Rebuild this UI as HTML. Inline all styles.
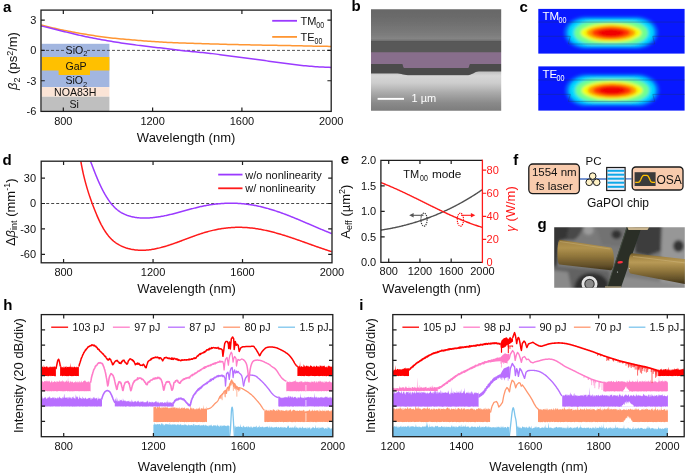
<!DOCTYPE html>
<html><head><meta charset="utf-8"><title>Figure</title>
<style>html,body{margin:0;padding:0;background:#fff;overflow:hidden}svg{display:block}</style>
</head><body>
<svg width="685" height="473" viewBox="0 0 685 473" font-family="'Liberation Sans', Arial, sans-serif">
<rect width="685" height="473" fill="#fff"/>
<text x="3" y="11.8" font-size="15" text-anchor="start" fill="#000" font-weight="bold" >a</text>
<text x="351.5" y="10.8" font-size="15" text-anchor="start" fill="#000" font-weight="bold" >b</text>
<text x="519.5" y="11.9" font-size="15" text-anchor="start" fill="#000" font-weight="bold" >c</text>
<text x="2.5" y="164.6" font-size="15" text-anchor="start" fill="#000" font-weight="bold" >d</text>
<text x="340.8" y="163.7" font-size="15" text-anchor="start" fill="#000" font-weight="bold" >e</text>
<text x="513.2" y="164.7" font-size="15" text-anchor="start" fill="#000" font-weight="bold" >f</text>
<text x="537.4" y="228.9" font-size="15" text-anchor="start" fill="#000" font-weight="bold" >g</text>
<text x="3.3" y="310.3" font-size="15" text-anchor="start" fill="#000" font-weight="bold" >h</text>
<text x="359.3" y="310" font-size="15" text-anchor="start" fill="#000" font-weight="bold" >i</text>
<rect x="41.6" y="43.8" width="67.80000000000001" height="43.3" fill="#a2b6e0"/>
<path d="M41.6,57.1 H109.4 V70.6 H90 V74.9 H58.6 V70.6 H41.6 Z" fill="#ffc000"/>
<rect x="41.6" y="87.1" width="67.80000000000001" height="9.600000000000009" fill="#fbe4d6"/>
<rect x="41.6" y="96.7" width="67.80000000000001" height="14.700000000000003" fill="#bfbfbf"/>
<path d="M41.0,50.4 H64.5 M87,50.4 H331.2" stroke="#444" stroke-width="0.9" stroke-dasharray="3,2" fill="none"/>
<text x="65.6" y="53.8" font-size="10.6" fill="#111">SiO<tspan font-size="7.5" dy="2.6">2</tspan></text>
<text x="76" y="69.6" font-size="10.6" text-anchor="middle" fill="#111" font-weight="normal" >GaP</text>
<text x="65.4" y="84" font-size="10.6" fill="#111">SiO<tspan font-size="7.5" dy="2.6">2</tspan></text>
<text x="75.2" y="95.7" font-size="10.6" text-anchor="middle" fill="#111" font-weight="normal" >NOA83H</text>
<text x="74.2" y="107.7" font-size="10.6" text-anchor="middle" fill="#111" font-weight="normal" >Si</text>
<path d="M41.2,25.1 L43.14,25.57 L45.09,26.04 L47.03,26.51 L48.98,26.97 L50.92,27.43 L52.87,27.89 L54.81,28.33 L56.76,28.78 L58.7,29.21 L60.65,29.63 L62.59,30.05 L64.54,30.45 L66.48,30.84 L68.43,31.23 L70.37,31.6 L72.32,31.97 L74.26,32.33 L76.21,32.68 L78.15,33.03 L80.1,33.37 L82.04,33.7 L83.99,34.03 L85.93,34.36 L87.88,34.68 L89.82,35 L91.77,35.31 L93.71,35.61 L95.66,35.91 L97.6,36.2 L99.55,36.48 L101.49,36.75 L103.44,37.01 L105.38,37.26 L107.33,37.5 L109.27,37.72 L111.22,37.94 L113.16,38.15 L115.11,38.35 L117.05,38.54 L119,38.73 L120.94,38.91 L122.89,39.08 L124.83,39.26 L126.78,39.43 L128.72,39.6 L130.67,39.77 L132.61,39.94 L134.56,40.1 L136.5,40.27 L138.45,40.43 L140.39,40.59 L142.34,40.75 L144.28,40.9 L146.23,41.05 L148.17,41.2 L150.12,41.35 L152.06,41.48 L154.01,41.62 L155.95,41.75 L157.9,41.87 L159.84,41.99 L161.79,42.11 L163.73,42.22 L165.68,42.32 L167.62,42.42 L169.57,42.52 L171.51,42.6 L173.46,42.69 L175.4,42.76 L177.35,42.84 L179.29,42.91 L181.24,42.97 L183.18,43.04 L185.13,43.1 L187.07,43.17 L189.02,43.23 L190.96,43.3 L192.91,43.36 L194.85,43.42 L196.8,43.49 L198.74,43.55 L200.69,43.61 L202.63,43.67 L204.58,43.73 L206.52,43.79 L208.47,43.85 L210.41,43.9 L212.36,43.96 L214.3,44.01 L216.25,44.07 L218.19,44.12 L220.14,44.18 L222.08,44.23 L224.03,44.28 L225.97,44.33 L227.92,44.38 L229.86,44.43 L231.81,44.47 L233.75,44.52 L235.7,44.57 L237.64,44.61 L239.59,44.66 L241.53,44.7 L243.48,44.75 L245.42,44.79 L247.37,44.83 L249.31,44.87 L251.26,44.91 L253.2,44.95 L255.15,44.99 L257.09,45.03 L259.04,45.06 L260.98,45.1 L262.93,45.13 L264.87,45.17 L266.82,45.2 L268.76,45.23 L270.71,45.27 L272.65,45.3 L274.6,45.33 L276.54,45.37 L278.49,45.4 L280.43,45.43 L282.38,45.46 L284.32,45.5 L286.27,45.53 L288.21,45.57 L290.16,45.61 L292.1,45.65 L294.05,45.69 L295.99,45.73 L297.94,45.78 L299.88,45.83 L301.83,45.87 L303.77,45.92 L305.72,45.97 L307.66,46.01 L309.61,46.06 L311.55,46.1 L313.5,46.14 L315.44,46.18 L317.39,46.22 L319.33,46.25 L321.28,46.28 L323.22,46.31 L325.17,46.33 L327.11,46.35 L329.06,46.38 L331,46.4" stroke="#ff9633" stroke-width="1.5" fill="none"/>
<path d="M41.2,25.9 L43.14,26.38 L45.09,26.86 L47.03,27.34 L48.98,27.81 L50.92,28.29 L52.87,28.77 L54.81,29.25 L56.76,29.73 L58.7,30.21 L60.65,30.69 L62.59,31.17 L64.54,31.65 L66.48,32.13 L68.43,32.61 L70.37,33.08 L72.32,33.56 L74.26,34.02 L76.21,34.48 L78.15,34.93 L80.1,35.38 L82.04,35.82 L83.99,36.24 L85.93,36.66 L87.88,37.06 L89.82,37.46 L91.77,37.84 L93.71,38.22 L95.66,38.59 L97.6,38.95 L99.55,39.31 L101.49,39.66 L103.44,40 L105.38,40.35 L107.33,40.68 L109.27,41.01 L111.22,41.34 L113.16,41.66 L115.11,41.98 L117.05,42.3 L119,42.6 L120.94,42.91 L122.89,43.2 L124.83,43.5 L126.78,43.78 L128.72,44.06 L130.67,44.33 L132.61,44.6 L134.56,44.86 L136.5,45.12 L138.45,45.37 L140.39,45.61 L142.34,45.85 L144.28,46.09 L146.23,46.32 L148.17,46.55 L150.12,46.77 L152.06,46.99 L154.01,47.21 L155.95,47.42 L157.9,47.64 L159.84,47.85 L161.79,48.07 L163.73,48.29 L165.68,48.51 L167.62,48.74 L169.57,48.97 L171.51,49.21 L173.46,49.46 L175.4,49.71 L177.35,49.96 L179.29,50.21 L181.24,50.46 L183.18,50.69 L185.13,50.91 L187.07,51.12 L189.02,51.32 L190.96,51.51 L192.91,51.69 L194.85,51.87 L196.8,52.04 L198.74,52.21 L200.69,52.39 L202.63,52.57 L204.58,52.76 L206.52,52.96 L208.47,53.17 L210.41,53.4 L212.36,53.63 L214.3,53.87 L216.25,54.12 L218.19,54.38 L220.14,54.64 L222.08,54.9 L224.03,55.16 L225.97,55.42 L227.92,55.68 L229.86,55.94 L231.81,56.19 L233.75,56.44 L235.7,56.69 L237.64,56.93 L239.59,57.17 L241.53,57.42 L243.48,57.66 L245.42,57.91 L247.37,58.16 L249.31,58.42 L251.26,58.67 L253.2,58.94 L255.15,59.21 L257.09,59.48 L259.04,59.75 L260.98,60.03 L262.93,60.31 L264.87,60.59 L266.82,60.87 L268.76,61.15 L270.71,61.43 L272.65,61.71 L274.6,61.98 L276.54,62.26 L278.49,62.53 L280.43,62.79 L282.38,63.06 L284.32,63.31 L286.27,63.57 L288.21,63.82 L290.16,64.07 L292.1,64.31 L294.05,64.55 L295.99,64.78 L297.94,65 L299.88,65.22 L301.83,65.43 L303.77,65.63 L305.72,65.82 L307.66,66.01 L309.61,66.18 L311.55,66.35 L313.5,66.5 L315.44,66.64 L317.39,66.76 L319.33,66.88 L321.28,66.98 L323.22,67.07 L325.17,67.16 L327.11,67.24 L329.06,67.32 L331,67.4" stroke="#9b3aff" stroke-width="1.5" fill="none"/>
<rect x="41" y="10.1" width="290.2" height="101.3" fill="none" stroke="#1e1e1e" stroke-width="1.3"/>
<path d="M63.32,111.4 v-3.8 M63.32,10.1 v3.8 M152.62,111.4 v-3.8 M152.62,10.1 v3.8 M241.91,111.4 v-3.8 M241.91,10.1 v3.8 M41,20.04 h3.8 M331.2,20.04 h-3.8 M41,50.4 h3.8 M331.2,50.4 h-3.8 M41,80.76 h3.8 M331.2,80.76 h-3.8" stroke="#1e1e1e" stroke-width="1.2" fill="none"/>
<text x="36.3" y="23.84" font-size="11" text-anchor="end" fill="#111" font-weight="normal" >3</text>
<text x="36.3" y="54.2" font-size="11" text-anchor="end" fill="#111" font-weight="normal" >0</text>
<text x="36.3" y="84.56" font-size="11" text-anchor="end" fill="#111" font-weight="normal" >-3</text>
<text x="36.3" y="114.92" font-size="11" text-anchor="end" fill="#111" font-weight="normal" >-6</text>
<text x="63.32" y="124.9" font-size="11" text-anchor="middle" fill="#111" font-weight="normal" >800</text>
<text x="152.62" y="124.9" font-size="11" text-anchor="middle" fill="#111" font-weight="normal" >1200</text>
<text x="241.91" y="124.9" font-size="11" text-anchor="middle" fill="#111" font-weight="normal" >1600</text>
<text x="331.2" y="124.9" font-size="11" text-anchor="middle" fill="#111" font-weight="normal" >2000</text>
<text x="186.1" y="142" font-size="13" text-anchor="middle" fill="#111" font-weight="normal" >Wavelength (nm)</text>
<text transform="translate(17.4,61) rotate(-90)" text-anchor="middle" font-size="13" fill="#111"><tspan font-style="italic">β</tspan><tspan font-size="9" dy="2.5">2</tspan><tspan dy="-2.5"> (ps</tspan><tspan font-size="9" dy="-4.5">2</tspan><tspan dy="4.5">/m)</tspan></text>
<path d="M272.2,20.8 H297" stroke="#9b3aff" stroke-width="1.8"/>
<path d="M272.2,36.9 H297" stroke="#ff9633" stroke-width="1.8"/>
<text x="300.6" y="24.8" font-size="11" text-anchor="start" fill="#111" font-weight="normal" >TM</text>
<text x="316.3" y="27.7" font-size="8.4" fill="#111" textLength="7.8" lengthAdjust="spacingAndGlyphs">00</text>
<text x="300.6" y="40.7" font-size="11" text-anchor="start" fill="#111" font-weight="normal" >TE</text>
<text x="314.6" y="43.6" font-size="8.4" fill="#111" textLength="7.8" lengthAdjust="spacingAndGlyphs">00</text>
<defs>
<clipPath id="semclip"><rect x="371" y="9.2" width="130.2" height="101.6"/></clipPath>
<filter id="semblur" x="-5%" y="-5%" width="110%" height="110%"><feGaussianBlur stdDeviation="0.6"/></filter>
<linearGradient id="semtop" x1="0" y1="0" x2="0" y2="1"><stop offset="0" stop-color="#666"/><stop offset="0.4" stop-color="#6e6e6e"/><stop offset="0.78" stop-color="#7c7c7c"/><stop offset="0.92" stop-color="#868686"/><stop offset="1" stop-color="#767676"/></linearGradient>
<linearGradient id="sembot" gradientUnits="userSpaceOnUse" x1="0" y1="71" x2="0" y2="111"><stop offset="0" stop-color="#bdbdbd"/><stop offset="0.12" stop-color="#d6d6d6"/><stop offset="0.3" stop-color="#cdcdcd"/><stop offset="0.55" stop-color="#a9a9a9"/><stop offset="0.8" stop-color="#8a8a8a"/><stop offset="1" stop-color="#7c7c7c"/></linearGradient>
</defs>
<g clip-path="url(#semclip)">
<g filter="url(#semblur)">
<rect x="369" y="8" width="134" height="34" fill="url(#semtop)"/>
<rect x="369" y="39.2" width="134" height="1.6" fill="#7a7a7a"/>
<rect x="369" y="40.8" width="134" height="35" fill="#555"/>
<rect x="369" y="41.5" width="134" height="11" fill="#585858"/>
<path d="M369,52.3 H503 V63.9 H470 L468.6,68.1 H403.6 L402.2,63.9 H369 Z" fill="#886e8c"/>
<path d="M369,63.9 H402.2 L403.6,68.1 H468.6 L470,63.9 H503 V71.5 H479 C474,71.5 473,75.3 466,75.3 H410 C404,75.3 402,73.5 395,73.5 H369 Z" fill="#4c4c4c"/>
<path d="M369,73.5 H395 C402,73.5 404,75.3 410,75.3 H466 C473,75.3 474,71.5 479,71.5 H503 V112 H369 Z" fill="url(#sembot)"/>
</g>
<rect x="377.6" y="97.9" width="26.4" height="1.9" fill="#fff"/>
</g>
<text x="411.6" y="102.3" font-size="11" text-anchor="start" fill="#fff" font-weight="normal" >1 µm</text>
<defs><filter id="modeblur" x="-20%" y="-40%" width="140%" height="180%"><feGaussianBlur stdDeviation="1.5"/></filter><clipPath id="cclip1"><rect x="538.3" y="8.9" width="146.3" height="44.7"/></clipPath><clipPath id="cclip2"><rect x="538.3" y="66.4" width="146.3" height="44.2"/></clipPath></defs>
<rect x="538.3" y="8.9" width="146.30000000000007" height="44.7" fill="#0818ff"/>
<g clip-path="url(#cclip1)"><g filter="url(#modeblur)">
<rect x="564" y="16.5" width="94" height="32.5" rx="22" ry="16" fill="#0068ff"/>
<rect x="568" y="19" width="86" height="27.5" rx="20" ry="13" fill="#00d8ff"/>
<rect x="574" y="21.5" width="74" height="22.7" rx="20" ry="11" fill="#70ff90"/>
<ellipse cx="611" cy="32.8" rx="30.5" ry="9.3" fill="#f4ff10"/>
<ellipse cx="611" cy="32.8" rx="24.5" ry="7.2" fill="#ff9400"/>
<ellipse cx="611" cy="32.8" rx="19" ry="5.6" fill="#ff3000"/>
<ellipse cx="611" cy="32.8" rx="13" ry="4" fill="#f00000"/>
</g></g>
<path d="M538.3,22.1 H684.6 M538.3,36.3 H570.3 L568.3,44.0 H654.8 L652.8,36.3 H684.6" stroke="#203060" stroke-opacity="0.5" stroke-width="0.7" fill="none"/>
<text x="542.4" y="20.3" font-size="11.5" text-anchor="start" fill="#fff" font-weight="normal" >TM</text>
<text x="558.6" y="23.1" font-size="8.6" fill="#fff" textLength="8" lengthAdjust="spacingAndGlyphs">00</text>
<rect x="538.3" y="66.4" width="146.30000000000007" height="44.2" fill="#0818ff"/>
<g clip-path="url(#cclip2)"><g filter="url(#modeblur)">
<rect x="565.2" y="74.1" width="94" height="32.5" rx="22" ry="16" fill="#0068ff"/>
<rect x="569.2" y="76.6" width="86" height="27.5" rx="20" ry="13" fill="#00d8ff"/>
<rect x="575.2" y="79.1" width="74" height="22.7" rx="20" ry="11" fill="#70ff90"/>
<ellipse cx="612.2" cy="90.4" rx="30.5" ry="9.3" fill="#f4ff10"/>
<ellipse cx="612.2" cy="90.4" rx="24.5" ry="7.2" fill="#ff9400"/>
<ellipse cx="612.2" cy="90.4" rx="19" ry="5.6" fill="#ff3000"/>
<ellipse cx="612.2" cy="90.4" rx="13" ry="4" fill="#f00000"/>
</g></g>
<path d="M538.3,80.0 H684.6 M538.3,94.4 H570.3 L568.3,101.4 H654.8 L652.8,94.4 H684.6" stroke="#203060" stroke-opacity="0.5" stroke-width="0.7" fill="none"/>
<text x="542.4" y="77.8" font-size="11.5" text-anchor="start" fill="#fff" font-weight="normal" >TE</text>
<text x="556.4" y="80.6" font-size="8.6" fill="#fff" textLength="8" lengthAdjust="spacingAndGlyphs">00</text>
<path d="M41.2,203.5 H332.0" stroke="#333" stroke-width="0.9" stroke-dasharray="3,2" fill="none"/>
<clipPath id="dclip"><rect x="41.2" y="161.2" width="290.8" height="101.6"/></clipPath>
<g clip-path="url(#dclip)">
<path d="M90.53,161.31 L90.84,162.1 L91.15,162.9 L91.46,163.71 L91.77,164.52 L92.09,165.34 L92.4,166.17 L92.72,167 L93.04,167.83 L93.36,168.68 L93.69,169.52 L94.01,170.37 L94.35,171.22 L94.68,172.08 L95.02,172.94 L95.36,173.81 L95.71,174.67 L96.05,175.54 L96.41,176.41 L96.77,177.29 L97.13,178.16 L97.5,179.04 L97.87,179.91 L98.25,180.79 L98.63,181.67 L99.02,182.54 L99.41,183.42 L99.81,184.29 L100.22,185.17 L100.63,186.04 L101.05,186.91 L101.47,187.78 L101.91,188.65 L102.35,189.52 L102.79,190.38 L103.25,191.24 L103.71,192.09 L104.18,192.95 L104.66,193.79 L105.14,194.64 L105.64,195.48 L106.14,196.31 L106.65,197.14 L107.17,197.96 L107.7,198.77 L108.24,199.58 L108.79,200.37 L109.35,201.16 L109.91,201.93 L110.49,202.69 L111.08,203.44 L111.68,204.18 L112.29,204.9 L112.91,205.6 L113.54,206.29 L114.18,206.96 L114.83,207.62 L115.5,208.25 L116.18,208.86 L116.86,209.46 L117.57,210.03 L118.28,210.58 L119,211.1 L119.74,211.61 L120.49,212.09 L121.25,212.55 L122.02,212.99 L122.8,213.4 L123.59,213.8 L124.39,214.18 L125.2,214.54 L126.02,214.87 L126.84,215.19 L127.68,215.49 L128.53,215.77 L129.38,216.04 L130.24,216.28 L131.1,216.51 L131.98,216.72 L132.86,216.91 L133.75,217.09 L134.64,217.25 L135.54,217.39 L136.44,217.52 L137.35,217.64 L138.27,217.73 L139.18,217.82 L140.11,217.89 L141.03,217.95 L141.96,217.99 L142.89,218.02 L143.83,218.03 L144.77,218.04 L145.71,218.03 L146.65,218.01 L147.59,217.98 L148.54,217.94 L149.48,217.88 L150.43,217.82 L151.37,217.74 L152.32,217.66 L153.27,217.56 L154.21,217.46 L155.16,217.35 L156.1,217.23 L157.04,217.1 L157.98,216.96 L158.92,216.82 L159.85,216.67 L160.78,216.51 L161.71,216.34 L162.64,216.17 L163.57,216 L164.49,215.81 L165.41,215.62 L166.33,215.43 L167.25,215.23 L168.16,215.02 L169.08,214.81 L169.99,214.6 L170.9,214.38 L171.81,214.16 L172.72,213.94 L173.63,213.71 L174.53,213.47 L175.44,213.24 L176.34,213 L177.25,212.76 L178.15,212.52 L179.05,212.28 L179.95,212.04 L180.85,211.79 L181.75,211.54 L182.65,211.3 L183.55,211.05 L184.45,210.8 L185.35,210.55 L186.25,210.3 L187.15,210.06 L188.05,209.81 L188.95,209.57 L189.84,209.32 L190.74,209.08 L191.65,208.84 L192.55,208.6 L193.45,208.37 L194.35,208.13 L195.25,207.9 L196.16,207.68 L197.06,207.45 L197.97,207.23 L198.87,207.02 L199.78,206.81 L200.69,206.6 L201.6,206.4 L202.52,206.2 L203.43,206.01 L204.35,205.82 L205.26,205.64 L206.18,205.47 L207.1,205.3 L208.02,205.14 L208.95,204.98 L209.88,204.83 L210.8,204.69 L211.73,204.55 L212.66,204.42 L213.6,204.3 L214.53,204.19 L215.47,204.08 L216.4,203.97 L217.34,203.88 L218.28,203.79 L219.22,203.7 L220.16,203.63 L221.1,203.56 L222.04,203.49 L222.98,203.43 L223.92,203.38 L224.87,203.34 L225.81,203.3 L226.76,203.27 L227.7,203.25 L228.64,203.23 L229.59,203.22 L230.53,203.21 L231.48,203.22 L232.42,203.23 L233.36,203.24 L234.31,203.26 L235.25,203.29 L236.19,203.33 L237.13,203.37 L238.07,203.42 L239.01,203.47 L239.95,203.53 L240.89,203.6 L241.83,203.68 L242.76,203.76 L243.7,203.85 L244.63,203.94 L245.56,204.05 L246.49,204.16 L247.42,204.27 L248.35,204.39 L249.28,204.52 L250.2,204.66 L251.12,204.8 L252.04,204.95 L252.96,205.1 L253.88,205.26 L254.79,205.43 L255.71,205.61 L256.62,205.79 L257.53,205.98 L258.44,206.17 L259.34,206.37 L260.25,206.57 L261.15,206.78 L262.05,207 L262.95,207.22 L263.85,207.44 L264.75,207.68 L265.64,207.91 L266.54,208.16 L267.43,208.4 L268.32,208.65 L269.21,208.91 L270.1,209.17 L270.99,209.44 L271.87,209.71 L272.76,209.99 L273.64,210.26 L274.52,210.55 L275.41,210.84 L276.29,211.13 L277.17,211.42 L278.04,211.72 L278.92,212.02 L279.8,212.33 L280.67,212.64 L281.55,212.95 L282.42,213.27 L283.29,213.59 L284.16,213.91 L285.03,214.24 L285.9,214.57 L286.77,214.9 L287.64,215.24 L288.51,215.57 L289.38,215.91 L290.24,216.25 L291.11,216.6 L291.97,216.94 L292.84,217.29 L293.7,217.64 L294.57,218 L295.43,218.35 L296.29,218.71 L297.15,219.06 L298.01,219.42 L298.88,219.78 L299.74,220.14 L300.6,220.51 L301.46,220.87 L302.32,221.24 L303.18,221.6 L304.04,221.97 L304.9,222.34 L305.76,222.71 L306.62,223.07 L307.48,223.44 L308.33,223.81 L309.19,224.18 L310.05,224.55 L310.91,224.92 L311.77,225.29 L312.63,225.66 L313.49,226.03 L314.35,226.4 L315.21,226.77 L316.07,227.13 L316.93,227.5 L317.79,227.87 L318.65,228.23 L319.51,228.6 L320.37,228.96 L321.23,229.32 L322.1,229.68 L322.96,230.04 L323.82,230.4 L324.69,230.76 L325.55,231.11 L326.41,231.46 L327.28,231.81 L328.15,232.16 L329.01,232.51 L329.88,232.85 L330.75,233.2 L331.62,233.54" stroke="#9b3aff" stroke-width="1.5" fill="none"/>
<path d="M80.82,161.15 L81,162.2 L81.18,163.25 L81.37,164.3 L81.56,165.34 L81.76,166.38 L81.96,167.42 L82.17,168.45 L82.38,169.48 L82.59,170.51 L82.81,171.53 L83.03,172.56 L83.26,173.58 L83.49,174.59 L83.73,175.61 L83.97,176.62 L84.22,177.64 L84.46,178.64 L84.72,179.65 L84.98,180.66 L85.24,181.66 L85.51,182.67 L85.78,183.67 L86.06,184.67 L86.34,185.67 L86.63,186.66 L86.92,187.66 L87.21,188.66 L87.51,189.65 L87.82,190.65 L88.13,191.64 L88.44,192.63 L88.76,193.63 L89.09,194.62 L89.41,195.61 L89.75,196.6 L90.09,197.6 L90.43,198.59 L90.78,199.58 L91.13,200.58 L91.49,201.57 L91.85,202.56 L92.22,203.56 L92.59,204.55 L92.97,205.55 L93.35,206.55 L93.74,207.55 L94.13,208.55 L94.52,209.55 L94.93,210.55 L95.33,211.56 L95.75,212.56 L96.16,213.57 L96.58,214.58 L97.01,215.59 L97.45,216.6 L97.89,217.61 L98.34,218.61 L98.79,219.61 L99.26,220.61 L99.73,221.6 L100.21,222.59 L100.7,223.57 L101.19,224.55 L101.7,225.51 L102.22,226.47 L102.75,227.42 L103.29,228.36 L103.84,229.28 L104.41,230.2 L104.98,231.1 L105.57,231.99 L106.17,232.86 L106.79,233.72 L107.41,234.56 L108.06,235.39 L108.71,236.19 L109.39,236.98 L110.07,237.75 L110.78,238.5 L111.5,239.23 L112.23,239.93 L112.99,240.62 L113.76,241.28 L114.55,241.91 L115.35,242.52 L116.18,243.11 L117.02,243.67 L117.88,244.2 L118.75,244.71 L119.64,245.2 L120.54,245.66 L121.46,246.1 L122.39,246.52 L123.33,246.91 L124.28,247.28 L125.24,247.62 L126.21,247.95 L127.19,248.25 L128.18,248.53 L129.18,248.78 L130.18,249.02 L131.18,249.24 L132.2,249.43 L133.21,249.6 L134.23,249.75 L135.25,249.89 L136.28,250 L137.3,250.09 L138.33,250.16 L139.35,250.22 L140.38,250.25 L141.4,250.27 L142.42,250.27 L143.44,250.25 L144.46,250.21 L145.49,250.16 L146.51,250.09 L147.53,250 L148.54,249.9 L149.56,249.78 L150.58,249.65 L151.6,249.5 L152.62,249.34 L153.63,249.17 L154.65,248.99 L155.67,248.79 L156.68,248.58 L157.7,248.35 L158.71,248.12 L159.73,247.87 L160.74,247.62 L161.76,247.35 L162.77,247.07 L163.78,246.79 L164.8,246.5 L165.81,246.19 L166.83,245.88 L167.84,245.56 L168.85,245.24 L169.87,244.91 L170.88,244.57 L171.89,244.22 L172.91,243.88 L173.92,243.52 L174.94,243.16 L175.95,242.8 L176.96,242.43 L177.98,242.06 L178.99,241.68 L180.01,241.31 L181.02,240.93 L182.04,240.55 L183.05,240.16 L184.07,239.78 L185.09,239.4 L186.1,239.01 L187.12,238.63 L188.14,238.25 L189.15,237.87 L190.17,237.49 L191.19,237.11 L192.21,236.73 L193.23,236.36 L194.25,235.99 L195.27,235.63 L196.29,235.27 L197.32,234.91 L198.34,234.56 L199.36,234.21 L200.39,233.87 L201.41,233.53 L202.44,233.21 L203.46,232.88 L204.49,232.57 L205.52,232.27 L206.55,231.97 L207.58,231.68 L208.61,231.4 L209.64,231.13 L210.67,230.87 L211.71,230.61 L212.74,230.37 L213.77,230.14 L214.81,229.91 L215.84,229.69 L216.88,229.49 L217.92,229.29 L218.95,229.1 L219.99,228.92 L221.03,228.75 L222.07,228.59 L223.11,228.44 L224.15,228.3 L225.18,228.16 L226.22,228.04 L227.26,227.93 L228.3,227.82 L229.34,227.73 L230.38,227.64 L231.42,227.57 L232.46,227.5 L233.5,227.45 L234.54,227.4 L235.58,227.36 L236.61,227.33 L237.65,227.32 L238.69,227.31 L239.73,227.31 L240.77,227.32 L241.8,227.35 L242.84,227.38 L243.87,227.42 L244.91,227.47 L245.94,227.53 L246.98,227.6 L248.01,227.69 L249.04,227.78 L250.07,227.88 L251.11,227.98 L252.14,228.1 L253.17,228.23 L254.2,228.36 L255.23,228.5 L256.25,228.66 L257.28,228.82 L258.31,228.98 L259.34,229.16 L260.36,229.34 L261.39,229.53 L262.41,229.73 L263.44,229.93 L264.46,230.14 L265.48,230.36 L266.5,230.59 L267.53,230.82 L268.55,231.05 L269.57,231.3 L270.59,231.55 L271.61,231.8 L272.63,232.06 L273.64,232.33 L274.66,232.6 L275.68,232.88 L276.69,233.16 L277.71,233.45 L278.72,233.74 L279.74,234.04 L280.75,234.34 L281.77,234.64 L282.78,234.95 L283.79,235.26 L284.8,235.58 L285.81,235.9 L286.82,236.22 L287.83,236.55 L288.84,236.88 L289.85,237.21 L290.86,237.54 L291.86,237.88 L292.87,238.22 L293.88,238.56 L294.88,238.91 L295.88,239.26 L296.89,239.6 L297.89,239.95 L298.89,240.3 L299.9,240.66 L300.9,241.01 L301.9,241.36 L302.9,241.72 L303.9,242.08 L304.9,242.43 L305.89,242.79 L306.89,243.15 L307.89,243.5 L308.88,243.86 L309.88,244.22 L310.88,244.57 L311.87,244.93 L312.86,245.28 L313.86,245.63 L314.85,245.99 L315.84,246.34 L316.83,246.69 L317.82,247.04 L318.81,247.38 L319.8,247.73 L320.79,248.07 L321.78,248.41 L322.76,248.74 L323.75,249.08 L324.74,249.41 L325.72,249.74 L326.71,250.07 L327.69,250.39 L328.67,250.71 L329.66,251.02 L330.64,251.34 L331.62,251.64" stroke="#ff1a1a" stroke-width="1.5" fill="none"/>
</g>
<rect x="41.2" y="161.2" width="290.8" height="101.6" fill="none" stroke="#1e1e1e" stroke-width="1.3"/>
<path d="M63.57,262.8 v-3.8 M63.57,161.2 v3.8 M153.05,262.8 v-3.8 M153.05,161.2 v3.8 M242.52,262.8 v-3.8 M242.52,161.2 v3.8 M41.2,178.1 h3.8 M332,178.1 h-3.8 M41.2,203.5 h3.8 M332,203.5 h-3.8 M41.2,228.9 h3.8 M332,228.9 h-3.8 M41.2,254.3 h3.8 M332,254.3 h-3.8" stroke="#1e1e1e" stroke-width="1.2" fill="none"/>
<text x="36.1" y="181.9" font-size="11" text-anchor="end" fill="#111" font-weight="normal" >30</text>
<text x="36.1" y="207.3" font-size="11" text-anchor="end" fill="#111" font-weight="normal" >0</text>
<text x="36.1" y="232.7" font-size="11" text-anchor="end" fill="#111" font-weight="normal" >-30</text>
<text x="36.1" y="258.1" font-size="11" text-anchor="end" fill="#111" font-weight="normal" >-60</text>
<text x="63.57" y="275.8" font-size="11" text-anchor="middle" fill="#111" font-weight="normal" >800</text>
<text x="153.05" y="275.8" font-size="11" text-anchor="middle" fill="#111" font-weight="normal" >1200</text>
<text x="242.52" y="275.8" font-size="11" text-anchor="middle" fill="#111" font-weight="normal" >1600</text>
<text x="332" y="275.8" font-size="11" text-anchor="middle" fill="#111" font-weight="normal" >2000</text>
<text x="186.6" y="292.6" font-size="13" text-anchor="middle" fill="#111" font-weight="normal" >Wavelength (nm)</text>
<text transform="translate(14.6,212.3) rotate(-90)" text-anchor="middle" font-size="13" fill="#111">Δ<tspan font-style="italic">β</tspan><tspan font-size="9" dy="2.5">int</tspan><tspan dy="-2.5"> (mm</tspan><tspan font-size="9" dy="-4.5">-1</tspan><tspan dy="4.5">)</tspan></text>
<path d="M218.2,174.6 H242.5" stroke="#9b3aff" stroke-width="1.8"/>
<path d="M218.2,188.3 H242.5" stroke="#ff1a1a" stroke-width="1.8"/>
<text x="245.3" y="178.6" font-size="11" text-anchor="start" fill="#111" font-weight="normal" >w/o nonlinearity</text>
<text x="245.3" y="192.3" font-size="11" text-anchor="start" fill="#111" font-weight="normal" >w/ nonlinearity</text>
<path d="M380.93,230.1 L381.67,229.98 L382.4,229.87 L383.14,229.76 L383.87,229.64 L384.6,229.52 L385.34,229.4 L386.07,229.27 L386.8,229.15 L387.53,229.02 L388.26,228.88 L388.99,228.75 L389.72,228.62 L390.45,228.48 L391.18,228.34 L391.9,228.19 L392.63,228.05 L393.35,227.9 L394.08,227.75 L394.8,227.6 L395.53,227.45 L396.25,227.29 L396.97,227.13 L397.69,226.97 L398.41,226.81 L399.13,226.64 L399.85,226.48 L400.57,226.31 L401.29,226.14 L402.01,225.96 L402.72,225.79 L403.44,225.61 L404.15,225.43 L404.87,225.25 L405.58,225.06 L406.29,224.87 L407.01,224.68 L407.72,224.49 L408.43,224.3 L409.14,224.1 L409.85,223.9 L410.55,223.7 L411.26,223.5 L411.97,223.3 L412.67,223.09 L413.38,222.88 L414.08,222.67 L414.79,222.46 L415.49,222.24 L416.19,222.02 L416.9,221.8 L417.6,221.58 L418.3,221.36 L419,221.13 L419.69,220.9 L420.39,220.67 L421.09,220.44 L421.79,220.2 L422.48,219.97 L423.18,219.73 L423.87,219.49 L424.56,219.24 L425.25,219 L425.95,218.75 L426.64,218.5 L427.33,218.25 L428.01,217.99 L428.7,217.74 L429.39,217.48 L430.08,217.22 L430.76,216.96 L431.45,216.69 L432.13,216.42 L432.82,216.16 L433.5,215.88 L434.18,215.61 L434.86,215.34 L435.54,215.06 L436.22,214.78 L436.9,214.5 L437.57,214.21 L438.25,213.93 L438.93,213.64 L439.6,213.35 L440.28,213.06 L440.95,212.76 L441.62,212.47 L442.29,212.17 L442.96,211.87 L443.63,211.57 L444.3,211.26 L444.97,210.96 L445.64,210.65 L446.3,210.34 L446.97,210.03 L447.63,209.71 L448.3,209.4 L448.96,209.08 L449.62,208.76 L450.28,208.43 L450.94,208.11 L451.6,207.78 L452.26,207.45 L452.92,207.12 L453.58,206.79 L454.23,206.45 L454.89,206.12 L455.54,205.78 L456.19,205.44 L456.84,205.09 L457.5,204.75 L458.15,204.4 L458.79,204.05 L459.44,203.7 L460.09,203.35 L460.74,202.99 L461.38,202.64 L462.03,202.28 L462.67,201.92 L463.31,201.56 L463.96,201.19 L464.6,200.82 L465.24,200.45 L465.88,200.08 L466.51,199.71 L467.15,199.34 L467.79,198.96 L468.42,198.58 L469.06,198.2 L469.69,197.82 L470.32,197.43 L470.95,197.05 L471.58,196.66 L472.21,196.27 L472.84,195.88 L473.47,195.48 L474.09,195.08 L474.72,194.69 L475.34,194.29 L475.97,193.88 L476.59,193.48 L477.21,193.07 L477.83,192.67 L478.45,192.26 L479.07,191.85 L479.69,191.43 L480.3,191.02 L480.92,190.6 L481.53,190.18 L482.15,189.76" stroke="#505050" stroke-width="1.4" fill="none"/>
<path d="M380.99,182.62 L381.69,182.89 L382.38,183.16 L383.07,183.43 L383.76,183.71 L384.45,183.98 L385.14,184.26 L385.83,184.54 L386.51,184.82 L387.2,185.1 L387.88,185.39 L388.57,185.67 L389.25,185.96 L389.94,186.25 L390.62,186.54 L391.3,186.84 L391.98,187.13 L392.66,187.43 L393.34,187.73 L394.02,188.02 L394.7,188.32 L395.38,188.63 L396.06,188.93 L396.74,189.23 L397.42,189.54 L398.09,189.85 L398.77,190.15 L399.44,190.46 L400.12,190.77 L400.79,191.09 L401.47,191.4 L402.14,191.71 L402.81,192.03 L403.49,192.34 L404.16,192.66 L404.83,192.98 L405.5,193.3 L406.17,193.62 L406.84,193.94 L407.51,194.26 L408.18,194.58 L408.85,194.9 L409.52,195.22 L410.19,195.55 L410.86,195.87 L411.53,196.2 L412.2,196.52 L412.87,196.85 L413.54,197.18 L414.2,197.51 L414.87,197.83 L415.54,198.16 L416.21,198.49 L416.87,198.82 L417.54,199.15 L418.21,199.48 L418.87,199.81 L419.54,200.14 L420.21,200.47 L420.87,200.8 L421.54,201.13 L422.21,201.46 L422.87,201.79 L423.54,202.12 L424.21,202.45 L424.87,202.79 L425.54,203.12 L426.21,203.45 L426.87,203.78 L427.54,204.11 L428.2,204.44 L428.87,204.77 L429.54,205.1 L430.2,205.43 L430.87,205.76 L431.54,206.09 L432.21,206.42 L432.87,206.75 L433.54,207.07 L434.21,207.4 L434.88,207.73 L435.54,208.06 L436.21,208.38 L436.88,208.71 L437.55,209.03 L438.22,209.36 L438.89,209.68 L439.56,210 L440.23,210.32 L440.9,210.65 L441.57,210.97 L442.24,211.29 L442.91,211.6 L443.58,211.92 L444.25,212.24 L444.93,212.56 L445.6,212.87 L446.27,213.19 L446.94,213.5 L447.62,213.81 L448.29,214.12 L448.97,214.43 L449.64,214.74 L450.32,215.05 L451,215.35 L451.67,215.66 L452.35,215.96 L453.03,216.26 L453.71,216.56 L454.39,216.86 L455.06,217.16 L455.74,217.46 L456.43,217.75 L457.11,218.05 L457.79,218.34 L458.47,218.63 L459.16,218.92 L459.84,219.2 L460.52,219.49 L461.21,219.77 L461.9,220.05 L462.58,220.33 L463.27,220.61 L463.96,220.89 L464.65,221.16 L465.34,221.44 L466.03,221.71 L466.72,221.98 L467.41,222.24 L468.11,222.51 L468.8,222.77 L469.49,223.03 L470.19,223.29 L470.89,223.55 L471.58,223.8 L472.28,224.05 L472.98,224.3 L473.68,224.55 L474.38,224.79 L475.09,225.04 L475.79,225.28 L476.49,225.52 L477.2,225.75 L477.9,225.98 L478.61,226.22 L479.32,226.44 L480.03,226.67 L480.74,226.89 L481.45,227.11 L482.16,227.33" stroke="#ff1a1a" stroke-width="1.4" fill="none"/>
<ellipse cx="424" cy="219.6" rx="3.1" ry="6.6" fill="none" stroke="#333" stroke-width="1.1" stroke-dasharray="1.3,0.9"/>
<ellipse cx="460.4" cy="219.6" rx="3.1" ry="6.6" fill="none" stroke="#ff0000" stroke-width="1.1" stroke-dasharray="1.3,0.9"/>
<path d="M423.5,215.3 H412" stroke="#555" stroke-width="1.1"/><path d="M409.2,215.3 L413.6,213.1 L413.6,217.5 Z" fill="#555"/>
<path d="M461,215.3 H472.5" stroke="#ff1a1a" stroke-width="1.1"/><path d="M475.3,215.3 L470.9,213.1 L470.9,217.5 Z" fill="#ff1a1a"/>
<path d="M482.4,160.3 H380.9 V262.4 H482.4" stroke="#1e1e1e" stroke-width="1.3" fill="none"/>
<path d="M482.4,159.65 V263.04999999999995" stroke="#ff1a1a" stroke-width="1.3" fill="none"/>
<path d="M388.71,262.4 v-3.8 M388.71,160.3 v3.8 M419.94,262.4 v-3.8 M419.94,160.3 v3.8 M451.17,262.4 v-3.8 M451.17,160.3 v3.8 M380.9,236.88 h3.8 M380.9,211.35 h3.8 M380.9,185.82 h3.8" stroke="#1e1e1e" stroke-width="1.2" fill="none"/>
<path d="M482.4,239.35 h3.8 M482.4,216.3 h3.8 M482.4,193.25 h3.8 M482.4,170.2 h3.8" stroke="#ff1a1a" stroke-width="1.2" fill="none"/>
<text x="376.2" y="266.2" font-size="11" text-anchor="end" fill="#111" font-weight="normal" >0.0</text>
<text x="376.2" y="240.68" font-size="11" text-anchor="end" fill="#111" font-weight="normal" >0.5</text>
<text x="376.2" y="215.15" font-size="11" text-anchor="end" fill="#111" font-weight="normal" >1.0</text>
<text x="376.2" y="189.62" font-size="11" text-anchor="end" fill="#111" font-weight="normal" >1.5</text>
<text x="376.2" y="164.1" font-size="11" text-anchor="end" fill="#111" font-weight="normal" >2.0</text>
<text x="486.6" y="266.2" font-size="11" text-anchor="start" fill="#ff1a1a" font-weight="normal" >0</text>
<text x="486.6" y="243.15" font-size="11" text-anchor="start" fill="#ff1a1a" font-weight="normal" >20</text>
<text x="486.6" y="220.1" font-size="11" text-anchor="start" fill="#ff1a1a" font-weight="normal" >40</text>
<text x="486.6" y="197.05" font-size="11" text-anchor="start" fill="#ff1a1a" font-weight="normal" >60</text>
<text x="486.6" y="174" font-size="11" text-anchor="start" fill="#ff1a1a" font-weight="normal" >80</text>
<text x="388.71" y="275.4" font-size="11" text-anchor="middle" fill="#111" font-weight="normal" >800</text>
<text x="419.94" y="275.4" font-size="11" text-anchor="middle" fill="#111" font-weight="normal" >1200</text>
<text x="451.17" y="275.4" font-size="11" text-anchor="middle" fill="#111" font-weight="normal" >1600</text>
<text x="482.4" y="275.4" font-size="11" text-anchor="middle" fill="#111" font-weight="normal" >2000</text>
<text x="431.6" y="293.4" font-size="13" text-anchor="middle" fill="#111" font-weight="normal" >Wavelength (nm)</text>
<text transform="translate(349.9,211.6) rotate(-90)" text-anchor="middle" font-size="13" fill="#111">A<tspan font-size="9" dy="2.5">eff</tspan><tspan dy="-2.5"> (µm</tspan><tspan font-size="9" dy="-4.5">2</tspan><tspan dy="4.5">)</tspan></text>
<text transform="translate(515.2,209) rotate(-90)" text-anchor="middle" font-size="13" fill="#ff1a1a"><tspan font-style="italic">γ</tspan> (W/m)</text>
<text x="403.3" y="178.2" font-size="11" text-anchor="start" fill="#111" font-weight="normal" >TM</text>
<text x="420" y="181.4" font-size="8.4" fill="#111" textLength="7.8" lengthAdjust="spacingAndGlyphs">00</text>
<text x="431.9" y="178.3" font-size="11.8" text-anchor="start" fill="#111" font-weight="normal" >mode</text>
<path d="M579.9,179 H606.2 M625.6,178.9 H631.6" stroke="#4a72c4" stroke-width="1.4" fill="none"/>
<rect x="528.8" y="164" width="50.6" height="29.6" rx="4" ry="4" fill="#f8cbad" stroke="#1a1a1a" stroke-width="1.3"/>
<text x="554.3" y="175.9" font-size="11.5" text-anchor="middle" fill="#111" font-weight="normal" >1554 nm</text>
<text x="554.2" y="189.8" font-size="11.5" text-anchor="middle" fill="#111" font-weight="normal" >fs laser</text>
<text x="593.6" y="164.9" font-size="11.5" text-anchor="middle" fill="#111" font-weight="normal" >PC</text>
<circle cx="592.7" cy="176.1" r="3.3" fill="#fff2c6" stroke="#1a1a1a" stroke-width="1"/>
<circle cx="589.2" cy="182.3" r="3.3" fill="#fff2c6" stroke="#1a1a1a" stroke-width="1"/>
<circle cx="596.7" cy="182.3" r="3.3" fill="#fff2c6" stroke="#1a1a1a" stroke-width="1"/>
<rect x="606.7" y="167.5" width="18.4" height="23" fill="#eeeef8" stroke="#1a1a1a" stroke-width="1.2"/>
<rect x="607.4" y="169.8" width="17" height="2" fill="#10a8e8"/>
<rect x="607.4" y="173.7" width="17" height="2" fill="#10a8e8"/>
<rect x="607.4" y="177.7" width="17" height="2" fill="#10a8e8"/>
<rect x="607.4" y="181.7" width="17" height="2" fill="#10a8e8"/>
<rect x="607.4" y="185.8" width="17" height="2" fill="#10a8e8"/>
<text x="618" y="207.3" font-size="12" text-anchor="middle" fill="#111" font-weight="normal" >GaPOI chip</text>
<rect x="632.2" y="167" width="50.8" height="23" rx="3.6" ry="3.6" fill="#f8cbad" stroke="#1a1a1a" stroke-width="1.3"/>
<rect x="634.6" y="172.2" width="21" height="13.8" fill="#3b3b3b"/>
<path d="M635.2,182.3 L635.54,182.3 L635.87,182.3 L636.21,182.3 L636.54,182.3 L636.88,182.3 L637.21,182.3 L637.55,182.3 L637.88,182.29 L638.22,182.27 L638.56,182.23 L638.89,182.14 L639.23,181.96 L639.56,181.68 L639.9,181.25 L640.23,180.69 L640.57,180.01 L640.91,179.26 L641.24,178.48 L641.58,177.74 L641.91,177.08 L642.25,176.53 L642.58,176.1 L642.92,175.79 L643.25,175.57 L643.59,175.43 L643.93,175.36 L644.26,175.32 L644.6,175.3 L644.93,175.3 L645.27,175.3 L645.6,175.3 L645.94,175.3 L646.27,175.31 L646.61,175.35 L646.95,175.41 L647.28,175.54 L647.62,175.74 L647.95,176.03 L648.29,176.44 L648.62,176.97 L648.96,177.61 L649.29,178.34 L649.63,179.11 L649.97,179.87 L650.3,180.57 L650.64,181.16 L650.97,181.61 L651.31,181.92 L651.64,182.11 L651.98,182.22 L652.32,182.27 L652.65,182.29 L652.99,182.3 L653.32,182.3 L653.66,182.3 L653.99,182.3 L654.33,182.3 L654.66,182.3 L655,182.3" stroke="#ffc000" stroke-width="1.3" fill="none"/>
<text x="669.1" y="183.6" font-size="12" text-anchor="middle" fill="#111" font-weight="normal" >OSA</text>
<defs>
<clipPath id="gclip"><rect x="554.2" y="227.2" width="130.6" height="60.5"/></clipPath>
<filter id="gblur" x="-5%" y="-5%" width="110%" height="110%"><feGaussianBlur stdDeviation="1.4"/></filter>
<filter id="gblur2" x="-10%" y="-10%" width="120%" height="120%"><feGaussianBlur stdDeviation="0.45"/></filter>
<linearGradient id="brass1" gradientUnits="userSpaceOnUse" x1="0" y1="239" x2="0" y2="271"><stop offset="0" stop-color="#6a5526"/><stop offset="0.1" stop-color="#a48646"/><stop offset="0.28" stop-color="#b0924e"/><stop offset="0.55" stop-color="#8e743a"/><stop offset="0.82" stop-color="#64512a"/><stop offset="1" stop-color="#3a2e16"/></linearGradient>
<linearGradient id="brass2" gradientUnits="userSpaceOnUse" x1="0" y1="253" x2="0" y2="284"><stop offset="0" stop-color="#6a5526"/><stop offset="0.14" stop-color="#a48646"/><stop offset="0.3" stop-color="#b89a56"/><stop offset="0.55" stop-color="#94793e"/><stop offset="0.82" stop-color="#66532a"/><stop offset="1" stop-color="#3e3216"/></linearGradient>
</defs>
<g clip-path="url(#gclip)"><g filter="url(#gblur)">
<rect x="550" y="222" width="140" height="70" fill="#7a7a7a"/>
<path d="M550,222 H580 C580,230 577,236 570,239 L560,240.5 L557,266 L550,268 Z" fill="#363636"/>
<path d="M570,222 H584 C583,230 580,236 574,240 L566,240 Z" fill="#4a4a4a"/>
<ellipse cx="588.5" cy="230" rx="5" ry="5" fill="#9c9c9c"/>
<path d="M594,222 H630 L627,247 L602,245 Z" fill="#727272"/>
<ellipse cx="616.5" cy="234.5" rx="5" ry="4.5" fill="#303030"/>
<path d="M633,222 H662 L661,251 L648,256 L635,253 Z" fill="#3c3c3c"/>
<path d="M662,222 H690 V292 H660 Z" fill="#979797"/>
<ellipse cx="678.5" cy="246" rx="5.5" ry="6" fill="#353535"/>
<path d="M550,266 L609,271 L612,292 H550 Z" fill="#626262"/>
<path d="M550,270 L568,272 L572,292 H550 Z" fill="#8a8a8a"/>
<path d="M574,292 C574,279 581,273 591,273 C600,273 606,277 608,283 L608,292 Z" fill="#2e2e2e"/>
<path d="M620,276 L690,286 V292 H618 Z" fill="#8c8c8c"/>
</g>
<g filter="url(#gblur2)">
<circle cx="589.5" cy="284" r="6.6" fill="none" stroke="#e4e4e4" stroke-width="2.8"/>
<circle cx="589.5" cy="284" r="4.2" fill="#8a8a8a"/>
<path d="M560,239.8 L610.5,247.6 C614.8,248.3 615.2,269.8 610.6,270.3 L559.5,264.6 C556.5,264 556.8,240 560,239.8 Z" fill="url(#brass1)"/>
<path d="M560,241.5 L610,249" stroke="#c0a870" stroke-width="1" opacity="0.6"/>
<path d="M627,226 H642 L620.5,289 H606.6 Z" fill="#292f27"/>
<path d="M627.3,226.5 L606.9,288" stroke="#475044" stroke-width="0.9"/>
<path d="M626,224 H651 L647.5,230 H628.5 Z" fill="#c8b48e"/>
<path d="M605,286.3 H621 V290 H605 Z" fill="#a89a7c"/>
<path d="M632,253.2 L686,259.3 V284.3 L630.5,273.4 C627.5,272.6 627.8,253.6 632,253.2 Z" fill="url(#brass2)"/>
<path d="M633,256.5 L686,263" stroke="#d0b880" stroke-width="0.9" opacity="0.55"/>
<ellipse cx="620.2" cy="262.3" rx="2.8" ry="1.2" fill="#ff3040" transform="rotate(-8 620.2 262.3)"/>
<circle cx="617.5" cy="272" r="0.6" fill="#ddd"/><circle cx="629.3" cy="268.5" r="0.5" fill="#ddd"/>
</g></g>
<clipPath id="hclip"><rect x="41.3" y="314.6" width="291.5" height="122.1"/></clipPath>
<g clip-path="url(#hclip)">
<path d="M153.40,436.70 L153.40,424.41 L153.73,424.70 L154.06,424.41 L154.39,422.11 L154.72,424.77 L155.05,424.51 L155.38,423.92 L155.71,424.60 L156.04,424.48 L156.37,424.45 L156.70,424.30 L157.03,424.61 L157.36,423.85 L157.69,424.20 L158.02,424.02 L158.35,424.57 L158.68,424.35 L159.01,424.16 L159.34,423.87 L159.67,424.19 L160.00,424.11 L160.33,424.20 L160.66,425.15 L160.99,424.98 L161.32,422.76 L161.65,423.26 L161.98,424.30 L162.31,422.92 L162.64,424.55 L162.97,424.56 L163.30,425.70 L163.63,423.77 L163.96,424.22 L164.29,425.68 L164.62,424.85 L164.95,424.87 L165.28,424.17 L165.61,423.50 L165.94,424.60 L166.27,424.57 L166.60,423.78 L166.93,424.11 L167.26,424.48 L167.59,423.97 L167.92,424.48 L168.25,424.61 L168.58,424.58 L168.91,424.26 L169.24,422.16 L169.57,425.12 L169.90,424.78 L170.23,424.11 L170.56,425.04 L170.89,424.31 L171.22,425.15 L171.55,423.82 L171.88,425.19 L172.21,424.63 L172.54,423.90 L172.87,424.47 L173.20,424.70 L173.53,424.84 L173.86,424.09 L174.19,424.03 L174.52,424.82 L174.85,424.43 L175.18,424.86 L175.51,425.18 L175.84,423.74 L176.17,424.89 L176.50,425.48 L176.83,424.58 L177.16,424.28 L177.49,424.04 L177.82,424.93 L178.15,425.32 L178.48,424.59 L178.81,423.91 L179.14,424.74 L179.47,424.55 L179.80,425.29 L180.13,424.95 L180.46,423.86 L180.79,423.95 L181.12,425.39 L181.45,425.27 L181.78,424.49 L182.11,424.67 L182.44,425.15 L182.77,424.87 L183.10,425.43 L183.43,424.90 L183.76,424.86 L184.09,424.77 L184.42,425.57 L184.75,423.59 L185.08,424.87 L185.41,424.98 L185.74,424.11 L186.07,425.17 L186.40,424.59 L186.73,425.51 L187.06,424.92 L187.39,425.41 L187.72,425.74 L188.05,425.25 L188.38,424.50 L188.71,424.13 L189.04,426.10 L189.37,424.98 L189.70,424.65 L190.03,425.15 L190.36,424.96 L190.69,425.59 L191.02,425.11 L191.35,425.11 L191.68,424.68 L192.01,425.39 L192.34,424.50 L192.67,425.53 L193.00,426.05 L193.33,424.23 L193.66,423.67 L193.99,424.24 L194.32,426.70 L194.65,424.22 L194.98,424.43 L195.31,425.54 L195.64,424.69 L195.97,424.90 L196.30,425.01 L196.63,425.54 L196.96,424.99 L197.29,425.40 L197.62,425.14 L197.95,424.75 L198.28,425.07 L198.61,424.70 L198.94,425.28 L199.27,424.61 L199.60,424.64 L199.93,426.17 L200.26,425.28 L200.59,425.28 L200.92,425.63 L201.25,425.08 L201.58,425.20 L201.91,425.60 L202.24,425.52 L202.57,424.67 L202.90,425.87 L203.23,425.02 L203.56,424.75 L203.89,424.85 L204.22,425.17 L204.55,426.39 L204.88,424.71 L205.21,425.52 L205.54,424.15 L205.87,425.44 L206.20,425.99 L206.53,425.31 L206.86,425.09 L207.19,425.61 L207.52,425.90 L207.85,425.89 L208.18,426.68 L208.51,425.63 L208.84,425.16 L209.17,425.44 L209.50,425.48 L209.83,425.60 L210.16,425.52 L210.49,425.65 L210.82,424.56 L211.15,426.06 L211.48,425.23 L211.81,424.34 L212.14,425.97 L212.47,426.39 L212.80,425.90 L213.13,425.71 L213.46,425.06 L213.79,425.23 L214.12,426.16 L214.45,424.96 L214.78,425.18 L215.11,425.71 L215.44,424.73 L215.77,425.78 L216.10,425.41 L216.43,426.43 L216.76,426.28 L217.09,424.08 L217.42,425.74 L217.75,424.75 L218.08,426.40 L218.41,425.84 L218.74,426.07 L219.07,425.11 L219.40,426.86 L219.73,426.98 L220.06,425.14 L220.39,426.01 L220.72,425.39 L221.05,425.79 L221.38,425.05 L221.71,426.94 L222.04,425.24 L222.37,425.65 L222.70,426.14 L223.03,425.46 L223.36,425.71 L223.69,425.52 L224.02,425.79 L224.35,425.18 L224.68,425.62 L225.01,425.77 L225.34,425.70 L225.67,425.94 L226.00,425.74 L226.33,426.38 L226.66,425.69 L226.99,425.86 L227.32,425.55 L227.65,425.64 L227.98,425.21 L228.31,426.28 L228.64,425.29 L228.97,425.54 L229.30,426.21 L229.50,426.24 L229.50,436.70 L229.50,436.64 L229.30,436.71 L228.97,436.66 L228.64,436.59 L228.31,436.73 L227.98,436.90 L227.65,436.68 L227.32,436.97 L226.99,436.64 L226.66,436.50 L226.33,436.85 L226.00,436.63 L225.67,436.72 L225.34,436.88 L225.01,436.49 L224.68,436.70 L224.35,436.49 L224.02,436.82 L223.69,436.68 L223.36,436.52 L223.03,436.65 L222.70,436.97 L222.37,436.49 L222.04,436.83 L221.71,436.69 L221.38,436.46 L221.05,436.68 L220.72,436.43 L220.39,436.87 L220.06,436.82 L219.73,436.57 L219.40,436.79 L219.07,436.53 L218.74,436.54 L218.41,436.81 L218.08,436.38 L217.75,436.71 L217.42,436.73 L217.09,437.02 L216.76,436.62 L216.43,436.65 L216.10,436.61 L215.77,436.75 L215.44,437.03 L215.11,436.58 L214.78,436.83 L214.45,436.89 L214.12,436.96 L213.79,436.67 L213.46,436.68 L213.13,436.73 L212.80,436.67 L212.47,436.50 L212.14,436.91 L211.81,436.76 L211.48,436.58 L211.15,436.74 L210.82,436.70 L210.49,436.73 L210.16,436.55 L209.83,436.55 L209.50,436.51 L209.17,436.90 L208.84,436.93 L208.51,436.70 L208.18,436.92 L207.85,436.60 L207.52,436.78 L207.19,436.81 L206.86,436.79 L206.53,436.64 L206.20,436.69 L205.87,437.26 L205.54,436.64 L205.21,436.93 L204.88,436.89 L204.55,436.71 L204.22,436.74 L203.89,436.64 L203.56,436.89 L203.23,436.83 L202.90,436.80 L202.57,436.63 L202.24,436.37 L201.91,436.70 L201.58,436.47 L201.25,436.87 L200.92,436.90 L200.59,436.79 L200.26,436.81 L199.93,436.68 L199.60,436.89 L199.27,436.51 L198.94,436.71 L198.61,436.66 L198.28,436.56 L197.95,436.74 L197.62,436.46 L197.29,436.78 L196.96,436.89 L196.63,436.76 L196.30,436.51 L195.97,436.72 L195.64,436.71 L195.31,436.73 L194.98,436.82 L194.65,436.65 L194.32,436.66 L193.99,436.85 L193.66,436.64 L193.33,436.60 L193.00,436.79 L192.67,436.68 L192.34,436.67 L192.01,436.60 L191.68,436.69 L191.35,436.56 L191.02,436.67 L190.69,436.69 L190.36,436.75 L190.03,436.63 L189.70,436.69 L189.37,436.51 L189.04,436.96 L188.71,436.78 L188.38,436.54 L188.05,436.71 L187.72,436.75 L187.39,436.83 L187.06,436.43 L186.73,436.31 L186.40,436.68 L186.07,436.60 L185.74,436.68 L185.41,436.89 L185.08,436.43 L184.75,436.52 L184.42,436.60 L184.09,436.97 L183.76,436.91 L183.43,436.71 L183.10,436.66 L182.77,436.52 L182.44,436.94 L182.11,436.69 L181.78,436.85 L181.45,436.47 L181.12,436.56 L180.79,436.60 L180.46,436.81 L180.13,436.65 L179.80,436.92 L179.47,436.66 L179.14,436.38 L178.81,436.66 L178.48,436.37 L178.15,436.64 L177.82,436.43 L177.49,436.69 L177.16,436.48 L176.83,436.59 L176.50,436.84 L176.17,436.84 L175.84,436.43 L175.51,436.55 L175.18,436.95 L174.85,436.73 L174.52,436.81 L174.19,436.57 L173.86,436.57 L173.53,436.72 L173.20,436.63 L172.87,436.62 L172.54,436.73 L172.21,436.72 L171.88,436.48 L171.55,436.73 L171.22,436.64 L170.89,436.61 L170.56,436.75 L170.23,436.88 L169.90,436.77 L169.57,436.52 L169.24,436.64 L168.91,436.51 L168.58,436.72 L168.25,436.88 L167.92,436.78 L167.59,436.84 L167.26,436.54 L166.93,436.62 L166.60,436.61 L166.27,436.67 L165.94,436.44 L165.61,436.79 L165.28,436.53 L164.95,436.74 L164.62,436.77 L164.29,436.53 L163.96,436.61 L163.63,436.74 L163.30,436.70 L162.97,436.89 L162.64,436.84 L162.31,436.85 L161.98,436.55 L161.65,436.61 L161.32,436.57 L160.99,436.58 L160.66,436.86 L160.33,436.64 L160.00,436.96 L159.67,436.84 L159.34,436.78 L159.01,436.70 L158.68,436.74 L158.35,436.53 L158.02,436.72 L157.69,436.61 L157.36,436.74 L157.03,436.93 L156.70,436.95 L156.37,436.53 L156.04,437.00 L155.71,436.35 L155.38,436.57 L155.05,436.61 L154.72,436.74 L154.39,436.62 L154.06,436.40 L153.73,436.17 L153.40,436.61Z" fill="#7cc4ec"/>
<path d="M234.40,436.70 L234.40,426.71 L234.73,426.29 L235.06,426.36 L235.39,425.15 L235.72,427.70 L236.05,427.32 L236.38,426.44 L236.71,427.10 L237.04,426.81 L237.37,426.32 L237.70,427.24 L238.03,426.48 L238.36,426.47 L238.69,426.20 L239.02,426.95 L239.35,426.63 L239.68,427.02 L240.01,426.33 L240.34,423.73 L240.67,426.17 L241.00,427.22 L241.33,426.83 L241.66,426.92 L241.99,426.98 L242.32,426.13 L242.65,427.21 L242.98,427.98 L243.31,425.77 L243.64,425.72 L243.97,425.86 L244.30,427.28 L244.63,426.85 L244.96,427.43 L245.29,427.22 L245.62,426.92 L245.95,426.97 L246.28,426.16 L246.61,427.33 L246.94,426.14 L247.27,426.57 L247.60,426.97 L247.93,427.91 L248.26,426.38 L248.59,426.20 L248.92,426.51 L249.25,427.44 L249.58,426.72 L249.91,427.66 L250.24,425.75 L250.57,427.56 L250.90,427.51 L251.23,426.04 L251.56,426.99 L251.89,427.63 L252.22,426.96 L252.55,427.51 L252.88,428.34 L253.21,427.09 L253.54,426.76 L253.87,426.47 L254.20,427.33 L254.53,426.83 L254.86,426.85 L255.19,426.90 L255.52,427.35 L255.85,426.33 L256.18,426.06 L256.51,425.52 L256.84,427.71 L257.17,427.04 L257.50,427.91 L257.83,427.00 L258.16,426.57 L258.49,427.30 L258.82,426.98 L259.15,426.28 L259.48,425.01 L259.81,428.10 L260.14,426.67 L260.47,427.30 L260.80,426.89 L261.13,426.65 L261.46,427.60 L261.79,427.01 L262.12,426.62 L262.45,427.00 L262.78,426.55 L263.11,427.21 L263.44,427.78 L263.77,426.61 L264.10,427.97 L264.43,426.72 L264.76,427.22 L265.09,426.63 L265.42,427.00 L265.75,427.17 L266.08,426.89 L266.41,426.73 L266.74,426.75 L267.07,426.67 L267.40,426.23 L267.73,427.02 L268.06,426.43 L268.39,427.73 L268.72,427.58 L269.05,427.53 L269.38,425.56 L269.71,426.94 L270.04,428.34 L270.37,426.59 L270.70,427.81 L271.03,426.66 L271.36,427.45 L271.69,426.06 L272.02,427.79 L272.35,427.16 L272.68,426.68 L273.01,428.27 L273.34,427.73 L273.67,427.31 L274.00,426.84 L274.33,427.26 L274.66,427.20 L274.99,427.74 L275.32,427.17 L275.65,426.91 L275.98,426.99 L276.31,427.00 L276.64,426.52 L276.97,426.98 L277.30,427.29 L277.63,427.76 L277.96,428.14 L278.29,426.87 L278.62,426.91 L278.95,427.10 L279.28,428.30 L279.61,427.35 L279.94,427.69 L280.27,426.83 L280.60,426.91 L280.93,427.52 L281.26,427.18 L281.59,427.63 L281.92,426.48 L282.25,427.32 L282.58,426.89 L282.91,428.47 L283.24,427.27 L283.57,428.11 L283.90,426.62 L284.23,427.72 L284.56,426.93 L284.89,427.18 L285.22,427.49 L285.55,427.29 L285.88,427.65 L286.21,427.94 L286.54,427.89 L286.87,427.45 L287.20,426.69 L287.53,425.13 L287.86,427.41 L288.19,426.26 L288.52,425.29 L288.85,426.20 L289.18,427.40 L289.51,428.12 L289.84,427.96 L290.17,427.70 L290.50,426.97 L290.83,427.76 L291.16,427.79 L291.49,427.06 L291.82,428.22 L292.15,427.90 L292.48,426.42 L292.81,427.68 L293.14,426.86 L293.47,428.30 L293.80,428.11 L294.13,426.97 L294.46,425.41 L294.79,427.70 L295.12,427.51 L295.45,428.57 L295.78,424.67 L296.11,427.50 L296.44,428.02 L296.77,426.46 L297.10,427.87 L297.43,428.21 L297.76,427.59 L298.09,427.27 L298.42,428.05 L298.75,428.89 L299.08,427.84 L299.41,427.05 L299.74,428.60 L300.07,426.61 L300.40,428.04 L300.73,427.40 L301.06,428.31 L301.39,427.25 L301.72,428.56 L302.05,427.95 L302.38,426.74 L302.71,426.60 L303.04,427.60 L303.37,428.57 L303.70,427.87 L304.03,427.84 L304.36,427.67 L304.69,428.26 L305.02,428.05 L305.35,427.99 L305.68,427.24 L306.01,427.91 L306.34,428.66 L306.67,427.07 L307.00,429.24 L307.33,428.29 L307.66,427.57 L307.99,426.73 L308.32,428.27 L308.65,428.22 L308.98,427.53 L309.31,426.82 L309.64,428.57 L309.97,427.55 L310.30,427.63 L310.63,429.62 L310.96,429.20 L311.29,428.50 L311.62,427.66 L311.95,428.33 L312.28,426.58 L312.61,428.02 L312.94,427.50 L313.27,427.19 L313.60,427.02 L313.93,428.29 L314.26,428.03 L314.59,428.08 L314.92,428.50 L315.25,427.49 L315.58,424.83 L315.91,426.94 L316.24,427.81 L316.57,428.48 L316.90,427.94 L317.23,428.20 L317.56,427.33 L317.89,427.76 L318.22,427.59 L318.55,427.30 L318.88,429.18 L319.21,428.58 L319.54,427.61 L319.87,427.62 L320.20,428.05 L320.53,427.22 L320.86,428.36 L321.19,427.32 L321.52,427.88 L321.85,427.50 L322.18,427.83 L322.51,427.32 L322.84,427.18 L323.17,427.55 L323.50,427.73 L323.83,427.97 L324.16,428.19 L324.49,429.07 L324.82,428.65 L325.15,428.02 L325.48,428.61 L325.81,427.77 L326.14,429.05 L326.47,428.52 L326.80,427.38 L327.13,428.66 L327.46,428.70 L327.79,426.60 L328.12,427.77 L328.45,427.94 L328.78,427.07 L329.11,427.60 L329.44,427.67 L329.77,428.55 L330.10,428.43 L330.43,429.83 L330.76,428.03 L331.09,428.96 L331.42,428.32 L331.75,428.44 L332.08,427.59 L332.41,427.15 L332.74,427.84 L332.80,428.76 L332.80,436.70 L332.80,436.65 L332.74,436.77 L332.41,436.53 L332.08,436.51 L331.75,436.83 L331.42,436.48 L331.09,436.46 L330.76,436.86 L330.43,436.72 L330.10,436.58 L329.77,436.79 L329.44,436.40 L329.11,436.79 L328.78,436.67 L328.45,436.70 L328.12,436.36 L327.79,436.68 L327.46,436.70 L327.13,436.64 L326.80,436.78 L326.47,436.75 L326.14,436.58 L325.81,436.60 L325.48,436.46 L325.15,436.65 L324.82,436.70 L324.49,436.45 L324.16,436.36 L323.83,436.55 L323.50,436.59 L323.17,436.92 L322.84,436.94 L322.51,436.36 L322.18,436.69 L321.85,436.53 L321.52,436.82 L321.19,436.68 L320.86,436.80 L320.53,436.78 L320.20,436.82 L319.87,436.63 L319.54,436.62 L319.21,436.37 L318.88,436.80 L318.55,436.62 L318.22,436.71 L317.89,436.72 L317.56,436.72 L317.23,436.64 L316.90,436.48 L316.57,436.62 L316.24,436.59 L315.91,436.60 L315.58,436.80 L315.25,436.75 L314.92,436.72 L314.59,436.80 L314.26,436.62 L313.93,436.86 L313.60,437.01 L313.27,436.68 L312.94,437.00 L312.61,436.46 L312.28,436.80 L311.95,436.61 L311.62,436.59 L311.29,436.69 L310.96,436.71 L310.63,436.81 L310.30,436.65 L309.97,436.45 L309.64,436.59 L309.31,436.59 L308.98,436.72 L308.65,436.61 L308.32,436.76 L307.99,436.82 L307.66,436.61 L307.33,436.74 L307.00,436.46 L306.67,436.69 L306.34,436.73 L306.01,436.66 L305.68,436.41 L305.35,436.82 L305.02,436.73 L304.69,436.52 L304.36,436.81 L304.03,436.58 L303.70,436.27 L303.37,436.78 L303.04,436.76 L302.71,436.73 L302.38,436.64 L302.05,436.89 L301.72,436.80 L301.39,436.73 L301.06,436.61 L300.73,436.46 L300.40,436.63 L300.07,436.48 L299.74,436.63 L299.41,436.78 L299.08,436.63 L298.75,436.91 L298.42,436.84 L298.09,436.48 L297.76,436.65 L297.43,436.51 L297.10,436.78 L296.77,436.91 L296.44,436.76 L296.11,436.85 L295.78,436.67 L295.45,436.43 L295.12,437.00 L294.79,436.63 L294.46,436.64 L294.13,436.71 L293.80,436.73 L293.47,436.74 L293.14,436.79 L292.81,436.70 L292.48,436.78 L292.15,436.59 L291.82,436.67 L291.49,436.47 L291.16,436.50 L290.83,436.75 L290.50,436.66 L290.17,436.79 L289.84,436.77 L289.51,436.54 L289.18,436.90 L288.85,436.60 L288.52,436.81 L288.19,436.69 L287.86,436.72 L287.53,436.74 L287.20,436.50 L286.87,436.62 L286.54,436.65 L286.21,436.47 L285.88,436.54 L285.55,436.70 L285.22,436.73 L284.89,436.41 L284.56,436.51 L284.23,436.54 L283.90,436.66 L283.57,436.71 L283.24,437.04 L282.91,436.72 L282.58,436.67 L282.25,436.67 L281.92,436.76 L281.59,436.88 L281.26,436.63 L280.93,436.73 L280.60,436.82 L280.27,436.78 L279.94,436.65 L279.61,436.93 L279.28,436.71 L278.95,436.81 L278.62,436.80 L278.29,436.45 L277.96,436.81 L277.63,436.40 L277.30,436.66 L276.97,436.69 L276.64,436.88 L276.31,436.91 L275.98,436.54 L275.65,436.74 L275.32,436.83 L274.99,436.82 L274.66,436.37 L274.33,436.45 L274.00,436.69 L273.67,436.82 L273.34,436.74 L273.01,436.54 L272.68,436.83 L272.35,436.78 L272.02,436.62 L271.69,436.54 L271.36,436.49 L271.03,436.62 L270.70,436.46 L270.37,436.60 L270.04,436.68 L269.71,436.71 L269.38,436.68 L269.05,436.71 L268.72,436.64 L268.39,436.59 L268.06,437.00 L267.73,436.78 L267.40,436.80 L267.07,436.56 L266.74,436.73 L266.41,436.85 L266.08,436.63 L265.75,436.33 L265.42,436.64 L265.09,436.63 L264.76,436.45 L264.43,436.88 L264.10,436.56 L263.77,436.56 L263.44,436.70 L263.11,436.98 L262.78,436.70 L262.45,436.69 L262.12,436.60 L261.79,436.82 L261.46,436.59 L261.13,436.84 L260.80,436.81 L260.47,436.53 L260.14,436.67 L259.81,436.50 L259.48,436.51 L259.15,436.87 L258.82,436.62 L258.49,436.74 L258.16,436.68 L257.83,436.89 L257.50,436.58 L257.17,437.17 L256.84,436.80 L256.51,436.81 L256.18,436.75 L255.85,436.94 L255.52,436.73 L255.19,436.66 L254.86,436.47 L254.53,436.55 L254.20,436.82 L253.87,436.61 L253.54,436.95 L253.21,436.49 L252.88,436.85 L252.55,436.71 L252.22,436.89 L251.89,436.57 L251.56,436.59 L251.23,436.93 L250.90,436.60 L250.57,436.80 L250.24,436.45 L249.91,436.59 L249.58,437.04 L249.25,436.76 L248.92,436.71 L248.59,436.45 L248.26,436.87 L247.93,436.54 L247.60,436.90 L247.27,436.76 L246.94,436.72 L246.61,436.75 L246.28,436.35 L245.95,436.81 L245.62,436.94 L245.29,436.75 L244.96,436.64 L244.63,436.62 L244.30,436.25 L243.97,436.83 L243.64,437.05 L243.31,436.77 L242.98,436.69 L242.65,436.56 L242.32,436.74 L241.99,436.63 L241.66,436.60 L241.33,436.59 L241.00,436.64 L240.67,436.79 L240.34,436.64 L240.01,436.71 L239.68,436.61 L239.35,436.79 L239.02,436.90 L238.69,436.56 L238.36,436.66 L238.03,436.69 L237.70,436.58 L237.37,436.91 L237.04,436.51 L236.71,436.74 L236.38,437.10 L236.05,436.84 L235.72,436.79 L235.39,436.67 L235.06,436.87 L234.73,436.76 L234.40,436.92Z" fill="#7cc4ec"/>
<path d="M229.5,436.7 L229.71,435.92 L229.93,434.48 L230.14,432.6 L230.35,430.42 L230.57,427.15 L230.78,423.11 L230.99,419.15 L231.2,415.08 L231.42,411.08 L231.63,408.82 L231.84,407.76 L232.06,407.22 L232.27,407.47 L232.48,408.37 L232.7,409.73 L232.91,412.48 L233.12,416.05 L233.33,419.54 L233.55,423.06 L233.76,426.71 L233.97,430.18 L234.19,433.49 L234.4,436.7" stroke="#7cc4ec" stroke-width="1.3" fill="none" stroke-linejoin="round"/>
<path d="M153.40,422.00 L153.40,408.42 L153.73,405.68 L154.06,407.47 L154.39,406.89 L154.72,406.97 L155.05,407.13 L155.38,406.05 L155.71,407.14 L156.04,406.77 L156.37,409.29 L156.70,407.45 L157.03,407.11 L157.36,407.16 L157.69,406.94 L158.02,406.72 L158.35,407.13 L158.68,407.67 L159.01,407.25 L159.34,402.22 L159.67,407.29 L160.00,407.44 L160.33,408.36 L160.66,407.77 L160.99,407.15 L161.32,407.36 L161.65,407.80 L161.98,408.65 L162.31,407.34 L162.64,407.36 L162.97,408.12 L163.30,407.00 L163.63,407.37 L163.96,408.08 L164.29,407.91 L164.62,406.10 L164.95,407.99 L165.28,405.90 L165.61,408.22 L165.94,407.05 L166.27,406.63 L166.60,407.81 L166.93,408.07 L167.26,407.40 L167.59,407.03 L167.92,407.70 L168.25,407.67 L168.58,408.55 L168.91,408.17 L169.24,407.85 L169.57,408.41 L169.90,407.63 L170.23,407.21 L170.56,408.13 L170.89,408.14 L171.22,407.67 L171.55,407.34 L171.88,407.96 L172.21,401.88 L172.54,408.26 L172.87,408.15 L173.20,406.88 L173.53,407.91 L173.86,407.31 L174.19,408.35 L174.52,406.69 L174.85,407.37 L175.18,408.36 L175.51,408.64 L175.84,406.66 L176.17,407.67 L176.50,408.17 L176.83,407.62 L177.16,408.95 L177.49,407.29 L177.82,408.23 L178.15,407.40 L178.48,408.89 L178.81,408.04 L179.14,407.84 L179.47,407.04 L179.80,409.10 L180.13,408.55 L180.46,408.56 L180.79,408.80 L181.12,408.34 L181.45,407.76 L181.78,407.67 L182.11,407.68 L182.44,409.00 L182.77,407.31 L183.10,407.77 L183.43,408.02 L183.76,408.35 L184.09,408.58 L184.42,407.49 L184.75,407.21 L185.08,408.26 L185.41,409.00 L185.74,408.74 L186.07,408.43 L186.40,408.12 L186.73,408.50 L187.06,408.18 L187.39,408.83 L187.72,407.88 L188.05,408.44 L188.38,408.31 L188.71,408.71 L189.04,408.53 L189.37,409.94 L189.70,409.32 L190.03,409.33 L190.36,399.71 L190.69,408.25 L191.02,408.10 L191.35,408.79 L191.68,407.12 L192.01,409.20 L192.34,409.15 L192.67,407.74 L193.00,407.94 L193.33,408.06 L193.66,408.58 L193.99,408.95 L194.32,409.80 L194.65,408.47 L194.98,409.06 L195.31,408.70 L195.64,409.67 L195.97,409.07 L196.30,409.46 L196.63,408.01 L196.96,408.55 L197.29,408.19 L197.62,409.59 L197.95,409.09 L198.28,407.94 L198.61,408.45 L198.94,409.02 L199.27,408.32 L199.60,406.43 L199.93,409.05 L200.26,410.25 L200.59,408.64 L200.92,408.46 L201.25,408.10 L201.58,408.02 L201.91,409.14 L202.24,407.70 L202.57,408.86 L202.90,409.06 L203.23,408.94 L203.56,404.84 L203.89,407.98 L204.22,408.63 L204.55,408.98 L204.88,408.46 L205.21,408.65 L205.54,408.46 L205.87,408.76 L206.20,406.18 L206.53,408.74 L206.86,408.90 L207.00,409.49 L207.00,422.00 L207.00,421.93 L206.86,422.01 L206.53,422.03 L206.20,422.16 L205.87,421.87 L205.54,421.81 L205.21,422.07 L204.88,421.93 L204.55,422.15 L204.22,421.88 L203.89,422.23 L203.56,421.92 L203.23,422.04 L202.90,422.21 L202.57,421.95 L202.24,422.21 L201.91,422.08 L201.58,421.88 L201.25,421.96 L200.92,422.13 L200.59,421.98 L200.26,422.02 L199.93,421.90 L199.60,422.11 L199.27,421.65 L198.94,421.98 L198.61,421.98 L198.28,422.00 L197.95,421.87 L197.62,422.18 L197.29,422.36 L196.96,422.07 L196.63,422.05 L196.30,422.25 L195.97,422.18 L195.64,421.74 L195.31,422.10 L194.98,422.04 L194.65,421.80 L194.32,421.97 L193.99,422.04 L193.66,422.17 L193.33,421.88 L193.00,422.11 L192.67,421.95 L192.34,421.89 L192.01,421.89 L191.68,421.96 L191.35,422.18 L191.02,422.05 L190.69,422.00 L190.36,422.04 L190.03,421.85 L189.70,422.12 L189.37,422.12 L189.04,422.11 L188.71,422.11 L188.38,421.97 L188.05,422.16 L187.72,421.84 L187.39,422.19 L187.06,421.88 L186.73,421.88 L186.40,422.16 L186.07,422.16 L185.74,422.06 L185.41,421.94 L185.08,421.67 L184.75,421.89 L184.42,422.39 L184.09,422.20 L183.76,421.94 L183.43,422.08 L183.10,421.91 L182.77,422.06 L182.44,422.07 L182.11,422.12 L181.78,422.03 L181.45,421.87 L181.12,422.09 L180.79,421.97 L180.46,421.93 L180.13,422.16 L179.80,421.84 L179.47,421.50 L179.14,421.67 L178.81,422.15 L178.48,422.26 L178.15,421.99 L177.82,421.86 L177.49,422.17 L177.16,422.00 L176.83,422.09 L176.50,422.20 L176.17,421.74 L175.84,421.93 L175.51,421.94 L175.18,421.87 L174.85,422.13 L174.52,421.98 L174.19,421.94 L173.86,422.01 L173.53,422.19 L173.20,421.93 L172.87,422.24 L172.54,421.78 L172.21,422.12 L171.88,422.04 L171.55,422.06 L171.22,421.96 L170.89,422.25 L170.56,422.17 L170.23,421.82 L169.90,422.00 L169.57,422.04 L169.24,421.96 L168.91,421.95 L168.58,421.86 L168.25,422.07 L167.92,422.03 L167.59,422.05 L167.26,422.22 L166.93,422.08 L166.60,421.87 L166.27,421.92 L165.94,421.99 L165.61,422.08 L165.28,421.99 L164.95,421.90 L164.62,421.82 L164.29,422.10 L163.96,421.97 L163.63,422.01 L163.30,421.94 L162.97,422.29 L162.64,422.04 L162.31,422.00 L161.98,422.02 L161.65,421.93 L161.32,422.05 L160.99,421.96 L160.66,422.03 L160.33,422.25 L160.00,422.05 L159.67,422.08 L159.34,422.01 L159.01,422.24 L158.68,422.01 L158.35,422.13 L158.02,421.82 L157.69,422.11 L157.36,422.20 L157.03,422.16 L156.70,422.10 L156.37,422.21 L156.04,422.27 L155.71,422.06 L155.38,422.12 L155.05,421.98 L154.72,421.98 L154.39,421.96 L154.06,421.82 L153.73,422.00 L153.40,422.09Z" fill="#ff976e"/>
<path d="M264.30,422.00 L264.30,409.91 L264.63,410.20 L264.96,411.30 L265.29,410.70 L265.62,409.32 L265.95,410.31 L266.28,409.94 L266.61,410.41 L266.94,409.35 L267.27,410.47 L267.60,410.47 L267.93,411.27 L268.26,410.52 L268.59,410.64 L268.92,409.44 L269.25,411.69 L269.58,409.19 L269.91,411.00 L270.24,410.15 L270.57,409.82 L270.90,409.95 L271.23,409.95 L271.56,410.58 L271.89,410.29 L272.22,411.25 L272.55,409.26 L272.88,410.36 L273.21,409.83 L273.54,409.17 L273.87,409.10 L274.20,410.17 L274.53,410.50 L274.86,409.49 L275.19,410.97 L275.52,410.49 L275.85,410.99 L276.18,410.96 L276.51,409.80 L276.84,409.91 L277.17,408.99 L277.50,410.85 L277.83,410.91 L278.16,409.98 L278.49,410.04 L278.82,408.77 L279.15,410.06 L279.48,410.27 L279.81,410.33 L280.14,411.65 L280.47,410.11 L280.80,410.25 L281.13,410.70 L281.46,409.85 L281.79,410.21 L282.12,410.44 L282.45,410.90 L282.78,409.65 L283.11,411.26 L283.44,410.23 L283.77,410.54 L284.10,410.95 L284.43,410.84 L284.76,411.08 L285.09,410.56 L285.42,410.44 L285.75,410.65 L286.08,409.86 L286.41,411.19 L286.74,409.65 L287.07,409.71 L287.40,411.70 L287.73,410.39 L288.06,409.77 L288.39,411.59 L288.72,410.28 L289.05,411.12 L289.38,409.99 L289.71,410.34 L290.04,409.47 L290.37,409.34 L290.70,409.91 L291.03,410.45 L291.36,410.98 L291.69,411.96 L292.02,409.88 L292.35,411.11 L292.68,410.14 L293.01,410.42 L293.34,409.62 L293.67,409.63 L294.00,410.05 L294.33,409.80 L294.66,410.52 L294.99,410.10 L295.32,411.28 L295.65,410.62 L295.98,410.63 L296.31,411.22 L296.64,410.48 L296.97,410.52 L297.30,410.49 L297.63,410.47 L297.96,411.19 L298.29,411.02 L298.62,410.77 L298.95,411.03 L299.28,410.23 L299.61,410.86 L299.94,409.71 L300.27,411.37 L300.60,410.62 L300.93,410.68 L301.26,410.93 L301.59,410.57 L301.92,410.42 L302.25,411.29 L302.58,410.65 L302.91,410.03 L303.24,410.85 L303.57,409.56 L303.90,410.00 L304.23,410.49 L304.56,410.62 L304.89,411.95 L305.22,411.89 L305.55,410.67 L305.88,410.98 L306.21,411.26 L306.54,411.62 L306.87,410.53 L307.20,410.69 L307.53,411.35 L307.86,410.78 L308.19,411.07 L308.52,410.99 L308.85,409.94 L309.18,410.11 L309.51,409.05 L309.84,410.48 L310.17,411.44 L310.50,409.97 L310.83,411.38 L311.16,411.24 L311.49,410.61 L311.82,410.64 L312.15,410.70 L312.48,410.14 L312.81,409.31 L313.14,410.63 L313.47,411.03 L313.80,411.14 L314.13,409.20 L314.46,411.16 L314.79,410.20 L315.12,410.57 L315.45,410.90 L315.78,410.66 L316.11,410.60 L316.44,410.84 L316.77,410.35 L317.10,410.29 L317.43,410.57 L317.76,410.22 L318.09,410.63 L318.42,411.84 L318.75,410.83 L319.08,408.92 L319.41,410.44 L319.74,411.70 L320.07,410.71 L320.40,410.45 L320.73,410.19 L321.06,411.51 L321.39,410.53 L321.72,411.12 L322.05,410.98 L322.38,411.59 L322.71,409.48 L323.04,409.99 L323.37,411.19 L323.70,410.84 L324.03,410.67 L324.36,411.20 L324.69,410.76 L325.02,408.98 L325.35,411.68 L325.68,411.37 L326.01,410.68 L326.34,410.53 L326.67,410.89 L327.00,409.96 L327.33,410.94 L327.66,410.62 L327.99,410.55 L328.32,410.21 L328.65,410.36 L328.98,410.93 L329.31,411.58 L329.64,411.08 L329.97,410.75 L330.30,410.26 L330.63,411.21 L330.96,411.75 L331.29,409.82 L331.62,411.50 L331.95,409.49 L332.28,408.61 L332.61,411.03 L332.80,409.98 L332.80,422.00 L332.80,422.05 L332.61,421.94 L332.28,421.98 L331.95,421.98 L331.62,422.23 L331.29,421.94 L330.96,421.93 L330.63,422.12 L330.30,421.98 L329.97,422.28 L329.64,422.10 L329.31,422.11 L328.98,421.93 L328.65,421.99 L328.32,421.70 L327.99,421.90 L327.66,422.13 L327.33,422.29 L327.00,421.86 L326.67,422.12 L326.34,421.98 L326.01,421.99 L325.68,421.98 L325.35,421.88 L325.02,421.97 L324.69,422.09 L324.36,421.71 L324.03,422.16 L323.70,422.01 L323.37,421.85 L323.04,421.87 L322.71,421.97 L322.38,422.15 L322.05,421.85 L321.72,422.12 L321.39,422.07 L321.06,421.81 L320.73,422.20 L320.40,421.80 L320.07,421.94 L319.74,421.75 L319.41,421.89 L319.08,422.08 L318.75,422.04 L318.42,421.91 L318.09,421.86 L317.76,421.77 L317.43,421.94 L317.10,422.13 L316.77,422.24 L316.44,422.21 L316.11,421.81 L315.78,422.17 L315.45,422.21 L315.12,422.08 L314.79,421.81 L314.46,422.05 L314.13,422.07 L313.80,422.22 L313.47,421.93 L313.14,422.06 L312.81,422.19 L312.48,421.78 L312.15,422.09 L311.82,421.85 L311.49,421.98 L311.16,422.02 L310.83,421.59 L310.50,422.12 L310.17,422.13 L309.84,422.16 L309.51,421.85 L309.18,422.06 L308.85,422.04 L308.52,421.93 L308.19,422.00 L307.86,422.03 L307.53,421.94 L307.20,422.04 L306.87,422.12 L306.54,422.04 L306.21,422.02 L305.88,421.51 L305.55,421.90 L305.22,422.10 L304.89,421.89 L304.56,421.73 L304.23,422.25 L303.90,422.14 L303.57,422.05 L303.24,421.96 L302.91,422.20 L302.58,421.82 L302.25,421.90 L301.92,422.09 L301.59,421.76 L301.26,422.03 L300.93,422.07 L300.60,422.04 L300.27,422.20 L299.94,421.82 L299.61,422.03 L299.28,422.12 L298.95,422.09 L298.62,421.98 L298.29,422.05 L297.96,422.00 L297.63,422.00 L297.30,421.85 L296.97,421.96 L296.64,421.81 L296.31,421.73 L295.98,422.16 L295.65,422.09 L295.32,422.14 L294.99,421.91 L294.66,421.79 L294.33,422.12 L294.00,422.22 L293.67,421.99 L293.34,421.85 L293.01,422.16 L292.68,421.99 L292.35,422.16 L292.02,422.22 L291.69,422.23 L291.36,422.10 L291.03,422.08 L290.70,421.96 L290.37,421.85 L290.04,421.92 L289.71,421.55 L289.38,422.00 L289.05,421.93 L288.72,421.87 L288.39,422.14 L288.06,421.94 L287.73,421.85 L287.40,422.38 L287.07,421.86 L286.74,422.13 L286.41,421.99 L286.08,422.00 L285.75,421.93 L285.42,421.97 L285.09,422.09 L284.76,421.92 L284.43,422.02 L284.10,422.10 L283.77,422.16 L283.44,422.15 L283.11,422.27 L282.78,421.88 L282.45,421.82 L282.12,422.06 L281.79,422.02 L281.46,421.70 L281.13,421.90 L280.80,422.04 L280.47,421.97 L280.14,421.94 L279.81,421.92 L279.48,421.84 L279.15,421.69 L278.82,421.94 L278.49,421.87 L278.16,422.26 L277.83,422.02 L277.50,422.06 L277.17,422.09 L276.84,421.85 L276.51,422.24 L276.18,421.94 L275.85,421.93 L275.52,422.24 L275.19,422.06 L274.86,422.21 L274.53,422.12 L274.20,421.76 L273.87,421.85 L273.54,421.98 L273.21,422.14 L272.88,422.12 L272.55,422.02 L272.22,421.92 L271.89,421.82 L271.56,422.03 L271.23,421.98 L270.90,421.78 L270.57,421.97 L270.24,421.80 L269.91,422.09 L269.58,421.92 L269.25,421.87 L268.92,421.89 L268.59,421.94 L268.26,421.96 L267.93,422.24 L267.60,421.93 L267.27,421.97 L266.94,421.63 L266.61,422.05 L266.28,421.79 L265.95,422.00 L265.62,422.20 L265.29,422.05 L264.96,422.07 L264.63,421.84 L264.30,422.35Z" fill="#ff976e"/>
<rect x="305.6" y="413" width="0.7" height="8.5" fill="#fff"/>
<path d="M207,409 L207.29,408.99 L207.57,408.96 L207.86,408.91 L208.15,408.85 L208.43,408.77 L208.72,408.68 L209.01,408.58 L209.3,408.48 L209.58,408.37 L209.87,408.25 L210.16,408.13 L210.44,407.98 L210.73,407.8 L211.02,407.59 L211.3,407.37 L211.59,407.12 L211.88,406.87 L212.16,406.62 L212.45,406.36 L212.74,406.08 L213.02,405.77 L213.31,405.44 L213.6,405.1 L213.89,404.76 L214.17,404.42 L214.46,404.08 L214.75,403.77 L215.03,403.47 L215.32,403.2 L215.61,402.95 L215.89,402.71 L216.18,402.47 L216.47,402.23 L216.75,401.98 L217.04,401.71 L217.33,401.4 L217.61,401.05 L217.9,400.62 L218.19,400.12 L218.48,399.56 L218.76,398.98 L219.05,398.39 L219.34,397.81 L219.62,397.27 L219.91,396.78 L220.2,396.37 L220.48,396.01 L220.77,395.67 L221.06,395.37 L221.34,395.07 L221.63,394.79 L221.92,394.5 L222.2,394.19 L222.49,393.87 L222.78,393.53 L223.07,393.15 L223.35,392.75 L223.64,392.34 L223.93,391.9 L224.21,391.46 L224.5,391" stroke="#ff976e" stroke-width="1.3" fill="none" stroke-linejoin="round"/>
<path d="M224.5,391 L225.5,390.5 L226.3,393.5 L227.2,388 L228.4,387 L229,390.5 L229.6,385.5 L230.3,384.1 L231,381.5 L231.7,379.9 L232.4,382.5 L233.1,383.2 L233.6,386.5 L234.2,383.6 L235,384.1 L235.7,388 L236.5,387 L237.5,386.8 L238.3,389.5 L239,387.5 L240.8,388 L242.1,388.5" stroke="#ff976e" stroke-width="1.2" fill="none" stroke-linejoin="round" stroke-linecap="round"/>
<path d="M242.1,388.5 L242.39,388.67 L242.69,388.85 L242.98,389.02 L243.28,389.19 L243.57,389.37 L243.87,389.54 L244.16,389.72 L244.46,389.89 L244.75,390.07 L245.05,390.24 L245.34,390.41 L245.64,390.58 L245.93,390.75 L246.23,390.93 L246.52,391.1 L246.82,391.29 L247.11,391.48 L247.41,391.67 L247.7,391.87 L247.99,392.08 L248.29,392.29 L248.58,392.51 L248.88,392.73 L249.17,392.95 L249.47,393.18 L249.76,393.41 L250.06,393.65 L250.35,393.88 L250.65,394.12 L250.94,394.37 L251.24,394.61 L251.53,394.86 L251.83,395.12 L252.12,395.38 L252.42,395.65 L252.71,395.92 L253.01,396.21 L253.3,396.49 L253.59,396.79 L253.89,397.1 L254.18,397.42 L254.48,397.74 L254.77,398.07 L255.07,398.4 L255.36,398.73 L255.66,399.07 L255.95,399.4 L256.25,399.74 L256.54,400.08 L256.84,400.41 L257.13,400.75 L257.43,401.08 L257.72,401.42 L258.02,401.76 L258.31,402.11 L258.61,402.46 L258.9,402.81 L259.19,403.18 L259.49,403.54 L259.78,403.92 L260.08,404.3 L260.37,404.71 L260.67,405.14 L260.96,405.59 L261.26,406.05 L261.55,406.51 L261.85,406.97 L262.14,407.43 L262.44,407.88 L262.73,408.31 L263.03,408.71 L263.32,409.09 L263.62,409.43 L263.91,409.74 L264.21,410.03 L264.5,410.3" stroke="#ff976e" stroke-width="1.3" fill="none" stroke-linejoin="round"/>
<path d="M219.70,396.64 v1.89 M220.05,396.22 v1.60 M220.40,395.80 v0.65 M220.75,395.39 v3.30 M221.10,394.99 v3.80 M222.15,393.84 v6.34 M222.50,393.48 v0.55 M222.85,393.14 v2.01 M223.55,392.48 v0.69 M224.25,391.80 v2.39 M224.95,391.06 v5.62 M225.30,390.65 v6.74 M225.65,390.23 v1.22 M226.00,389.79 v4.22 M226.35,389.34 v1.59 M226.70,388.87 v4.72 M227.40,387.89 v1.22 M228.10,386.84 v4.52 M228.45,386.21 v0.34 M229.15,384.68 v4.04 M229.50,383.86 v2.64 M229.85,383.05 v4.55 M230.20,382.29 v1.51 M230.55,381.62 v4.13 M230.90,381.08 v0.68 M231.25,380.69 v1.47 M231.60,380.51 v4.78 M231.95,380.54 v3.05 M232.65,380.99 v2.96 M233.35,381.79 v9.04 M233.70,382.27 v2.86 M234.40,383.25 v5.13 M234.75,383.71 v5.27 M235.45,384.54 v2.99 M235.80,385.01 v5.29 M236.15,385.49 v3.15 M236.50,385.97 v3.16 M236.85,386.43 v10.20 M237.55,387.18 v2.83 M238.25,387.63 v2.18 M238.60,387.80 v3.75 M239.30,388.12 v2.69 M239.65,388.25 v1.03 M240.00,388.36 v1.87" stroke="#ff976e" stroke-width="0.7"/>
<path d="M41.30,406.50 L41.30,398.44 L41.63,399.03 L41.96,395.57 L42.29,397.05 L42.62,398.43 L42.95,398.70 L43.28,398.15 L43.61,398.83 L43.94,397.87 L44.27,398.08 L44.60,397.79 L44.93,396.79 L45.26,396.97 L45.59,397.96 L45.92,397.20 L46.25,398.68 L46.58,398.70 L46.91,399.11 L47.24,397.66 L47.57,398.79 L47.90,396.96 L48.23,397.04 L48.56,397.76 L48.89,397.93 L49.22,396.43 L49.55,396.32 L49.88,398.00 L50.21,397.03 L50.54,398.69 L50.87,398.04 L51.20,397.98 L51.53,397.90 L51.86,398.46 L52.19,396.70 L52.52,398.62 L52.85,397.33 L53.18,397.58 L53.51,397.22 L53.84,398.24 L54.17,397.80 L54.50,397.08 L54.83,399.38 L55.16,397.49 L55.49,397.69 L55.82,398.11 L56.15,399.19 L56.48,397.68 L56.81,398.37 L57.14,397.89 L57.47,396.64 L57.80,398.45 L58.13,398.64 L58.46,397.63 L58.79,397.82 L59.12,396.63 L59.45,396.62 L59.78,397.53 L60.11,398.35 L60.44,397.48 L60.77,398.09 L61.10,398.64 L61.43,397.94 L61.76,398.33 L62.09,399.03 L62.42,396.88 L62.75,397.70 L63.08,396.38 L63.41,398.24 L63.74,398.06 L64.07,394.07 L64.40,394.41 L64.73,397.86 L65.06,397.58 L65.39,398.00 L65.72,397.20 L66.05,398.36 L66.38,397.10 L66.71,397.69 L67.04,397.63 L67.37,398.96 L67.70,396.75 L68.03,397.62 L68.36,398.90 L68.69,397.12 L69.02,396.97 L69.35,398.20 L69.68,396.25 L70.01,398.65 L70.34,397.25 L70.67,397.16 L71.00,398.52 L71.33,398.82 L71.66,397.12 L71.99,399.14 L72.32,397.29 L72.65,396.80 L72.98,397.25 L73.31,398.15 L73.64,395.81 L73.97,398.38 L74.30,398.43 L74.63,398.29 L74.96,397.84 L75.29,399.50 L75.62,396.28 L75.95,394.14 L76.28,397.66 L76.61,397.06 L76.94,396.02 L77.27,397.44 L77.60,397.48 L77.93,396.12 L78.26,398.77 L78.59,399.13 L78.92,399.08 L79.25,394.71 L79.58,398.22 L79.91,397.21 L80.24,398.28 L80.57,397.58 L80.90,398.45 L81.23,397.85 L81.56,398.96 L81.89,398.80 L82.22,399.13 L82.55,396.86 L82.88,396.69 L83.21,398.48 L83.54,397.69 L83.87,398.48 L84.20,398.40 L84.53,398.31 L84.86,398.91 L85.19,397.09 L85.52,398.56 L85.85,397.47 L86.18,399.57 L86.51,398.30 L86.84,399.09 L87.17,398.47 L87.50,399.22 L87.83,398.34 L88.16,398.39 L88.49,398.33 L88.82,397.66 L89.15,397.77 L89.48,398.12 L89.81,398.15 L90.14,397.46 L90.47,400.13 L90.80,397.47 L91.13,398.01 L91.46,400.22 L91.79,397.74 L92.12,398.88 L92.45,398.80 L92.78,398.11 L93.11,397.14 L93.44,397.04 L93.77,398.29 L94.10,398.63 L94.43,396.58 L94.76,398.43 L95.09,397.79 L95.42,399.03 L95.75,398.46 L96.08,397.68 L96.41,397.99 L96.74,398.37 L97.07,398.80 L97.40,400.78 L97.73,398.64 L98.06,396.61 L98.39,398.92 L98.72,398.39 L99.05,398.93 L99.38,398.74 L99.71,398.44 L100.04,397.81 L100.37,398.58 L100.70,399.18 L101.03,398.52 L101.36,399.68 L101.69,399.23 L102.00,398.37 L102.00,406.50 L102.00,406.39 L101.69,406.25 L101.36,406.61 L101.03,406.44 L100.70,406.66 L100.37,406.36 L100.04,406.67 L99.71,406.40 L99.38,406.45 L99.05,406.32 L98.72,406.50 L98.39,406.59 L98.06,406.31 L97.73,406.72 L97.40,406.54 L97.07,406.52 L96.74,406.42 L96.41,406.69 L96.08,406.62 L95.75,406.47 L95.42,406.57 L95.09,406.33 L94.76,406.57 L94.43,406.42 L94.10,406.66 L93.77,406.28 L93.44,406.56 L93.11,406.40 L92.78,406.43 L92.45,406.52 L92.12,406.55 L91.79,406.62 L91.46,406.44 L91.13,406.57 L90.80,406.13 L90.47,406.85 L90.14,406.57 L89.81,406.55 L89.48,406.56 L89.15,406.25 L88.82,406.59 L88.49,406.20 L88.16,406.58 L87.83,406.46 L87.50,406.67 L87.17,406.57 L86.84,406.46 L86.51,406.69 L86.18,406.41 L85.85,406.54 L85.52,406.60 L85.19,406.73 L84.86,406.38 L84.53,406.40 L84.20,406.26 L83.87,406.60 L83.54,406.35 L83.21,406.63 L82.88,406.67 L82.55,406.56 L82.22,406.47 L81.89,406.32 L81.56,406.50 L81.23,406.57 L80.90,406.48 L80.57,406.42 L80.24,406.55 L79.91,406.56 L79.58,406.64 L79.25,406.45 L78.92,406.60 L78.59,406.48 L78.26,406.23 L77.93,406.44 L77.60,406.53 L77.27,406.34 L76.94,406.63 L76.61,406.45 L76.28,406.45 L75.95,406.24 L75.62,406.58 L75.29,406.63 L74.96,406.55 L74.63,406.66 L74.30,406.54 L73.97,406.57 L73.64,406.40 L73.31,406.46 L72.98,406.63 L72.65,406.43 L72.32,406.76 L71.99,406.57 L71.66,406.47 L71.33,406.58 L71.00,406.30 L70.67,406.28 L70.34,406.71 L70.01,406.62 L69.68,406.45 L69.35,406.65 L69.02,406.38 L68.69,406.54 L68.36,406.47 L68.03,406.32 L67.70,406.54 L67.37,406.57 L67.04,406.43 L66.71,406.59 L66.38,406.54 L66.05,406.51 L65.72,406.51 L65.39,406.57 L65.06,406.16 L64.73,406.30 L64.40,406.63 L64.07,406.49 L63.74,406.50 L63.41,406.61 L63.08,406.51 L62.75,406.66 L62.42,406.53 L62.09,406.13 L61.76,406.68 L61.43,406.49 L61.10,406.53 L60.77,406.32 L60.44,406.29 L60.11,406.52 L59.78,406.51 L59.45,406.46 L59.12,406.58 L58.79,406.43 L58.46,406.52 L58.13,406.54 L57.80,406.60 L57.47,406.57 L57.14,406.44 L56.81,406.50 L56.48,406.34 L56.15,406.65 L55.82,406.48 L55.49,406.43 L55.16,406.62 L54.83,406.31 L54.50,406.58 L54.17,406.24 L53.84,406.57 L53.51,406.35 L53.18,406.41 L52.85,406.56 L52.52,406.60 L52.19,406.44 L51.86,406.69 L51.53,406.44 L51.20,406.28 L50.87,406.40 L50.54,406.49 L50.21,406.66 L49.88,406.40 L49.55,406.44 L49.22,406.41 L48.89,406.31 L48.56,406.49 L48.23,406.52 L47.90,406.42 L47.57,406.60 L47.24,406.45 L46.91,406.36 L46.58,406.63 L46.25,406.39 L45.92,406.48 L45.59,406.61 L45.26,406.42 L44.93,406.00 L44.60,406.53 L44.27,406.58 L43.94,406.68 L43.61,406.56 L43.28,406.58 L42.95,406.50 L42.62,406.68 L42.29,406.50 L41.96,406.28 L41.63,406.55 L41.30,406.40Z" fill="#b86eff"/>
<path d="M114.80,406.50 L114.80,400.80 L115.13,401.02 L115.46,398.29 L115.79,399.39 L116.12,396.64 L116.45,400.17 L116.78,400.92 L117.11,401.82 L117.44,400.55 L117.77,397.86 L118.10,401.27 L118.43,401.19 L118.76,401.02 L119.09,398.98 L119.42,400.95 L119.75,401.47 L120.08,400.06 L120.41,400.69 L120.74,399.69 L121.07,400.13 L121.40,399.76 L121.73,400.89 L122.06,398.22 L122.39,401.27 L122.72,401.21 L123.05,400.98 L123.38,398.44 L123.71,400.76 L124.04,401.11 L124.37,401.24 L124.70,400.10 L125.03,400.85 L125.36,400.51 L125.69,400.64 L126.02,401.96 L126.35,400.67 L126.68,401.22 L127.01,401.87 L127.34,400.86 L127.67,401.20 L128.00,401.37 L128.33,401.35 L128.66,400.46 L128.99,401.38 L129.32,402.29 L129.65,400.27 L129.98,401.97 L130.31,401.46 L130.64,400.94 L130.97,402.80 L131.30,401.95 L131.63,400.59 L131.96,399.29 L132.29,401.86 L132.62,401.33 L132.95,401.95 L133.28,401.44 L133.61,401.97 L133.94,402.52 L134.27,401.05 L134.60,401.68 L134.93,401.23 L135.26,401.65 L135.59,400.74 L135.92,401.18 L136.25,401.46 L136.58,402.24 L136.91,402.43 L137.24,400.71 L137.57,401.09 L137.90,402.11 L138.23,400.28 L138.56,401.36 L138.89,401.63 L139.22,402.59 L139.55,402.21 L139.88,401.51 L140.21,401.49 L140.54,401.58 L140.87,402.84 L141.20,401.48 L141.53,401.58 L141.86,402.06 L142.19,401.74 L142.52,401.70 L142.85,401.07 L143.18,401.85 L143.51,401.56 L143.84,402.70 L144.17,402.35 L144.50,401.89 L144.83,402.39 L145.16,401.69 L145.49,402.68 L145.82,401.95 L146.15,402.38 L146.48,401.08 L146.81,402.24 L147.14,400.82 L147.47,400.59 L147.80,401.82 L148.13,401.41 L148.46,402.17 L148.79,403.64 L149.12,401.50 L149.45,401.66 L149.78,402.25 L150.11,402.46 L150.44,402.01 L150.77,402.00 L151.10,402.65 L151.43,402.53 L151.76,401.45 L152.09,402.14 L152.42,402.23 L152.75,401.48 L153.08,402.41 L153.41,401.64 L153.74,402.93 L154.07,402.40 L154.40,402.34 L154.73,401.88 L155.06,402.22 L155.39,400.92 L155.72,401.53 L156.05,401.83 L156.38,400.86 L156.71,402.96 L157.04,401.15 L157.37,402.92 L157.70,401.81 L158.03,402.96 L158.36,402.52 L158.69,401.36 L159.02,403.32 L159.35,403.47 L159.68,402.43 L160.01,402.29 L160.34,402.39 L160.67,401.83 L161.00,403.29 L161.33,402.15 L161.66,402.51 L161.99,402.00 L162.32,402.13 L162.65,401.69 L162.98,403.48 L163.31,402.50 L163.64,403.30 L163.97,402.64 L164.30,402.16 L164.63,402.43 L164.96,402.28 L165.29,402.69 L165.62,402.43 L165.95,402.50 L166.28,401.15 L166.61,402.17 L166.94,403.90 L167.27,402.29 L167.60,402.03 L167.93,399.84 L168.26,403.78 L168.59,401.79 L168.92,402.67 L169.25,402.39 L169.58,401.61 L169.91,403.37 L170.24,402.85 L170.57,402.04 L170.90,402.37 L171.23,403.22 L171.56,402.54 L171.89,402.83 L172.22,402.17 L172.55,402.10 L172.88,403.90 L173.21,402.62 L173.54,403.19 L173.80,402.98 L173.80,406.50 L173.80,406.60 L173.54,406.57 L173.21,406.47 L172.88,406.60 L172.55,406.20 L172.22,406.60 L171.89,406.58 L171.56,406.76 L171.23,406.79 L170.90,406.42 L170.57,406.60 L170.24,406.57 L169.91,406.68 L169.58,406.45 L169.25,406.46 L168.92,406.81 L168.59,406.61 L168.26,406.48 L167.93,406.64 L167.60,406.88 L167.27,406.44 L166.94,406.34 L166.61,406.26 L166.28,406.61 L165.95,406.47 L165.62,406.45 L165.29,406.39 L164.96,406.50 L164.63,406.67 L164.30,406.35 L163.97,406.45 L163.64,406.37 L163.31,406.57 L162.98,406.45 L162.65,406.59 L162.32,406.53 L161.99,406.48 L161.66,406.39 L161.33,406.60 L161.00,406.28 L160.67,406.25 L160.34,406.38 L160.01,406.57 L159.68,406.52 L159.35,406.35 L159.02,406.48 L158.69,406.73 L158.36,406.53 L158.03,406.51 L157.70,406.80 L157.37,406.84 L157.04,406.68 L156.71,406.43 L156.38,406.41 L156.05,406.64 L155.72,406.45 L155.39,406.51 L155.06,406.36 L154.73,406.54 L154.40,406.60 L154.07,406.39 L153.74,406.53 L153.41,406.37 L153.08,406.36 L152.75,406.66 L152.42,406.46 L152.09,406.65 L151.76,406.43 L151.43,406.57 L151.10,406.57 L150.77,406.66 L150.44,406.27 L150.11,406.40 L149.78,406.55 L149.45,406.36 L149.12,406.27 L148.79,406.66 L148.46,406.62 L148.13,406.47 L147.80,406.47 L147.47,406.36 L147.14,406.72 L146.81,406.50 L146.48,406.70 L146.15,406.53 L145.82,406.49 L145.49,406.48 L145.16,406.79 L144.83,406.64 L144.50,406.49 L144.17,406.42 L143.84,406.62 L143.51,406.55 L143.18,406.55 L142.85,406.67 L142.52,406.76 L142.19,406.60 L141.86,406.58 L141.53,406.48 L141.20,406.09 L140.87,406.61 L140.54,406.50 L140.21,406.41 L139.88,406.56 L139.55,406.63 L139.22,406.45 L138.89,406.16 L138.56,406.37 L138.23,406.41 L137.90,406.45 L137.57,406.25 L137.24,406.55 L136.91,406.49 L136.58,406.59 L136.25,406.25 L135.92,406.35 L135.59,406.55 L135.26,406.45 L134.93,406.56 L134.60,406.66 L134.27,406.59 L133.94,406.61 L133.61,406.49 L133.28,406.38 L132.95,406.65 L132.62,406.52 L132.29,406.56 L131.96,406.56 L131.63,406.40 L131.30,406.31 L130.97,406.46 L130.64,406.48 L130.31,406.74 L129.98,406.76 L129.65,406.54 L129.32,406.44 L128.99,406.69 L128.66,406.40 L128.33,406.31 L128.00,406.28 L127.67,406.56 L127.34,406.12 L127.01,406.48 L126.68,406.64 L126.35,406.27 L126.02,406.54 L125.69,406.65 L125.36,406.68 L125.03,406.58 L124.70,406.27 L124.37,406.53 L124.04,406.56 L123.71,406.60 L123.38,406.46 L123.05,406.40 L122.72,406.56 L122.39,406.54 L122.06,406.54 L121.73,406.57 L121.40,406.25 L121.07,406.58 L120.74,406.43 L120.41,406.48 L120.08,406.52 L119.75,406.54 L119.42,406.32 L119.09,406.51 L118.76,406.42 L118.43,406.46 L118.10,406.35 L117.77,406.44 L117.44,406.44 L117.11,406.48 L116.78,406.52 L116.45,406.51 L116.12,406.19 L115.79,406.46 L115.46,406.41 L115.13,406.30 L114.80,406.51Z" fill="#b86eff"/>
<path d="M278.30,406.50 L278.30,396.36 L278.63,396.60 L278.96,396.58 L279.29,397.19 L279.62,396.01 L279.95,397.29 L280.28,396.83 L280.61,397.94 L280.94,397.97 L281.27,398.24 L281.60,397.86 L281.93,397.37 L282.26,397.92 L282.59,398.30 L282.92,397.01 L283.25,397.77 L283.58,397.37 L283.91,398.26 L284.24,396.90 L284.57,397.22 L284.90,397.62 L285.23,397.55 L285.56,396.42 L285.89,397.62 L286.22,397.33 L286.55,397.26 L286.88,397.31 L287.21,397.53 L287.54,396.31 L287.87,398.33 L288.20,395.71 L288.53,395.81 L288.86,397.28 L289.19,398.27 L289.52,397.09 L289.85,395.78 L290.18,396.41 L290.51,396.88 L290.84,395.92 L291.17,396.66 L291.50,398.11 L291.83,396.91 L292.16,396.49 L292.49,396.60 L292.82,397.40 L293.15,397.38 L293.48,397.92 L293.81,397.49 L294.14,396.84 L294.47,397.31 L294.80,396.72 L295.13,397.44 L295.46,396.71 L295.79,396.68 L296.12,398.67 L296.45,397.42 L296.78,397.79 L297.11,398.92 L297.44,397.87 L297.77,397.33 L298.10,397.43 L298.43,396.95 L298.76,398.06 L299.09,397.20 L299.42,398.46 L299.75,397.19 L300.08,397.19 L300.41,397.15 L300.74,393.05 L301.07,397.51 L301.40,398.22 L301.73,397.07 L302.06,397.57 L302.39,398.56 L302.72,397.26 L303.05,397.72 L303.38,398.34 L303.71,397.73 L304.04,397.02 L304.37,396.16 L304.70,398.84 L305.03,397.66 L305.36,398.16 L305.69,397.11 L306.02,397.03 L306.35,397.71 L306.68,397.43 L307.01,396.86 L307.34,397.62 L307.67,397.11 L308.00,397.27 L308.33,396.43 L308.66,397.11 L308.99,397.50 L309.32,396.65 L309.65,397.44 L309.98,397.80 L310.31,396.63 L310.64,397.03 L310.97,397.03 L311.30,397.96 L311.63,396.48 L311.96,397.22 L312.29,397.15 L312.62,397.49 L312.95,397.36 L313.28,396.74 L313.61,398.62 L313.94,397.51 L314.27,392.84 L314.60,396.87 L314.93,397.46 L315.26,397.77 L315.59,396.59 L315.92,397.83 L316.25,396.58 L316.58,396.92 L316.91,397.91 L317.24,398.42 L317.57,397.35 L317.90,397.21 L318.23,398.16 L318.56,396.76 L318.89,397.57 L319.22,397.54 L319.55,398.01 L319.88,397.58 L320.21,397.24 L320.54,397.77 L320.87,396.72 L321.20,397.89 L321.53,397.00 L321.86,396.85 L322.19,397.18 L322.52,397.43 L322.85,397.83 L323.18,397.27 L323.51,397.84 L323.84,397.99 L324.17,397.34 L324.50,396.81 L324.83,397.95 L325.16,397.57 L325.49,396.13 L325.82,396.81 L326.15,397.49 L326.48,396.58 L326.81,396.99 L327.14,396.37 L327.47,397.64 L327.80,397.54 L328.13,397.51 L328.46,398.27 L328.79,397.19 L329.12,397.23 L329.45,398.61 L329.78,396.62 L330.11,397.84 L330.44,396.61 L330.77,397.54 L331.10,398.67 L331.43,397.56 L331.76,396.94 L332.09,398.83 L332.42,397.07 L332.75,397.28 L332.80,397.58 L332.80,406.50 L332.80,406.49 L332.75,406.29 L332.42,406.58 L332.09,406.29 L331.76,406.67 L331.43,406.49 L331.10,406.36 L330.77,406.39 L330.44,406.47 L330.11,406.35 L329.78,406.57 L329.45,406.76 L329.12,406.33 L328.79,406.44 L328.46,406.68 L328.13,406.37 L327.80,406.78 L327.47,406.42 L327.14,406.43 L326.81,406.71 L326.48,406.76 L326.15,406.48 L325.82,406.62 L325.49,406.43 L325.16,406.63 L324.83,406.55 L324.50,406.43 L324.17,406.69 L323.84,406.52 L323.51,406.34 L323.18,406.36 L322.85,406.28 L322.52,406.66 L322.19,406.57 L321.86,406.59 L321.53,406.54 L321.20,406.28 L320.87,406.54 L320.54,406.62 L320.21,406.34 L319.88,406.31 L319.55,406.43 L319.22,406.62 L318.89,406.49 L318.56,406.79 L318.23,406.58 L317.90,406.49 L317.57,406.57 L317.24,406.52 L316.91,406.19 L316.58,406.82 L316.25,406.42 L315.92,406.70 L315.59,406.35 L315.26,406.44 L314.93,406.44 L314.60,406.68 L314.27,406.68 L313.94,406.62 L313.61,406.33 L313.28,406.46 L312.95,406.39 L312.62,406.32 L312.29,406.42 L311.96,406.49 L311.63,406.41 L311.30,406.32 L310.97,406.32 L310.64,406.48 L310.31,406.21 L309.98,406.21 L309.65,406.34 L309.32,406.45 L308.99,406.62 L308.66,406.24 L308.33,406.62 L308.00,406.53 L307.67,406.47 L307.34,406.48 L307.01,406.47 L306.68,406.50 L306.35,406.21 L306.02,406.73 L305.69,406.41 L305.36,406.43 L305.03,406.21 L304.70,406.39 L304.37,406.44 L304.04,406.44 L303.71,406.62 L303.38,406.53 L303.05,406.66 L302.72,406.27 L302.39,406.45 L302.06,406.59 L301.73,406.47 L301.40,406.49 L301.07,406.56 L300.74,406.43 L300.41,406.24 L300.08,406.47 L299.75,406.30 L299.42,406.58 L299.09,406.48 L298.76,406.44 L298.43,406.60 L298.10,406.30 L297.77,406.53 L297.44,406.58 L297.11,406.53 L296.78,406.47 L296.45,406.59 L296.12,406.37 L295.79,406.44 L295.46,406.62 L295.13,406.54 L294.80,406.62 L294.47,406.09 L294.14,406.55 L293.81,406.81 L293.48,406.78 L293.15,406.58 L292.82,406.56 L292.49,406.70 L292.16,406.65 L291.83,406.28 L291.50,406.45 L291.17,406.52 L290.84,406.58 L290.51,406.36 L290.18,406.62 L289.85,406.74 L289.52,406.71 L289.19,406.48 L288.86,406.53 L288.53,406.54 L288.20,406.50 L287.87,406.79 L287.54,406.55 L287.21,406.61 L286.88,406.36 L286.55,406.44 L286.22,406.59 L285.89,406.36 L285.56,406.63 L285.23,406.35 L284.90,406.47 L284.57,406.53 L284.24,406.48 L283.91,406.69 L283.58,406.66 L283.25,406.36 L282.92,406.56 L282.59,406.63 L282.26,406.40 L281.93,406.65 L281.60,406.47 L281.27,406.51 L280.94,406.65 L280.61,406.46 L280.28,406.27 L279.95,406.39 L279.62,406.64 L279.29,406.40 L278.96,406.75 L278.63,406.34 L278.30,406.26Z" fill="#b86eff"/>
<rect x="305.6" y="400" width="0.7" height="6" fill="#fff"/>
<path d="M101.6,399.5 L101.87,398.53 L102.15,397.61 L102.42,396.75 L102.69,395.96 L102.97,395.24 L103.24,394.62 L103.51,394.08 L103.79,393.56 L104.06,393.07 L104.33,392.62 L104.61,392.22 L104.88,391.88 L105.16,391.61 L105.43,391.41 L105.7,391.23 L105.98,391.06 L106.25,390.9 L106.52,390.77 L106.8,390.68 L107.07,390.62 L107.34,390.6 L107.62,390.63 L107.89,390.69 L108.16,390.79 L108.44,390.91 L108.71,391.06 L108.98,391.22 L109.26,391.4 L109.53,391.6 L109.8,391.9 L110.08,392.28 L110.35,392.74 L110.62,393.25 L110.9,393.79 L111.17,394.34 L111.44,394.89 L111.72,395.49 L111.99,396.16 L112.27,396.86 L112.54,397.59 L112.81,398.31 L113.09,399 L113.36,399.63 L113.63,400.23 L113.91,400.82 L114.18,401.39 L114.45,401.95 L114.73,402.48 L115,403" stroke="#b86eff" stroke-width="1.6" fill="none" stroke-linejoin="round"/>
<path d="M173.2,403.17 L173.51,403.24 L173.83,402.41 L174.14,402.14 L174.46,401.71 L174.77,400.61 L175.09,400.96 L175.4,400.18 L175.72,399.81 L176.03,400.28 L176.35,399.29 L176.66,399.16 L176.98,399.24 L177.29,399.78 L177.61,399.52 L177.92,399.07 L178.24,399.56 L178.55,398.69 L178.87,398.29 L179.18,398.96 L179.5,398.76 L179.81,398.75 L180.13,398.29 L180.44,398.77 L180.76,398.7 L181.07,398.26 L181.39,398.85 L181.7,398.85 L182.02,399.29 L182.33,398.86 L182.65,399.19 L182.96,399.53 L183.28,399.03 L183.59,399.39 L183.91,399.42 L184.22,399.76 L184.54,400.59 L184.85,400.7 L185.17,400.94 L185.48,401.27 L185.8,401.7 L186.11,402.33 L186.43,402.46 L186.74,403.07 L187.06,403.06 L187.37,403.41 L187.69,403.97 L188,404.27 L188.32,404.97 L188.63,404.46 L188.95,405.42 L189.26,405.58 L189.58,405.5 L189.89,405.69 L190.2,405.17 L190.52,404.32 L190.83,402.69 L191.15,401.96 L191.46,400.19 L191.78,399.5 L192.09,398.69 L192.41,398 L192.72,397.3 L193.04,396.98 L193.35,395.55 L193.67,395.54 L193.98,394.71 L194.3,394.3 L194.61,394.27 L194.93,393.73 L195.24,392.96 L195.56,393.21 L195.87,392.13 L196.19,391.86 L196.5,391.71 L196.82,390.91 L197.13,390.63 L197.45,390.69 L197.76,389.68 L198.08,389.67 L198.39,388.98 L198.71,389.95 L199.02,388.87 L199.34,388.91 L199.65,388.05 L199.97,388.78 L200.28,387.51 L200.6,387.52 L200.91,388.09 L201.23,387.34 L201.54,386.76 L201.86,387.01 L202.17,386.42 L202.49,386.14 L202.8,385.71 L203.12,385.36 L203.43,385.14 L203.75,384.93 L204.06,384.73 L204.38,384.75 L204.69,384.49 L205.01,384.18 L205.32,384 L205.64,383.67 L205.95,383.75 L206.27,383.41 L206.58,383.53 L206.9,382.75 L207.21,383.29 L207.52,382.47 L207.84,382.24 L208.15,382.21 L208.47,381.56 L208.78,381.63 L209.1,381.48 L209.41,381.16 L209.73,380.97 L210.04,380.24 L210.36,380.97 L210.67,380.18 L210.99,379.26 L211.3,380.33 L211.62,379.77 L211.93,379.49 L212.25,379.12 L212.56,378.85 L212.88,378.94 L213.19,379.28 L213.51,378.57 L213.82,378.48 L214.14,378.05 L214.45,377.47 L214.77,377.63 L215.08,377.49 L215.4,377.58 L215.71,377.41 L216.03,377.14 L216.34,376.57 L216.66,376.44 L216.97,376.46 L217.29,375.97 L217.6,376.12 L217.92,376.69 L218.23,376.15 L218.55,375.75 L218.86,375.61 L219.18,376.04 L219.49,375.98 L219.81,375.9 L220.12,375.94 L220.44,375.74 L220.75,375.81 L221.07,375.44 L221.38,375.67 L221.7,375.79 L222.01,375.31 L222.33,375.61 L222.64,375.73 L222.96,376.46 L223.27,376.03 L223.59,376.07 L223.9,376.32" stroke="#b86eff" stroke-width="1.7" fill="none" stroke-linejoin="round"/>
<path d="M223.9,376 L225,378.4 L225.5,386 L226.5,373.7 L227.9,372.2 L228.6,375 L229.3,379.4 L230.2,371 L231.2,368 L232.2,367.5 L232.7,372 L233.1,377.5 L233.8,372 L234.6,369.9 L235.3,373 L236,372.7 L236.7,371 L237.4,372.7 L238.3,371.5 L239.3,373.2 L240.5,374 L241.7,375.6 L242.5,379 L243.2,384 L243.6,386" stroke="#b86eff" stroke-width="1.3" fill="none" stroke-linejoin="round" stroke-linecap="round"/>
<path d="M243.6,386 L243.91,384.26 L244.22,382.7 L244.53,381.4 L244.84,380.24 L245.14,379.23 L245.45,378.48 L245.76,377.97 L246.07,377.49 L246.38,377.03 L246.69,376.61 L247,376.22 L247.31,375.88 L247.62,375.59 L247.92,375.35 L248.23,375.17 L248.54,375.05 L248.85,375 L249.16,375 L249.47,375.01 L249.78,375.02 L250.09,375.04 L250.39,375.06 L250.7,375.08 L251.01,375.11 L251.32,375.13 L251.63,375.16 L251.94,375.19 L252.25,375.23 L252.56,375.26 L252.87,375.31 L253.17,375.36 L253.48,375.42 L253.79,375.48 L254.1,375.55 L254.41,375.63 L254.72,375.72 L255.03,375.81 L255.34,375.92 L255.65,376.07 L255.95,376.24 L256.26,376.44 L256.57,376.66 L256.88,376.89 L257.19,377.15 L257.5,377.41 L257.81,377.68 L258.12,377.96 L258.42,378.25 L258.73,378.53 L259.04,378.8 L259.35,379.07 L259.66,379.34 L259.97,379.6 L260.28,379.88 L260.59,380.16 L260.9,380.44 L261.2,380.73 L261.51,381.02 L261.82,381.32 L262.13,381.63 L262.44,381.93 L262.75,382.24 L263.06,382.56 L263.37,382.88 L263.68,383.2 L263.98,383.54 L264.29,383.87 L264.6,384.22 L264.91,384.56 L265.22,384.92 L265.53,385.27 L265.84,385.63 L266.15,385.99 L266.45,386.35 L266.76,386.72 L267.07,387.1 L267.38,387.47 L267.69,387.86 L268,388.24 L268.31,388.63 L268.62,389.02 L268.93,389.41 L269.23,389.8 L269.54,390.22 L269.85,390.65 L270.16,391.09 L270.47,391.53 L270.78,391.96 L271.09,392.38 L271.4,392.79 L271.71,393.16 L272.01,393.51 L272.32,393.82 L272.63,394.12 L272.94,394.41 L273.25,394.7 L273.56,394.97 L273.87,395.24 L274.18,395.49 L274.48,395.73 L274.79,395.96 L275.1,396.17 L275.41,396.37 L275.72,396.55 L276.03,396.72 L276.34,396.86 L276.65,397 L276.96,397.13 L277.26,397.25 L277.57,397.36 L277.88,397.45 L278.19,397.53 L278.5,397.6" stroke="#b86eff" stroke-width="1.4" fill="none" stroke-linejoin="round"/>
<path d="M41.30,391.20 L41.30,380.72 L41.63,381.02 L41.96,380.98 L42.29,381.82 L42.62,381.41 L42.95,380.49 L43.28,382.29 L43.61,382.31 L43.94,382.00 L44.27,381.26 L44.60,381.02 L44.93,380.98 L45.26,381.36 L45.59,381.59 L45.92,380.86 L46.25,380.73 L46.58,381.89 L46.91,380.16 L47.24,380.84 L47.57,381.99 L47.90,380.87 L48.23,380.77 L48.56,381.05 L48.89,382.18 L49.22,381.56 L49.55,380.17 L49.88,381.33 L50.21,382.48 L50.54,382.46 L50.87,382.18 L51.20,381.49 L51.53,380.21 L51.86,381.82 L52.19,381.55 L52.52,381.75 L52.85,382.93 L53.18,381.84 L53.51,381.92 L53.84,382.19 L54.17,381.50 L54.50,381.18 L54.83,381.12 L55.16,382.33 L55.49,382.12 L55.82,381.33 L56.15,382.64 L56.48,381.87 L56.81,380.65 L57.14,382.21 L57.47,381.62 L57.80,380.67 L58.13,382.15 L58.46,381.46 L58.79,381.43 L59.12,382.22 L59.45,379.99 L59.78,380.73 L60.11,381.41 L60.44,381.95 L60.77,381.23 L61.10,380.96 L61.43,380.92 L61.76,381.67 L62.09,382.31 L62.42,380.61 L62.75,380.11 L63.08,381.54 L63.41,381.47 L63.74,381.05 L64.07,382.27 L64.40,382.43 L64.73,381.34 L65.06,381.52 L65.39,382.25 L65.72,381.45 L66.05,380.68 L66.38,380.20 L66.71,381.08 L67.04,382.07 L67.37,381.41 L67.70,381.66 L68.03,377.08 L68.36,381.72 L68.69,381.32 L69.02,381.02 L69.35,383.20 L69.68,382.72 L70.01,380.63 L70.34,380.99 L70.67,382.31 L71.00,381.37 L71.33,381.86 L71.66,382.50 L71.99,381.95 L72.32,381.75 L72.65,381.48 L72.98,381.79 L73.31,382.17 L73.64,383.25 L73.97,382.72 L74.30,381.71 L74.63,382.60 L74.96,381.97 L75.29,380.69 L75.62,381.79 L75.95,382.68 L76.28,381.41 L76.61,382.64 L76.94,381.64 L77.27,381.91 L77.60,380.94 L77.93,383.55 L78.26,382.26 L78.59,381.90 L78.92,381.54 L79.25,380.74 L79.58,382.88 L79.91,381.34 L80.24,381.97 L80.57,381.78 L80.90,383.22 L81.23,381.34 L81.56,380.52 L81.89,382.49 L82.22,381.88 L82.55,381.93 L82.88,382.78 L83.21,381.23 L83.54,380.91 L83.87,381.01 L84.20,380.60 L84.53,380.31 L84.86,380.93 L85.19,381.18 L85.52,381.59 L85.85,380.03 L86.18,381.84 L86.51,382.55 L86.84,381.77 L87.17,382.28 L87.50,381.21 L87.83,382.17 L88.16,382.30 L88.49,381.41 L88.82,380.69 L89.15,381.76 L89.48,381.90 L89.81,383.04 L90.14,381.56 L90.47,383.19 L90.60,379.97 L90.60,391.20 L90.60,391.05 L90.47,391.25 L90.14,391.42 L89.81,391.03 L89.48,390.99 L89.15,391.33 L88.82,391.15 L88.49,391.36 L88.16,391.09 L87.83,391.41 L87.50,391.08 L87.17,390.98 L86.84,391.31 L86.51,391.00 L86.18,391.60 L85.85,391.10 L85.52,391.19 L85.19,391.22 L84.86,391.34 L84.53,391.28 L84.20,391.17 L83.87,391.32 L83.54,391.07 L83.21,391.24 L82.88,391.20 L82.55,391.29 L82.22,390.89 L81.89,391.04 L81.56,391.36 L81.23,391.34 L80.90,391.22 L80.57,391.30 L80.24,391.10 L79.91,391.12 L79.58,391.39 L79.25,391.21 L78.92,391.23 L78.59,391.28 L78.26,391.18 L77.93,391.07 L77.60,391.06 L77.27,391.35 L76.94,391.22 L76.61,391.07 L76.28,391.36 L75.95,391.06 L75.62,391.16 L75.29,391.12 L74.96,391.11 L74.63,391.31 L74.30,391.28 L73.97,391.16 L73.64,391.15 L73.31,391.22 L72.98,391.30 L72.65,391.51 L72.32,391.22 L71.99,391.23 L71.66,391.27 L71.33,391.13 L71.00,391.19 L70.67,391.43 L70.34,391.22 L70.01,391.10 L69.68,391.20 L69.35,391.41 L69.02,391.40 L68.69,391.20 L68.36,391.02 L68.03,391.02 L67.70,391.46 L67.37,391.18 L67.04,391.25 L66.71,390.71 L66.38,390.88 L66.05,391.11 L65.72,391.42 L65.39,391.06 L65.06,391.12 L64.73,391.30 L64.40,391.17 L64.07,391.17 L63.74,391.43 L63.41,391.06 L63.08,391.42 L62.75,391.35 L62.42,391.21 L62.09,391.22 L61.76,391.19 L61.43,391.29 L61.10,391.07 L60.77,391.45 L60.44,391.03 L60.11,391.08 L59.78,391.33 L59.45,390.96 L59.12,390.96 L58.79,391.32 L58.46,391.03 L58.13,391.03 L57.80,391.23 L57.47,391.39 L57.14,391.25 L56.81,391.47 L56.48,391.21 L56.15,391.17 L55.82,391.04 L55.49,391.21 L55.16,391.06 L54.83,391.20 L54.50,391.15 L54.17,390.93 L53.84,391.15 L53.51,391.33 L53.18,391.16 L52.85,390.83 L52.52,391.28 L52.19,391.30 L51.86,391.18 L51.53,391.15 L51.20,391.43 L50.87,391.26 L50.54,391.28 L50.21,391.01 L49.88,391.32 L49.55,391.24 L49.22,391.33 L48.89,391.12 L48.56,391.33 L48.23,391.14 L47.90,391.47 L47.57,391.29 L47.24,391.37 L46.91,390.95 L46.58,391.36 L46.25,391.07 L45.92,391.27 L45.59,391.24 L45.26,390.87 L44.93,391.12 L44.60,391.41 L44.27,390.94 L43.94,391.43 L43.61,391.02 L43.28,391.52 L42.95,391.08 L42.62,391.17 L42.29,391.20 L41.96,390.98 L41.63,391.37 L41.30,391.49Z" fill="#ff7cc8"/>
<path d="M286.30,391.20 L286.30,381.82 L286.63,382.62 L286.96,382.53 L287.29,381.49 L287.62,381.62 L287.95,381.48 L288.28,382.14 L288.61,381.77 L288.94,382.25 L289.27,380.69 L289.60,382.74 L289.93,381.74 L290.26,382.21 L290.59,381.72 L290.92,381.57 L291.25,382.08 L291.58,382.29 L291.91,381.68 L292.24,381.71 L292.57,382.21 L292.90,381.28 L293.23,380.89 L293.56,382.04 L293.89,381.40 L294.22,380.65 L294.55,381.31 L294.88,381.52 L295.21,381.08 L295.54,379.59 L295.87,381.82 L296.20,382.34 L296.53,381.66 L296.86,381.35 L297.19,382.03 L297.52,382.23 L297.85,381.62 L298.18,382.13 L298.51,382.43 L298.84,381.68 L299.17,381.31 L299.50,382.01 L299.83,381.95 L300.16,382.46 L300.49,381.03 L300.82,381.40 L301.15,381.30 L301.48,380.76 L301.81,381.88 L302.14,382.12 L302.47,381.36 L302.80,382.63 L303.13,382.29 L303.46,382.18 L303.79,382.04 L304.12,382.37 L304.45,381.00 L304.78,382.17 L305.11,382.16 L305.44,380.74 L305.77,382.01 L306.10,381.65 L306.43,382.27 L306.76,381.54 L307.09,381.79 L307.42,382.01 L307.75,381.27 L308.08,382.16 L308.41,381.74 L308.74,382.10 L309.07,381.49 L309.40,382.45 L309.73,382.16 L310.06,381.51 L310.39,382.18 L310.72,382.56 L311.05,382.87 L311.38,380.51 L311.71,382.33 L312.04,382.08 L312.37,381.74 L312.70,381.20 L313.03,382.55 L313.36,381.04 L313.69,382.14 L314.02,382.58 L314.35,380.84 L314.68,381.62 L315.01,381.01 L315.34,381.95 L315.67,382.71 L316.00,383.01 L316.33,380.73 L316.66,381.46 L316.99,382.22 L317.32,382.75 L317.65,382.05 L317.98,381.35 L318.31,381.11 L318.64,381.79 L318.97,381.68 L319.30,381.36 L319.63,382.03 L319.96,379.97 L320.29,381.27 L320.62,381.67 L320.95,381.03 L321.28,381.51 L321.61,382.52 L321.94,381.69 L322.27,380.94 L322.60,382.60 L322.93,382.12 L323.26,383.06 L323.59,381.84 L323.92,381.52 L324.25,380.93 L324.58,382.59 L324.91,383.34 L325.24,381.31 L325.57,381.41 L325.90,382.16 L326.23,381.30 L326.56,381.64 L326.89,381.59 L327.22,381.92 L327.55,382.46 L327.88,381.81 L328.21,382.35 L328.54,381.55 L328.87,382.00 L329.20,380.52 L329.53,380.93 L329.86,382.28 L330.19,381.45 L330.52,382.15 L330.85,382.13 L331.18,382.59 L331.51,382.29 L331.84,382.41 L332.17,381.73 L332.50,381.38 L332.80,381.36 L332.80,391.20 L332.80,391.29 L332.50,391.20 L332.17,391.11 L331.84,391.14 L331.51,391.40 L331.18,391.25 L330.85,391.14 L330.52,391.36 L330.19,391.17 L329.86,391.21 L329.53,391.36 L329.20,391.37 L328.87,391.35 L328.54,391.12 L328.21,391.00 L327.88,391.22 L327.55,391.12 L327.22,391.00 L326.89,391.36 L326.56,391.29 L326.23,391.25 L325.90,391.27 L325.57,391.07 L325.24,391.06 L324.91,391.06 L324.58,391.27 L324.25,391.20 L323.92,391.23 L323.59,391.37 L323.26,391.06 L322.93,391.13 L322.60,391.08 L322.27,390.97 L321.94,391.33 L321.61,391.36 L321.28,391.39 L320.95,391.29 L320.62,390.99 L320.29,391.18 L319.96,391.08 L319.63,391.41 L319.30,391.01 L318.97,391.32 L318.64,391.19 L318.31,391.27 L317.98,391.18 L317.65,391.16 L317.32,391.36 L316.99,391.23 L316.66,391.32 L316.33,391.31 L316.00,391.09 L315.67,391.24 L315.34,391.25 L315.01,391.08 L314.68,391.05 L314.35,391.05 L314.02,391.24 L313.69,391.15 L313.36,391.31 L313.03,391.37 L312.70,391.01 L312.37,391.14 L312.04,391.23 L311.71,391.38 L311.38,391.15 L311.05,391.11 L310.72,391.25 L310.39,391.09 L310.06,391.36 L309.73,391.02 L309.40,391.25 L309.07,391.05 L308.74,391.18 L308.41,390.89 L308.08,391.14 L307.75,391.35 L307.42,391.01 L307.09,391.36 L306.76,391.21 L306.43,390.97 L306.10,391.32 L305.77,391.19 L305.44,391.23 L305.11,391.40 L304.78,391.34 L304.45,390.97 L304.12,391.31 L303.79,391.30 L303.46,391.09 L303.13,391.44 L302.80,391.31 L302.47,390.82 L302.14,391.17 L301.81,391.22 L301.48,391.31 L301.15,391.56 L300.82,391.04 L300.49,391.20 L300.16,390.92 L299.83,391.29 L299.50,391.17 L299.17,391.24 L298.84,391.45 L298.51,391.36 L298.18,391.15 L297.85,391.15 L297.52,391.27 L297.19,391.09 L296.86,391.13 L296.53,391.40 L296.20,391.36 L295.87,391.22 L295.54,391.13 L295.21,390.94 L294.88,391.34 L294.55,391.15 L294.22,390.97 L293.89,391.16 L293.56,391.09 L293.23,391.27 L292.90,391.39 L292.57,390.98 L292.24,391.17 L291.91,391.13 L291.58,391.10 L291.25,391.47 L290.92,390.98 L290.59,391.52 L290.26,391.31 L289.93,390.95 L289.60,391.19 L289.27,391.22 L288.94,391.01 L288.61,391.02 L288.28,391.22 L287.95,390.99 L287.62,391.19 L287.29,390.98 L286.96,391.22 L286.63,391.34 L286.30,391.16Z" fill="#ff7cc8"/>
<rect x="305.6" y="385" width="0.7" height="5.7" fill="#fff"/>
<path d="M90.4,382.7 L90.73,381.45 L91.05,380.14 L91.38,378.02 L91.7,376.7 L92.03,375.4 L92.36,374.6 L92.68,373.38 L93.01,372.07 L93.33,371.2 L93.66,370.07 L93.99,369.15 L94.31,368.95 L94.64,368.39 L94.97,367.54 L95.29,366.39 L95.62,366.51 L95.94,365.94 L96.27,365.19 L96.6,365.21 L96.92,365.02 L97.25,364.49 L97.57,363.93 L97.9,363.41 L98.23,363.47 L98.55,362.72 L98.88,363.23 L99.2,363.1 L99.53,362.81 L99.86,363.02 L100.18,362.56 L100.51,362.98 L100.84,362.99 L101.16,362.98 L101.49,363.41 L101.81,363.21 L102.14,363.6 L102.47,363.65 L102.79,364.65 L103.12,365.4 L103.44,366.09 L103.77,366.78 L104.1,367.85 L104.42,369.06 L104.75,369.58 L105.07,371.18 L105.4,372.4 L105.73,374.02 L106.05,375.77 L106.38,377.68 L106.71,379.14 L107.03,381.57 L107.36,383.53 L107.68,385.94 L108.01,385.11 L108.34,383.83 L108.66,381.15 L108.99,378.86 L109.31,377.23 L109.64,376.29 L109.97,375.44 L110.29,374.85 L110.62,374.55 L110.94,373.6 L111.27,373.67 L111.6,373.78 L111.92,374.42 L112.25,374.62 L112.58,374.9 L112.9,375.3 L113.23,375.71 L113.55,377.01 L113.88,377.36 L114.21,378.75 L114.53,380.05 L114.86,381.69 L115.18,383.06 L115.51,384.44 L115.84,385.84 L116.16,387 L116.49,388.65 L116.81,389.35 L117.14,389.19 L117.47,386.74 L117.79,384.99 L118.12,384.43 L118.45,383.35 L118.77,382.06 L119.1,381.58 L119.42,381.92 L119.75,381.8 L120.08,382.02 L120.4,383.01 L120.73,382.5 L121.05,383.6 L121.38,384.54 L121.71,386.24 L122.03,387.14 L122.36,388.51 L122.68,390.49 L123.01,390.47 L123.34,388.99 L123.66,387.31 L123.99,385.48 L124.32,384.8 L124.64,383.89 L124.97,382.94 L125.29,382.35 L125.62,382.38 L125.95,382.1 L126.27,382.1 L126.6,382.12 L126.92,381.89 L127.25,381.61 L127.58,381.53 L127.9,381.96 L128.23,381.72 L128.55,382.93 L128.88,383.68 L129.21,383.45 L129.53,384.89 L129.86,386.69 L130.19,387.89 L130.51,389.92 L130.84,390.67 L131.16,390.15 L131.49,388.97 L131.82,387.61 L132.14,386.35 L132.47,385.27 L132.79,384.17 L133.12,383.38 L133.45,382.67 L133.77,381.82 L134.1,382.06 L134.42,380.79 L134.75,381.08 L135.08,380.4 L135.4,380.49 L135.73,380.21 L136.06,380.06 L136.38,379.73 L136.71,379.57 L137.03,379.77 L137.36,378.73 L137.69,377.91 L138.01,379.08 L138.34,378.82 L138.66,378.28 L138.99,378.2 L139.32,377.98 L139.64,378.08 L139.97,377.84 L140.29,378.34 L140.62,378.25 L140.95,378.33 L141.27,378.21 L141.6,378.98 L141.93,379.44 L142.25,379.08 L142.58,379.19 L142.9,379.6 L143.23,379.64 L143.56,380.21 L143.88,380.53 L144.21,381.26 L144.53,381.69 L144.86,382.39 L145.19,382.43 L145.51,382.42 L145.84,383.89 L146.16,384.34 L146.49,384.09 L146.82,384.2 L147.14,384.75 L147.47,383.96 L147.8,382.88 L148.12,382.07 L148.45,382.11 L148.77,381.84 L149.1,381.74 L149.43,381.49 L149.75,381.83 L150.08,380.81 L150.4,380.32 L150.73,380.41 L151.06,380.21 L151.38,379.97 L151.71,379.92 L152.03,379.91 L152.36,379.47 L152.69,379.59 L153.01,379.23 L153.34,378.4 L153.67,378.89 L153.99,378.85 L154.32,378.92 L154.64,378.41 L154.97,378.93 L155.3,377.9 L155.62,378.01 L155.95,378.01 L156.27,378.54 L156.6,378.17 L156.93,377.98 L157.25,378.31 L157.58,377.44 L157.9,377.7 L158.23,377.95 L158.56,377.83 L158.88,377.45 L159.21,378.08 L159.53,378.45 L159.86,378.81 L160.19,378.85 L160.51,378.47 L160.84,379.11 L161.17,379.57 L161.49,380.72 L161.82,381.28 L162.14,382.84 L162.47,383.82 L162.8,385.75 L163.12,386.93 L163.45,389.42 L163.77,390.23 L164.1,389.17 L164.43,387.94 L164.75,385.81 L165.08,384.98 L165.4,384.42 L165.73,383.55 L166.06,382.44 L166.38,382.23 L166.71,381.8 L167.04,382.16 L167.36,381.67 L167.69,381.62 L168.01,381.94 L168.34,381.58 L168.67,382.08 L168.99,381.76 L169.32,381.8 L169.64,382.77 L169.97,383.67 L170.3,384.59 L170.62,385.02 L170.95,386.09 L171.27,387.96 L171.6,389.4 L171.93,390.18 L172.25,389.97 L172.58,389.3 L172.91,388.5 L173.23,386.71 L173.56,385.05 L173.88,383.05 L174.21,382.25 L174.54,382.32 L174.86,382.2 L175.19,382.17 L175.51,380.88 L175.84,380.95 L176.17,380.65 L176.49,380.45 L176.82,380.32 L177.14,380.98 L177.47,380.44 L177.8,380.8 L178.12,382.1 L178.45,382.35 L178.78,382.35 L179.1,382.51 L179.43,383.29 L179.75,383.19 L180.08,382.62 L180.41,382.89 L180.73,381.75 L181.06,381.14 L181.38,380.96 L181.71,380.86 L182.04,380.43 L182.36,380.16 L182.69,379.71 L183.01,379.78 L183.34,378.99 L183.67,379.56 L183.99,379.14 L184.32,378.89 L184.65,379.08 L184.97,378.85 L185.3,378.28 L185.62,378.43 L185.95,378.13 L186.28,378.49 L186.6,378.16 L186.93,377.9 L187.25,378.04 L187.58,377.79 L187.91,377.64 L188.23,377.63 L188.56,377.48 L188.88,377.93 L189.21,377.32 L189.54,377.9 L189.86,377.17 L190.19,376.44 L190.52,376.21 L190.84,376.19 L191.17,375.65 L191.49,375.13 L191.82,375.18 L192.15,375.57 L192.47,374.91 L192.8,374.42 L193.12,374.67 L193.45,374.72 L193.78,374.66 L194.1,374.17 L194.43,373.86 L194.75,373.22 L195.08,373.59 L195.41,373.28 L195.73,373.23 L196.06,372.86 L196.39,372.51 L196.71,372.65 L197.04,372.4 L197.36,371.95 L197.69,371.43 L198.02,371.64 L198.34,370.97 L198.67,370.94 L198.99,371.13 L199.32,370.79 L199.65,370.44 L199.97,370.62 L200.3,369.91 L200.62,369.73 L200.95,369.89 L201.28,369.48 L201.6,369.26 L201.93,369.06 L202.26,368.8 L202.58,368.45 L202.91,368.55 L203.23,368.44 L203.56,367.94 L203.89,367.5 L204.21,367.38 L204.54,368.23 L204.86,368.09 L205.19,366.82 L205.52,366.69 L205.84,367.06 L206.17,367.16 L206.49,366.94 L206.82,366.53 L207.15,366.36 L207.47,366.05 L207.8,366.21 L208.13,366.41 L208.45,365.85 L208.78,365.45 L209.1,365.61 L209.43,365.77 L209.76,365.61 L210.08,365.25 L210.41,365.1 L210.73,365.58 L211.06,364.7 L211.39,364.93 L211.71,364.63 L212.04,364.5 L212.36,364.17 L212.69,364.28 L213.02,364.24 L213.34,363.49 L213.67,364.08 L214,363.76 L214.32,363.61 L214.65,363.1 L214.97,363.67 L215.3,363.79 L215.63,362.79 L215.95,362.86 L216.28,362.89 L216.6,362.97 L216.93,362.84 L217.26,362.42 L217.58,362.33 L217.91,362.06 L218.23,362.05 L218.56,362.03 L218.89,362.21 L219.21,361.82 L219.54,361.82 L219.87,360.97 L220.19,361.34 L220.52,361.55 L220.84,362.04 L221.17,361.87 L221.5,361.62 L221.82,361.57 L222.15,361.54 L222.47,361.6 L222.8,361.04" stroke="#ff7cc8" stroke-width="1.6" fill="none" stroke-linejoin="round"/>
<path d="M222.8,361.6 L223.5,364 L224.1,369.9 L224.8,363 L225.5,359.4 L227,357.5 L227.7,361 L228.4,365.1 L229.1,359 L229.8,355.6 L231.2,352.2 L232,353.5 L232.5,357 L233.1,362.2 L233.8,358.5 L234.6,356.5 L236,358.4 L236.5,366 L237.2,362 L237.9,359.4 L239.8,360.3 L241.7,358.9 L243,359.5" stroke="#ff7cc8" stroke-width="1.3" fill="none" stroke-linejoin="round" stroke-linecap="round"/>
<path d="M243,359.5 L243.31,359.66 L243.63,359.87 L243.94,360.14 L244.25,360.44 L244.56,360.76 L244.88,361.13 L245.19,361.55 L245.5,362.05 L245.82,362.63 L246.13,363.28 L246.44,364.08 L246.76,365.07 L247.07,366.3 L247.38,368.03 L247.69,370.22 L248.01,372.72 L248.32,376.05 L248.63,380.29 L248.95,381.93 L249.26,378.64 L249.57,374.27 L249.88,371.62 L250.2,369.47 L250.51,367.84 L250.82,366.46 L251.14,365.3 L251.45,364.36 L251.76,363.55 L252.08,362.83 L252.39,362.23 L252.7,361.8 L253.01,361.47 L253.33,361.18 L253.64,360.93 L253.95,360.73 L254.27,360.58 L254.58,360.48 L254.89,360.4 L255.21,360.33 L255.52,360.26 L255.83,360.21 L256.14,360.16 L256.46,360.13 L256.77,360.11 L257.08,360.1 L257.4,360.1 L257.71,360.12 L258.02,360.14 L258.33,360.17 L258.65,360.21 L258.96,360.25 L259.27,360.29 L259.59,360.34 L259.9,360.38 L260.21,360.44 L260.53,360.5 L260.84,360.58 L261.15,360.67 L261.46,360.76 L261.78,360.87 L262.09,360.98 L262.4,361.09 L262.72,361.21 L263.03,361.33 L263.34,361.47 L263.65,361.63 L263.97,361.79 L264.28,361.95 L264.59,362.12 L264.91,362.29 L265.22,362.46 L265.53,362.62 L265.85,362.77 L266.16,362.91 L266.47,363.05 L266.78,363.19 L267.1,363.33 L267.41,363.48 L267.72,363.62 L268.04,363.77 L268.35,363.93 L268.66,364.1 L268.97,364.28 L269.29,364.48 L269.6,364.71 L269.91,364.95 L270.23,365.2 L270.54,365.46 L270.85,365.73 L271.17,365.99 L271.48,366.25 L271.79,366.5 L272.1,366.73 L272.42,366.94 L272.73,367.14 L273.04,367.32 L273.36,367.49 L273.67,367.67 L273.98,367.86 L274.29,368.07 L274.61,368.31 L274.92,368.58 L275.23,368.88 L275.55,369.21 L275.86,369.57 L276.17,369.94 L276.49,370.33 L276.8,370.74 L277.11,371.15 L277.42,371.6 L277.74,372.1 L278.05,372.61 L278.36,373.14 L278.68,373.66 L278.99,374.15 L279.3,374.6 L279.62,375.04 L279.93,375.47 L280.24,375.9 L280.55,376.33 L280.87,376.75 L281.18,377.16 L281.49,377.55 L281.81,377.93 L282.12,378.29 L282.43,378.62 L282.74,378.93 L283.06,379.21 L283.37,379.45 L283.68,379.68 L284,379.91 L284.31,380.12 L284.62,380.32 L284.94,380.51 L285.25,380.68 L285.56,380.84 L285.87,380.98 L286.19,381.1 L286.5,381.2" stroke="#ff7cc8" stroke-width="1.5" fill="none" stroke-linejoin="round"/>
<path d="M41.30,376.00 L41.30,367.71 L41.63,365.26 L41.96,367.28 L42.29,366.83 L42.62,366.21 L42.95,366.99 L43.28,367.71 L43.61,366.82 L43.94,364.73 L44.27,367.09 L44.60,367.02 L44.93,366.62 L45.26,366.68 L45.59,367.16 L45.92,367.15 L46.25,366.55 L46.58,366.62 L46.91,365.90 L47.24,367.64 L47.57,366.69 L47.90,366.53 L48.23,367.01 L48.56,367.77 L48.89,367.57 L49.22,366.96 L49.55,367.54 L49.88,366.32 L50.21,367.43 L50.54,366.06 L50.87,366.97 L51.20,367.33 L51.53,366.91 L51.86,366.62 L52.19,366.40 L52.52,366.63 L52.85,367.33 L53.18,367.25 L53.51,366.67 L53.84,366.18 L54.17,367.14 L54.50,366.08 L54.83,366.53 L55.16,366.43 L55.49,367.17 L55.82,366.92 L55.90,367.03 L55.90,376.00 L55.90,376.25 L55.82,376.11 L55.49,376.16 L55.16,376.39 L54.83,376.14 L54.50,376.15 L54.17,376.04 L53.84,375.83 L53.51,376.03 L53.18,376.00 L52.85,376.06 L52.52,376.07 L52.19,376.04 L51.86,375.82 L51.53,376.17 L51.20,375.67 L50.87,376.15 L50.54,376.04 L50.21,375.77 L49.88,375.71 L49.55,375.63 L49.22,375.93 L48.89,376.38 L48.56,376.01 L48.23,376.12 L47.90,376.44 L47.57,375.98 L47.24,375.87 L46.91,376.06 L46.58,376.07 L46.25,375.91 L45.92,376.01 L45.59,376.04 L45.26,375.92 L44.93,376.01 L44.60,376.16 L44.27,376.17 L43.94,376.01 L43.61,376.12 L43.28,375.96 L42.95,376.30 L42.62,376.06 L42.29,375.79 L41.96,376.07 L41.63,375.97 L41.30,376.14Z" fill="#ff0000"/>
<path d="M60.10,376.00 L60.10,367.25 L60.43,366.41 L60.76,366.11 L61.09,365.44 L61.42,366.72 L61.75,367.52 L62.08,366.92 L62.41,367.16 L62.74,367.41 L63.07,366.46 L63.40,368.23 L63.73,366.46 L64.06,366.39 L64.39,368.27 L64.72,366.46 L65.05,366.96 L65.38,366.64 L65.71,367.07 L66.04,365.84 L66.37,366.58 L66.70,367.75 L67.03,367.01 L67.36,366.78 L67.69,367.09 L68.02,367.11 L68.35,366.98 L68.68,367.19 L69.01,366.07 L69.34,367.20 L69.67,366.56 L70.00,367.29 L70.33,366.89 L70.66,362.80 L70.99,366.86 L71.32,366.40 L71.65,367.41 L71.98,366.89 L72.31,367.33 L72.64,366.34 L72.97,367.71 L73.30,366.49 L73.63,367.58 L73.96,367.33 L74.29,366.35 L74.62,367.06 L74.95,366.63 L75.28,367.10 L75.61,367.62 L75.94,367.24 L76.27,367.43 L76.60,366.31 L76.93,367.00 L77.26,367.08 L77.59,367.44 L77.92,366.59 L78.25,367.18 L78.58,367.11 L78.90,366.14 L78.90,376.00 L78.90,376.00 L78.58,376.09 L78.25,376.19 L77.92,375.92 L77.59,376.00 L77.26,375.89 L76.93,375.87 L76.60,376.18 L76.27,376.05 L75.94,376.08 L75.61,375.94 L75.28,376.05 L74.95,376.04 L74.62,375.77 L74.29,375.93 L73.96,376.32 L73.63,376.08 L73.30,376.06 L72.97,375.91 L72.64,376.07 L72.31,376.25 L71.98,376.13 L71.65,375.99 L71.32,376.18 L70.99,376.05 L70.66,375.91 L70.33,376.05 L70.00,375.98 L69.67,375.70 L69.34,375.82 L69.01,376.00 L68.68,376.34 L68.35,375.96 L68.02,376.19 L67.69,376.20 L67.36,375.90 L67.03,375.95 L66.70,375.88 L66.37,376.22 L66.04,376.20 L65.71,375.96 L65.38,376.05 L65.05,375.96 L64.72,376.16 L64.39,375.76 L64.06,375.77 L63.73,375.95 L63.40,375.86 L63.07,376.01 L62.74,376.18 L62.41,376.19 L62.08,376.03 L61.75,375.74 L61.42,375.78 L61.09,375.86 L60.76,376.07 L60.43,375.98 L60.10,375.81Z" fill="#ff0000"/>
<path d="M297.40,376.00 L297.40,365.34 L297.73,365.64 L298.06,366.44 L298.39,365.89 L298.72,366.52 L299.05,366.68 L299.38,365.33 L299.71,366.81 L300.04,361.35 L300.37,367.46 L300.70,366.64 L301.03,365.88 L301.36,366.32 L301.69,366.33 L302.02,366.40 L302.35,367.04 L302.68,366.52 L303.01,367.20 L303.34,366.58 L303.67,364.12 L304.00,365.29 L304.33,365.26 L304.66,366.32 L304.99,366.61 L305.32,367.07 L305.65,365.83 L305.98,366.25 L306.31,365.71 L306.64,365.95 L306.97,364.83 L307.30,366.64 L307.63,365.77 L307.96,366.16 L308.29,366.47 L308.62,366.40 L308.95,365.41 L309.28,367.11 L309.61,366.65 L309.94,366.50 L310.27,365.80 L310.60,365.24 L310.93,365.22 L311.26,366.07 L311.59,366.30 L311.92,365.78 L312.25,367.30 L312.58,366.38 L312.91,366.80 L313.24,366.74 L313.57,365.56 L313.90,366.80 L314.23,366.47 L314.56,365.44 L314.89,366.63 L315.22,366.84 L315.55,366.79 L315.88,366.83 L316.21,365.35 L316.54,366.05 L316.87,365.87 L317.20,366.23 L317.53,366.26 L317.86,366.88 L318.19,366.65 L318.52,365.70 L318.85,366.74 L319.18,367.18 L319.51,366.38 L319.84,365.30 L320.17,365.81 L320.50,366.09 L320.83,365.23 L321.16,366.12 L321.49,365.44 L321.82,366.68 L322.15,366.61 L322.48,366.15 L322.81,365.45 L323.14,366.37 L323.47,365.82 L323.80,365.79 L324.13,366.87 L324.46,365.75 L324.79,365.37 L325.12,366.67 L325.45,367.27 L325.78,367.17 L326.11,366.67 L326.44,367.46 L326.77,365.99 L327.10,367.51 L327.43,367.46 L327.76,365.99 L328.09,366.45 L328.42,365.43 L328.75,365.58 L329.08,366.54 L329.41,365.50 L329.74,366.33 L330.07,366.48 L330.40,366.28 L330.73,366.79 L331.06,367.37 L331.39,366.32 L331.72,366.81 L332.05,367.11 L332.38,364.46 L332.71,365.81 L332.80,364.75 L332.80,376.00 L332.80,376.30 L332.71,375.88 L332.38,375.93 L332.05,375.94 L331.72,375.91 L331.39,376.13 L331.06,375.96 L330.73,375.87 L330.40,376.04 L330.07,376.25 L329.74,375.93 L329.41,375.80 L329.08,375.88 L328.75,376.10 L328.42,376.24 L328.09,376.15 L327.76,375.86 L327.43,376.01 L327.10,376.01 L326.77,376.15 L326.44,376.16 L326.11,376.22 L325.78,376.13 L325.45,376.04 L325.12,375.74 L324.79,376.16 L324.46,375.92 L324.13,376.08 L323.80,375.66 L323.47,376.03 L323.14,376.27 L322.81,376.05 L322.48,376.01 L322.15,376.33 L321.82,375.85 L321.49,375.92 L321.16,376.11 L320.83,376.00 L320.50,375.96 L320.17,375.88 L319.84,375.90 L319.51,376.18 L319.18,376.26 L318.85,376.02 L318.52,376.26 L318.19,375.99 L317.86,376.09 L317.53,376.07 L317.20,375.73 L316.87,376.02 L316.54,376.10 L316.21,376.10 L315.88,376.18 L315.55,375.92 L315.22,375.98 L314.89,376.17 L314.56,375.88 L314.23,376.15 L313.90,376.11 L313.57,376.04 L313.24,375.88 L312.91,376.02 L312.58,376.12 L312.25,375.95 L311.92,375.85 L311.59,376.01 L311.26,375.76 L310.93,376.01 L310.60,375.75 L310.27,375.94 L309.94,376.03 L309.61,375.88 L309.28,376.16 L308.95,376.22 L308.62,375.88 L308.29,376.25 L307.96,376.18 L307.63,376.04 L307.30,376.05 L306.97,375.99 L306.64,376.01 L306.31,376.04 L305.98,375.71 L305.65,375.71 L305.32,375.81 L304.99,375.85 L304.66,376.19 L304.33,376.14 L304.00,376.04 L303.67,376.02 L303.34,376.19 L303.01,375.99 L302.68,375.99 L302.35,375.98 L302.02,375.96 L301.69,376.26 L301.36,375.71 L301.03,376.12 L300.70,376.10 L300.37,376.06 L300.04,375.88 L299.71,375.93 L299.38,375.86 L299.05,376.03 L298.72,375.96 L298.39,375.99 L298.06,376.04 L297.73,375.92 L297.40,376.04Z" fill="#ff0000"/>
<path d="M55.9,369.2 L56.1,368.24 L56.3,367.29 L56.5,366.35 L56.7,365.42 L56.9,364.5 L57.1,363.52 L57.3,362.49 L57.5,361.53 L57.7,360.77 L57.9,360.28 L58.1,359.86 L58.3,359.52 L58.5,359.33 L58.7,359.35 L58.9,359.74 L59.1,360.38 L59.3,361.13 L59.5,361.89 L59.7,362.81 L59.9,363.91 L60.1,365.14 L60.3,366.5" stroke="#ff0000" stroke-width="1.5" fill="none" stroke-linejoin="round"/>
<path d="M78.8,366.51 L79.13,365.54 L79.45,364.26 L79.78,363.2 L80.11,362.35 L80.44,361.35 L80.76,360.32 L81.09,358.83 L81.42,358.16 L81.74,357.36 L82.07,356.85 L82.4,355.86 L82.72,354.97 L83.05,354.48 L83.38,353.78 L83.71,352.7 L84.03,352.61 L84.36,351.76 L84.69,351.42 L85.01,350.99 L85.34,350.09 L85.67,350.3 L85.99,349.2 L86.32,349.36 L86.65,348.89 L86.98,348.27 L87.3,348.33 L87.63,347.45 L87.96,346.93 L88.28,347.07 L88.61,346.51 L88.94,346.51 L89.26,346.37 L89.59,346.53 L89.92,345.81 L90.25,345.75 L90.57,345.78 L90.9,345.69 L91.23,345.29 L91.55,345.49 L91.88,344.84 L92.21,344.94 L92.53,344.9 L92.86,345.06 L93.19,345.41 L93.52,345.33 L93.84,345.72 L94.17,345.15 L94.5,345.51 L94.82,346.1 L95.15,346.06 L95.48,346.26 L95.81,346.08 L96.13,347.15 L96.46,346.94 L96.79,347.7 L97.11,347.61 L97.44,348.12 L97.77,349.11 L98.09,348.73 L98.42,349.14 L98.75,349.71 L99.08,349.61 L99.4,350.53 L99.73,350.91 L100.06,351.16 L100.38,351.33 L100.71,351.86 L101.04,351.99 L101.36,352.37 L101.69,352.52 L102.02,353.22 L102.35,353.23 L102.67,353.94 L103,353.72 L103.33,354.2 L103.65,354.4 L103.98,355.07 L104.31,355.62 L104.63,355.87 L104.96,356.5 L105.29,356.58 L105.62,356.38 L105.94,357.32 L106.27,358 L106.6,358.34 L106.92,358.7 L107.25,359.32 L107.58,359.83 L107.9,359.61 L108.23,359.91 L108.56,360 L108.89,359.69 L109.21,358.63 L109.54,358.43 L109.87,358.82 L110.19,359.21 L110.52,359.57 L110.85,359.99 L111.18,361.06 L111.5,361.96 L111.83,362.26 L112.16,363.19 L112.48,364.54 L112.81,364.82 L113.14,364.39 L113.46,364.05 L113.79,363.43 L114.12,362.95 L114.45,362.22 L114.77,361.88 L115.1,361.57 L115.43,361.13 L115.75,360.89 L116.08,360.75 L116.41,360.91 L116.73,360.5 L117.06,360.21 L117.39,360.89 L117.72,360.94 L118.04,361.84 L118.37,361.9 L118.7,362.06 L119.02,362.37 L119.35,363.35 L119.68,363.31 L120,362.86 L120.33,363.28 L120.66,363.47 L120.99,363.58 L121.31,362.63 L121.64,361.59 L121.97,361.93 L122.29,360.99 L122.62,361.05 L122.95,360.38 L123.27,360.54 L123.6,360.59 L123.93,360.12 L124.26,360.68 L124.58,361.56 L124.91,361.83 L125.24,362.64 L125.56,362.61 L125.89,362.86 L126.22,363.24 L126.55,364.03 L126.87,364.28 L127.2,363.85 L127.53,363.44 L127.85,362.67 L128.18,361.22 L128.51,360.72 L128.83,360.4 L129.16,359.92 L129.49,359.41 L129.82,358.98 L130.14,358.72 L130.47,359 L130.8,359.16 L131.12,359.25 L131.45,359.73 L131.78,359.66 L132.1,359.88 L132.43,360.16 L132.76,360.09 L133.09,360.96 L133.41,360.55 L133.74,361.49 L134.07,361.57 L134.39,362.63 L134.72,363.07 L135.05,363.72 L135.37,364.72 L135.7,364.17 L136.03,364.16 L136.36,363.62 L136.68,363.99 L137.01,364.22 L137.34,363.12 L137.66,363.04 L137.99,363.38 L138.32,364.13 L138.64,363.89 L138.97,363.45 L139.3,363.9 L139.63,364.57 L139.95,364.69 L140.28,365.35 L140.61,365.14 L140.93,365.15 L141.26,365.24 L141.59,365.31 L141.92,365.27 L142.24,365.43 L142.57,365.42 L142.9,364.54 L143.22,364.31 L143.55,364.36 L143.88,364.94 L144.2,365.16 L144.53,365.79 L144.86,366.49 L145.19,366.93 L145.51,367.52 L145.84,367.68 L146.17,367.82 L146.49,366.41 L146.82,364.87 L147.15,364.26 L147.47,363.24 L147.8,361.9 L148.13,361.74 L148.46,360.99 L148.78,360.72 L149.11,360.7 L149.44,360.48 L149.76,360.16 L150.09,359.8 L150.42,359.93 L150.74,359.06 L151.07,359.66 L151.4,359.31 L151.73,358.69 L152.05,358.21 L152.38,358.51 L152.71,358.27 L153.03,357.85 L153.36,357.74 L153.69,357.99 L154.01,357.9 L154.34,357.62 L154.67,357.73 L155,357.52 L155.32,357.05 L155.65,357.12 L155.98,357.47 L156.3,357.32 L156.63,357.47 L156.96,357.64 L157.28,357.15 L157.61,357.09 L157.94,357.64 L158.27,357.56 L158.59,357.67 L158.92,357.74 L159.25,358.7 L159.57,357.79 L159.9,357.89 L160.23,357.84 L160.56,357.85 L160.88,357.94 L161.21,358.72 L161.54,359.19 L161.86,359.28 L162.19,359.67 L162.52,360.85 L162.84,360.78 L163.17,359.95 L163.5,359.45 L163.83,358.84 L164.15,358.13 L164.48,357.74 L164.81,357.9 L165.13,357.86 L165.46,357.48 L165.79,357.76 L166.11,357.51 L166.44,357.32 L166.77,357.84 L167.1,357.75 L167.42,357.75 L167.75,358.34 L168.08,358.41 L168.4,358.08 L168.73,358.28 L169.06,358.51 L169.38,358.14 L169.71,358.61 L170.04,358.44 L170.37,358.74 L170.69,358.53 L171.02,358.92 L171.35,358.14 L171.67,359.3 L172,358.06 L172.33,359.12 L172.65,358.61 L172.98,358.39 L173.31,359.41 L173.64,358.54 L173.96,358.69 L174.29,358.29 L174.62,358.54 L174.94,358.59 L175.27,358.96 L175.6,358.99 L175.93,359.34 L176.25,359.02 L176.58,359.14 L176.91,358.76 L177.23,359.74 L177.56,359.31 L177.89,359.35 L178.21,360.36 L178.54,359.78 L178.87,359.72 L179.2,360.01 L179.52,360.16 L179.85,360.18 L180.18,360.57 L180.5,360.36 L180.83,360.77 L181.16,360.45 L181.48,360.51 L181.81,359.7 L182.14,359.97 L182.47,360.26 L182.79,360.02 L183.12,360.04 L183.45,360.02 L183.77,360.19 L184.1,359.92 L184.43,359.81 L184.75,359.66 L185.08,360.01 L185.41,360.07 L185.74,359.9 L186.06,359.67 L186.39,359.69 L186.72,360.21 L187.04,359.93 L187.37,359.75 L187.7,359.8 L188.02,359.81 L188.35,359.89 L188.68,359.86 L189.01,359.02 L189.33,359.38 L189.66,359.65 L189.99,359.58 L190.31,359.27 L190.64,359.54 L190.97,359.27 L191.3,359.21 L191.62,358.82 L191.95,359.3 L192.28,359.33 L192.6,358.82 L192.93,358.95 L193.26,358.45 L193.58,358.48 L193.91,358.06 L194.24,358.14 L194.57,358.35 L194.89,357.82 L195.22,358.42 L195.55,358.27 L195.87,357.79 L196.2,357.88 L196.53,357.08 L196.85,356.64 L197.18,356.02 L197.51,356.16 L197.84,355.56 L198.16,355.9 L198.49,355.45 L198.82,354.87 L199.14,354.59 L199.47,354.51 L199.8,353.78 L200.12,354.08 L200.45,354.36 L200.78,353.61 L201.11,353.31 L201.43,353.59 L201.76,353.16 L202.09,353.21 L202.41,353.03 L202.74,352.78 L203.07,352.75 L203.39,352.45 L203.72,352.65 L204.05,351.73 L204.38,352.35 L204.7,351.57 L205.03,352.08 L205.36,351.24 L205.68,350.98 L206.01,351.16 L206.34,350.34 L206.67,349.88 L206.99,349.75 L207.32,350.05 L207.65,349.7 L207.97,349.96 L208.3,349.33 L208.63,349.06 L208.95,349.82 L209.28,349.14 L209.61,348.4 L209.94,348.88 L210.26,348.42 L210.59,348.68 L210.92,348.75 L211.24,348.25 L211.57,347.62 L211.9,348.33 L212.22,348.31 L212.55,347.94 L212.88,347.69 L213.21,347.72 L213.53,347.54 L213.86,347.66 L214.19,347.78 L214.51,348.03 L214.84,347.92 L215.17,347.83 L215.49,347.84 L215.82,347.92 L216.15,348.16 L216.48,348.17 L216.8,347.92 L217.13,347.94 L217.46,348 L217.78,347.81 L218.11,347.32 L218.44,348.69 L218.76,348.55 L219.09,348.46 L219.42,348.65 L219.75,348.61 L220.07,348.9 L220.4,348.83" stroke="#ff0000" stroke-width="1.5" fill="none" stroke-linejoin="round"/>
<path d="M220.4,348.8 L221.3,348.9 L222.3,350 L222.9,356.3 L223.9,349.4 L224.7,343.6 L225.8,341.5 L227.4,341.5 L228.4,344.2 L228.7,348.4 L229.5,342 L230.3,348.9 L231.3,338.9 L232.6,337 L233.7,338.9 L234.2,349.4 L235.3,341.5 L236.3,345.2 L237.1,344.2 L238.2,345.2 L239.2,351.5 L240.8,347.8 L242.4,346.8" stroke="#ff0000" stroke-width="1.5" fill="none" stroke-linejoin="round" stroke-linecap="round"/>
<path d="M242.4,346.8 L242.72,346.79 L243.03,346.77 L243.35,346.75 L243.67,346.73 L243.98,346.72 L244.3,346.7 L244.62,346.68 L244.93,346.65 L245.25,346.63 L245.57,346.61 L245.88,346.59 L246.2,346.55 L246.52,346.52 L246.83,346.48 L247.15,346.45 L247.47,346.42 L247.78,346.4 L248.1,346.4 L248.41,346.4 L248.73,346.4 L249.05,346.4 L249.36,346.4 L249.68,346.4 L250,346.4 L250.31,346.4 L250.63,346.4 L250.95,346.39 L251.26,346.36 L251.58,346.33 L251.9,346.29 L252.21,346.26 L252.53,346.23 L252.85,346.21 L253.16,346.2 L253.48,346.27 L253.8,346.48 L254.11,346.8 L254.43,347.2 L254.75,347.64 L255.06,348.09 L255.38,348.5 L255.7,348.94 L256.01,349.42 L256.33,349.93 L256.65,350.46 L256.96,350.98 L257.28,351.49 L257.6,351.99 L257.91,352.51 L258.23,353.04 L258.55,353.58 L258.86,354.29 L259.18,355.04 L259.49,355.58 L259.81,355.66 L260.13,355.22 L260.44,354.47 L260.76,353.68 L261.08,353.08 L261.39,352.6 L261.71,352.15 L262.03,351.73 L262.34,351.33 L262.66,350.95 L262.98,350.58 L263.29,350.22 L263.61,349.87 L263.93,349.55 L264.24,349.24 L264.56,348.95 L264.88,348.66 L265.19,348.38 L265.51,348.14 L265.83,347.94 L266.14,347.79 L266.46,347.65 L266.78,347.53 L267.09,347.42 L267.41,347.33 L267.73,347.25 L268.04,347.19 L268.36,347.14 L268.68,347.09 L268.99,347.04 L269.31,346.99 L269.63,346.96 L269.94,346.93 L270.26,346.91 L270.57,346.9 L270.89,346.9 L271.21,346.92 L271.52,346.94 L271.84,346.98 L272.16,347.01 L272.47,347.06 L272.79,347.11 L273.11,347.16 L273.42,347.21 L273.74,347.26 L274.06,347.31 L274.37,347.36 L274.69,347.42 L275.01,347.48 L275.32,347.55 L275.64,347.63 L275.96,347.7 L276.27,347.79 L276.59,347.88 L276.91,347.97 L277.22,348.07 L277.54,348.19 L277.86,348.33 L278.17,348.48 L278.49,348.63 L278.81,348.79 L279.12,348.96 L279.44,349.12 L279.76,349.28 L280.07,349.43 L280.39,349.58 L280.71,349.73 L281.02,349.88 L281.34,350.02 L281.65,350.17 L281.97,350.32 L282.29,350.47 L282.6,350.63 L282.92,350.8 L283.24,350.97 L283.55,351.14 L283.87,351.33 L284.19,351.53 L284.5,351.73 L284.82,351.94 L285.14,352.15 L285.45,352.36 L285.77,352.58 L286.09,352.8 L286.4,353.02 L286.72,353.24 L287.04,353.47 L287.35,353.7 L287.67,353.95 L287.99,354.2 L288.3,354.48 L288.62,354.76 L288.94,355.06 L289.25,355.38 L289.57,355.7 L289.89,356.05 L290.2,356.4 L290.52,356.78 L290.84,357.18 L291.15,357.6 L291.47,358.04 L291.79,358.49 L292.1,358.95 L292.42,359.43 L292.73,359.93 L293.05,360.44 L293.37,360.96 L293.68,361.47 L294,362 L294.32,362.55 L294.63,363.1 L294.95,363.62 L295.27,364.1 L295.58,364.56 L295.9,365 L296.22,365.4 L296.53,365.74 L296.85,366.01 L297.17,366.25 L297.48,366.45 L297.8,366.6" stroke="#ff0000" stroke-width="1.5" fill="none" stroke-linejoin="round"/>
</g>
<rect x="41.3" y="314.6" width="291.5" height="122.1" fill="none" stroke="#1e1e1e" stroke-width="1.3"/>
<path d="M63.72,436.7 v-3.8 M63.72,314.6 v3.8 M153.42,436.7 v-3.8 M153.42,314.6 v3.8 M243.11,436.7 v-3.8 M243.11,314.6 v3.8 M41.3,329.86 h3.8 M332.8,329.86 h-3.8 M41.3,345.12 h3.8 M332.8,345.12 h-3.8 M41.3,360.39 h3.8 M332.8,360.39 h-3.8 M41.3,375.65 h3.8 M332.8,375.65 h-3.8 M41.3,390.91 h3.8 M332.8,390.91 h-3.8 M41.3,406.18 h3.8 M332.8,406.18 h-3.8 M41.3,421.44 h3.8 M332.8,421.44 h-3.8" stroke="#1e1e1e" stroke-width="1.2" fill="none"/>
<text x="63.72" y="450.1" font-size="11" text-anchor="middle" fill="#111" font-weight="normal" >800</text>
<text x="153.42" y="450.1" font-size="11" text-anchor="middle" fill="#111" font-weight="normal" >1200</text>
<text x="243.11" y="450.1" font-size="11" text-anchor="middle" fill="#111" font-weight="normal" >1600</text>
<text x="332.8" y="450.1" font-size="11" text-anchor="middle" fill="#111" font-weight="normal" >2000</text>
<text x="187.1" y="470.9" font-size="13" text-anchor="middle" fill="#111" font-weight="normal" >Wavelength (nm)</text>
<text transform="translate(22.9,375.6) rotate(-90)" text-anchor="middle" font-size="13" fill="#111">Intensity (20 dB/div)</text>
<path d="M51.2,327.2 h16.9" stroke="#ff0000" stroke-width="1.3"/>
<text x="72.5" y="331.3" font-size="10.7" text-anchor="start" fill="#111" font-weight="normal" >103 pJ</text>
<path d="M112.9,327.2 h16.9" stroke="#ff7cc8" stroke-width="1.3"/>
<text x="134.2" y="331.3" font-size="10.7" text-anchor="start" fill="#111" font-weight="normal" >97 pJ</text>
<path d="M168.0,327.2 h16.9" stroke="#b86eff" stroke-width="1.3"/>
<text x="189.3" y="331.3" font-size="10.7" text-anchor="start" fill="#111" font-weight="normal" >87 pJ</text>
<path d="M223.2,327.2 h16.9" stroke="#ff976e" stroke-width="1.3"/>
<text x="244.5" y="331.3" font-size="10.7" text-anchor="start" fill="#111" font-weight="normal" >80 pJ</text>
<path d="M278.1,327.2 h16.9" stroke="#7cc4ec" stroke-width="1.3"/>
<text x="299.4" y="331.3" font-size="10.7" text-anchor="start" fill="#111" font-weight="normal" >1.5 pJ</text>
<clipPath id="iclip"><rect x="392.8" y="314.6" width="291.4" height="122.1"/></clipPath>
<g clip-path="url(#iclip)">
<path d="M392.80,436.70 L392.80,426.82 L393.13,427.51 L393.46,425.53 L393.79,427.62 L394.12,426.58 L394.45,426.13 L394.78,426.13 L395.11,425.96 L395.44,426.48 L395.77,427.12 L396.10,426.97 L396.43,427.00 L396.76,425.60 L397.09,425.68 L397.42,427.56 L397.75,427.21 L398.08,427.94 L398.41,427.35 L398.74,426.02 L399.07,427.40 L399.40,427.01 L399.73,426.76 L400.06,426.15 L400.39,426.64 L400.72,426.55 L401.05,425.17 L401.38,426.72 L401.71,427.60 L402.04,426.18 L402.37,426.93 L402.70,426.95 L403.03,426.13 L403.36,425.95 L403.69,427.26 L404.02,426.97 L404.35,426.56 L404.68,426.90 L405.01,426.26 L405.34,426.81 L405.67,426.30 L406.00,426.78 L406.33,427.26 L406.66,426.47 L406.99,427.18 L407.32,426.05 L407.65,426.50 L407.98,425.40 L408.31,426.62 L408.64,426.73 L408.97,425.34 L409.30,426.52 L409.63,427.49 L409.96,427.54 L410.29,425.96 L410.62,427.40 L410.95,425.66 L411.28,426.25 L411.61,426.59 L411.94,426.77 L412.27,426.07 L412.60,426.27 L412.93,426.75 L413.26,426.29 L413.59,426.32 L413.92,427.11 L414.25,427.27 L414.58,426.68 L414.91,426.72 L415.24,426.70 L415.57,426.44 L415.90,423.92 L416.23,426.10 L416.56,427.11 L416.89,426.67 L417.22,426.64 L417.55,426.85 L417.88,427.05 L418.21,427.58 L418.54,426.57 L418.87,426.49 L419.20,426.86 L419.53,426.23 L419.86,427.19 L420.19,427.30 L420.52,427.16 L420.85,426.67 L421.18,427.19 L421.51,427.38 L421.84,427.05 L422.17,426.58 L422.50,425.74 L422.83,427.32 L423.16,426.54 L423.49,426.25 L423.82,427.29 L424.15,426.96 L424.48,425.91 L424.81,426.71 L425.14,426.61 L425.47,427.36 L425.80,425.63 L426.13,425.22 L426.46,426.69 L426.79,420.60 L427.12,426.13 L427.45,422.22 L427.78,425.95 L428.11,426.94 L428.44,427.27 L428.77,427.83 L429.10,423.63 L429.43,426.31 L429.76,427.32 L430.09,426.79 L430.42,426.67 L430.75,426.81 L431.08,427.56 L431.41,426.26 L431.74,426.19 L432.07,426.76 L432.40,426.76 L432.73,426.32 L433.06,426.28 L433.39,427.04 L433.72,427.61 L434.05,427.24 L434.38,427.23 L434.71,427.56 L435.04,425.62 L435.37,425.91 L435.70,426.40 L436.03,426.11 L436.36,426.23 L436.69,426.87 L437.02,426.06 L437.35,426.56 L437.68,425.61 L438.01,426.25 L438.34,427.64 L438.67,426.51 L439.00,427.03 L439.33,427.26 L439.66,426.55 L439.99,427.19 L440.32,426.97 L440.65,427.26 L440.98,426.47 L441.31,425.99 L441.64,426.24 L441.97,426.52 L442.30,427.18 L442.63,426.73 L442.96,426.17 L443.29,426.75 L443.62,427.52 L443.95,426.52 L444.28,427.77 L444.61,426.13 L444.94,426.51 L445.27,427.38 L445.60,427.18 L445.93,426.36 L446.26,426.81 L446.59,426.45 L446.92,427.39 L447.25,427.20 L447.58,426.45 L447.91,427.12 L448.24,426.67 L448.57,426.84 L448.90,426.93 L449.23,426.55 L449.56,427.15 L449.89,427.17 L450.22,427.15 L450.55,427.56 L450.88,426.74 L451.21,426.01 L451.54,425.12 L451.87,427.02 L452.20,426.92 L452.53,425.28 L452.86,427.39 L453.19,426.84 L453.52,426.44 L453.85,426.32 L454.18,427.54 L454.51,426.76 L454.84,426.27 L455.17,426.25 L455.50,426.67 L455.83,427.86 L456.16,427.39 L456.49,425.91 L456.82,426.86 L457.15,427.09 L457.48,427.31 L457.81,427.14 L458.14,426.55 L458.47,427.19 L458.80,425.70 L459.13,425.60 L459.46,426.52 L459.79,426.53 L460.12,425.35 L460.45,427.58 L460.78,426.32 L461.11,427.06 L461.44,427.01 L461.77,424.18 L462.10,425.73 L462.43,426.90 L462.76,427.04 L463.09,426.61 L463.42,425.34 L463.75,426.95 L464.08,426.62 L464.41,426.44 L464.74,426.78 L465.07,426.30 L465.40,424.27 L465.73,426.98 L466.06,426.64 L466.39,427.15 L466.72,426.96 L467.05,426.07 L467.38,426.90 L467.71,426.71 L468.04,425.94 L468.37,426.60 L468.70,427.25 L469.03,426.62 L469.36,427.84 L469.69,428.01 L470.02,426.81 L470.35,427.33 L470.68,428.08 L471.01,426.80 L471.34,426.47 L471.67,426.75 L472.00,426.18 L472.33,426.20 L472.66,427.14 L472.99,426.76 L473.32,427.16 L473.65,427.31 L473.98,426.56 L474.31,426.90 L474.64,426.86 L474.97,426.62 L475.30,426.52 L475.63,427.22 L475.96,426.94 L476.29,427.23 L476.62,427.63 L476.95,427.64 L477.28,426.37 L477.61,426.52 L477.94,426.88 L478.27,427.11 L478.60,427.60 L478.93,426.47 L479.26,425.53 L479.59,425.81 L479.92,427.79 L480.25,427.88 L480.58,426.45 L480.91,426.93 L481.24,426.57 L481.57,427.57 L481.90,427.33 L482.23,426.85 L482.56,426.70 L482.89,427.24 L483.22,427.65 L483.55,426.61 L483.88,426.87 L484.21,427.14 L484.54,427.08 L484.87,427.28 L485.20,426.48 L485.53,426.72 L485.86,425.82 L486.19,427.11 L486.52,427.72 L486.85,425.85 L487.18,426.71 L487.51,427.63 L487.84,427.00 L488.17,425.95 L488.50,427.79 L488.83,426.24 L489.16,427.92 L489.49,426.75 L489.82,426.68 L490.15,427.12 L490.48,427.09 L490.81,427.47 L491.14,427.41 L491.47,427.02 L491.80,427.90 L492.13,427.54 L492.46,427.28 L492.79,427.20 L493.12,427.06 L493.45,427.07 L493.78,427.52 L494.11,427.41 L494.44,427.07 L494.77,427.73 L495.10,426.97 L495.43,427.39 L495.76,427.65 L496.09,426.46 L496.42,426.98 L496.75,428.14 L497.08,426.56 L497.41,427.83 L497.74,426.50 L498.07,427.39 L498.40,426.51 L498.73,426.78 L499.06,426.92 L499.39,426.82 L499.72,427.76 L500.05,427.65 L500.38,427.68 L500.71,427.27 L501.04,425.59 L501.37,427.78 L501.70,427.36 L502.03,426.53 L502.36,427.58 L502.69,427.56 L503.02,425.55 L503.35,427.60 L503.68,427.63 L504.01,426.99 L504.34,427.51 L504.67,427.38 L505.00,427.37 L505.33,426.97 L505.66,426.90 L505.99,427.25 L506.32,428.04 L506.65,428.58 L506.98,426.97 L507.31,426.56 L507.64,426.99 L507.97,426.69 L508.30,426.94 L508.63,427.43 L508.96,426.65 L509.29,427.57 L509.30,427.67 L509.30,436.70 L509.30,436.67 L509.29,436.77 L508.96,436.79 L508.63,436.77 L508.30,436.58 L507.97,436.57 L507.64,436.58 L507.31,436.75 L506.98,436.78 L506.65,436.65 L506.32,436.78 L505.99,436.85 L505.66,436.67 L505.33,436.43 L505.00,436.62 L504.67,436.55 L504.34,436.80 L504.01,436.69 L503.68,436.73 L503.35,436.61 L503.02,436.51 L502.69,436.64 L502.36,436.67 L502.03,436.87 L501.70,436.69 L501.37,436.77 L501.04,436.74 L500.71,436.76 L500.38,436.74 L500.05,436.76 L499.72,436.72 L499.39,436.81 L499.06,436.73 L498.73,436.62 L498.40,436.73 L498.07,436.87 L497.74,436.55 L497.41,436.51 L497.08,436.96 L496.75,436.76 L496.42,436.41 L496.09,436.93 L495.76,436.86 L495.43,436.69 L495.10,436.65 L494.77,436.53 L494.44,436.76 L494.11,436.59 L493.78,436.52 L493.45,436.73 L493.12,436.84 L492.79,436.75 L492.46,436.88 L492.13,436.73 L491.80,436.97 L491.47,436.53 L491.14,436.62 L490.81,436.79 L490.48,436.84 L490.15,436.57 L489.82,436.93 L489.49,436.25 L489.16,436.61 L488.83,436.78 L488.50,436.62 L488.17,436.81 L487.84,436.60 L487.51,436.75 L487.18,436.87 L486.85,436.72 L486.52,436.71 L486.19,436.59 L485.86,436.81 L485.53,436.90 L485.20,436.51 L484.87,436.51 L484.54,436.77 L484.21,436.76 L483.88,436.80 L483.55,437.04 L483.22,436.72 L482.89,436.90 L482.56,436.47 L482.23,436.56 L481.90,436.67 L481.57,436.40 L481.24,436.93 L480.91,436.58 L480.58,436.70 L480.25,436.67 L479.92,436.75 L479.59,436.48 L479.26,436.77 L478.93,436.40 L478.60,436.70 L478.27,436.65 L477.94,436.70 L477.61,436.85 L477.28,436.67 L476.95,436.76 L476.62,436.72 L476.29,436.69 L475.96,436.76 L475.63,436.38 L475.30,436.56 L474.97,436.75 L474.64,436.48 L474.31,436.68 L473.98,436.86 L473.65,436.74 L473.32,436.77 L472.99,436.73 L472.66,436.82 L472.33,436.70 L472.00,436.71 L471.67,436.57 L471.34,436.74 L471.01,436.67 L470.68,436.63 L470.35,436.60 L470.02,436.66 L469.69,436.61 L469.36,436.63 L469.03,436.58 L468.70,436.76 L468.37,436.88 L468.04,436.73 L467.71,436.67 L467.38,436.75 L467.05,436.63 L466.72,436.90 L466.39,436.77 L466.06,436.77 L465.73,436.65 L465.40,436.64 L465.07,436.73 L464.74,436.65 L464.41,436.77 L464.08,436.74 L463.75,436.48 L463.42,436.55 L463.09,436.63 L462.76,436.64 L462.43,436.73 L462.10,436.81 L461.77,436.49 L461.44,436.76 L461.11,436.86 L460.78,436.58 L460.45,436.69 L460.12,436.79 L459.79,436.56 L459.46,436.75 L459.13,436.83 L458.80,436.71 L458.47,436.78 L458.14,436.82 L457.81,436.61 L457.48,436.47 L457.15,436.54 L456.82,436.75 L456.49,436.81 L456.16,436.41 L455.83,436.56 L455.50,436.66 L455.17,436.60 L454.84,436.75 L454.51,436.33 L454.18,436.71 L453.85,436.71 L453.52,436.80 L453.19,436.75 L452.86,436.50 L452.53,436.36 L452.20,436.38 L451.87,436.64 L451.54,436.78 L451.21,436.79 L450.88,436.49 L450.55,436.65 L450.22,436.72 L449.89,436.62 L449.56,436.71 L449.23,436.54 L448.90,436.62 L448.57,436.67 L448.24,436.53 L447.91,437.03 L447.58,436.92 L447.25,436.82 L446.92,436.81 L446.59,436.52 L446.26,436.54 L445.93,436.52 L445.60,436.87 L445.27,436.73 L444.94,436.62 L444.61,436.54 L444.28,436.85 L443.95,436.70 L443.62,436.77 L443.29,436.81 L442.96,436.83 L442.63,436.69 L442.30,436.67 L441.97,436.77 L441.64,436.76 L441.31,436.90 L440.98,436.86 L440.65,436.79 L440.32,436.75 L439.99,436.56 L439.66,436.75 L439.33,436.54 L439.00,436.69 L438.67,436.69 L438.34,436.60 L438.01,436.89 L437.68,436.79 L437.35,436.41 L437.02,436.94 L436.69,436.49 L436.36,436.77 L436.03,436.89 L435.70,436.78 L435.37,436.73 L435.04,436.70 L434.71,436.59 L434.38,436.91 L434.05,436.70 L433.72,436.77 L433.39,436.51 L433.06,436.76 L432.73,436.63 L432.40,436.62 L432.07,436.29 L431.74,436.62 L431.41,436.71 L431.08,436.74 L430.75,436.74 L430.42,436.85 L430.09,436.51 L429.76,436.62 L429.43,436.75 L429.10,436.55 L428.77,436.62 L428.44,436.81 L428.11,436.59 L427.78,436.76 L427.45,436.49 L427.12,436.65 L426.79,436.73 L426.46,436.67 L426.13,436.86 L425.80,436.85 L425.47,436.70 L425.14,436.58 L424.81,436.52 L424.48,436.47 L424.15,436.71 L423.82,436.56 L423.49,436.61 L423.16,436.87 L422.83,436.66 L422.50,436.76 L422.17,436.96 L421.84,436.71 L421.51,436.92 L421.18,436.70 L420.85,436.60 L420.52,436.57 L420.19,436.85 L419.86,436.61 L419.53,436.62 L419.20,436.54 L418.87,436.85 L418.54,436.63 L418.21,436.97 L417.88,436.68 L417.55,436.45 L417.22,436.58 L416.89,436.45 L416.56,436.86 L416.23,436.61 L415.90,436.65 L415.57,436.83 L415.24,436.95 L414.91,436.82 L414.58,436.47 L414.25,436.81 L413.92,436.63 L413.59,436.72 L413.26,436.59 L412.93,436.52 L412.60,436.50 L412.27,437.00 L411.94,436.63 L411.61,436.74 L411.28,436.80 L410.95,436.86 L410.62,436.83 L410.29,436.63 L409.96,436.51 L409.63,436.68 L409.30,436.67 L408.97,436.54 L408.64,436.89 L408.31,436.70 L407.98,436.90 L407.65,436.55 L407.32,436.87 L406.99,436.85 L406.66,436.75 L406.33,436.63 L406.00,436.68 L405.67,436.81 L405.34,436.49 L405.01,436.76 L404.68,436.63 L404.35,436.60 L404.02,436.53 L403.69,436.71 L403.36,436.60 L403.03,436.59 L402.70,436.77 L402.37,436.53 L402.04,436.64 L401.71,436.33 L401.38,436.64 L401.05,436.66 L400.72,436.73 L400.39,436.75 L400.06,436.63 L399.73,436.82 L399.40,436.40 L399.07,436.59 L398.74,436.82 L398.41,436.53 L398.08,436.64 L397.75,436.69 L397.42,436.57 L397.09,436.77 L396.76,436.85 L396.43,436.51 L396.10,436.93 L395.77,436.79 L395.44,436.74 L395.11,436.81 L394.78,436.58 L394.45,436.71 L394.12,436.73 L393.79,436.63 L393.46,436.53 L393.13,436.74 L392.80,436.76Z" fill="#7cc4ec"/>
<path d="M517.10,436.70 L517.10,426.46 L517.43,426.58 L517.76,426.52 L518.09,426.93 L518.42,428.18 L518.75,425.57 L519.08,427.88 L519.41,428.08 L519.74,426.42 L520.07,426.91 L520.40,427.61 L520.73,428.06 L521.06,428.63 L521.39,427.87 L521.72,428.30 L522.05,427.07 L522.38,426.82 L522.71,426.32 L523.04,426.66 L523.37,427.14 L523.70,427.47 L524.03,426.57 L524.36,427.85 L524.69,427.30 L525.02,426.98 L525.35,426.91 L525.68,428.59 L526.01,427.48 L526.34,426.84 L526.67,426.81 L527.00,428.49 L527.33,427.04 L527.66,428.10 L527.99,428.25 L528.32,426.00 L528.65,428.21 L528.98,427.28 L529.31,426.75 L529.64,425.82 L529.97,427.75 L530.30,427.64 L530.63,427.67 L530.96,426.98 L531.29,425.52 L531.62,428.33 L531.95,428.53 L532.28,428.03 L532.61,428.57 L532.94,428.69 L533.27,427.86 L533.60,427.97 L533.93,427.79 L534.26,427.78 L534.59,427.97 L534.92,426.43 L535.25,427.26 L535.58,427.75 L535.91,426.20 L536.24,426.60 L536.57,428.42 L536.90,426.74 L537.23,427.19 L537.56,427.70 L537.89,427.19 L538.22,426.97 L538.55,427.18 L538.88,427.23 L539.21,427.14 L539.54,427.60 L539.87,428.46 L540.20,427.71 L540.53,428.48 L540.86,427.95 L541.19,428.01 L541.52,427.86 L541.85,427.33 L542.18,427.77 L542.51,427.70 L542.84,426.85 L543.17,427.97 L543.50,427.87 L543.83,427.75 L544.16,427.20 L544.49,425.96 L544.82,428.42 L545.15,427.50 L545.48,424.03 L545.81,427.94 L546.14,427.13 L546.47,427.97 L546.80,427.49 L547.13,428.24 L547.46,427.70 L547.79,427.73 L548.12,427.66 L548.45,424.73 L548.78,422.48 L549.11,428.28 L549.44,427.99 L549.77,427.25 L550.10,427.58 L550.43,427.32 L550.76,427.63 L551.09,428.16 L551.42,427.19 L551.75,428.04 L552.08,428.17 L552.41,427.99 L552.74,428.54 L553.07,427.57 L553.40,428.03 L553.73,429.10 L554.06,427.64 L554.39,427.54 L554.72,427.63 L555.05,427.98 L555.38,427.26 L555.71,427.49 L556.04,426.58 L556.37,427.01 L556.70,427.03 L557.03,426.95 L557.36,427.38 L557.69,428.07 L558.02,427.42 L558.35,426.86 L558.68,427.80 L559.01,427.76 L559.34,426.82 L559.67,427.76 L560.00,427.03 L560.33,427.29 L560.66,427.23 L560.99,428.17 L561.32,427.19 L561.65,427.45 L561.98,426.68 L562.31,428.31 L562.64,428.40 L562.97,427.08 L563.30,428.06 L563.63,427.49 L563.96,428.42 L564.29,428.34 L564.62,427.39 L564.95,427.74 L565.28,427.54 L565.61,427.94 L565.94,428.71 L566.27,427.76 L566.60,427.33 L566.93,429.25 L567.26,427.14 L567.59,427.74 L567.92,424.76 L568.25,426.98 L568.58,428.22 L568.91,428.38 L569.24,427.70 L569.57,427.79 L569.90,427.66 L570.23,426.70 L570.56,427.91 L570.89,427.02 L571.22,427.19 L571.55,428.01 L571.88,428.33 L572.21,427.25 L572.54,428.46 L572.87,428.84 L573.20,427.89 L573.53,427.74 L573.86,427.69 L574.19,427.55 L574.52,427.28 L574.85,428.19 L575.18,428.23 L575.51,427.51 L575.84,427.57 L576.17,427.44 L576.50,427.39 L576.83,427.24 L577.16,426.92 L577.49,426.09 L577.82,427.62 L578.15,427.87 L578.48,428.90 L578.81,427.54 L579.14,428.18 L579.47,427.03 L579.80,427.47 L580.13,428.26 L580.46,424.22 L580.79,426.99 L581.12,426.93 L581.45,428.05 L581.78,427.30 L582.11,428.15 L582.44,428.02 L582.77,427.67 L583.10,427.82 L583.43,428.31 L583.76,427.89 L584.09,427.31 L584.42,428.07 L584.75,427.67 L585.08,427.74 L585.41,428.22 L585.74,428.08 L586.07,428.49 L586.40,427.78 L586.73,427.62 L587.06,427.70 L587.39,428.12 L587.72,427.43 L588.05,427.69 L588.38,427.41 L588.71,427.45 L589.04,427.81 L589.37,429.31 L589.70,427.70 L590.03,428.08 L590.36,427.77 L590.69,427.83 L591.02,427.95 L591.35,429.09 L591.68,427.79 L592.01,428.89 L592.34,427.48 L592.67,427.44 L593.00,427.57 L593.33,427.69 L593.66,427.32 L593.99,428.63 L594.32,428.21 L594.65,428.28 L594.98,427.37 L595.31,426.17 L595.64,427.66 L595.97,429.40 L596.30,427.06 L596.63,428.15 L596.96,428.23 L597.29,427.71 L597.62,427.76 L597.95,427.77 L598.28,428.50 L598.61,427.58 L598.94,427.91 L599.27,425.63 L599.60,427.77 L599.93,427.21 L600.26,427.32 L600.59,427.78 L600.92,427.46 L601.25,424.80 L601.58,428.04 L601.91,428.01 L602.24,427.44 L602.57,428.34 L602.90,426.39 L603.23,427.48 L603.56,423.08 L603.89,429.43 L604.22,427.69 L604.55,427.43 L604.88,428.72 L605.21,428.48 L605.54,427.89 L605.87,428.86 L606.20,427.21 L606.53,427.79 L606.86,427.11 L607.19,428.87 L607.52,428.10 L607.85,429.58 L608.18,428.34 L608.51,428.36 L608.84,427.42 L609.17,427.39 L609.50,427.80 L609.83,428.61 L610.16,427.47 L610.49,426.69 L610.82,428.58 L611.15,428.61 L611.48,427.55 L611.81,428.34 L612.14,428.73 L612.47,428.76 L612.80,427.17 L613.13,427.78 L613.46,427.63 L613.79,428.65 L614.12,428.14 L614.45,427.38 L614.78,428.15 L615.11,428.44 L615.44,427.19 L615.77,424.35 L616.10,427.70 L616.43,427.91 L616.76,427.76 L617.09,427.02 L617.42,427.18 L617.75,428.08 L618.08,428.34 L618.41,427.58 L618.74,428.21 L619.07,429.21 L619.40,427.99 L619.73,427.86 L620.06,427.71 L620.39,428.41 L620.72,428.27 L621.05,428.29 L621.38,427.93 L621.71,428.39 L622.04,428.40 L622.37,428.08 L622.70,428.85 L623.03,427.26 L623.36,428.60 L623.69,428.11 L624.02,424.37 L624.35,429.31 L624.68,428.23 L625.01,428.09 L625.34,428.19 L625.67,429.03 L626.00,429.12 L626.33,428.32 L626.66,428.21 L626.99,429.29 L627.32,428.55 L627.65,427.36 L627.98,427.77 L628.31,427.44 L628.64,428.49 L628.97,427.93 L629.30,429.08 L629.63,427.99 L629.96,429.20 L630.29,427.89 L630.62,429.08 L630.95,428.40 L631.28,429.13 L631.61,429.45 L631.94,429.33 L632.27,428.92 L632.60,427.87 L632.93,427.84 L633.26,426.44 L633.59,429.20 L633.92,429.08 L634.25,428.94 L634.58,427.67 L634.91,429.98 L635.24,427.95 L635.57,428.87 L635.90,427.40 L636.23,428.00 L636.56,429.09 L636.89,428.98 L637.22,427.73 L637.55,428.32 L637.88,429.04 L638.21,427.29 L638.54,428.84 L638.87,427.46 L639.20,428.76 L639.53,428.23 L639.86,428.97 L640.19,427.61 L640.52,428.18 L640.85,428.18 L641.18,427.82 L641.51,428.22 L641.84,427.78 L642.17,428.05 L642.50,428.79 L642.83,428.20 L643.16,429.03 L643.49,428.81 L643.82,428.89 L644.15,427.72 L644.48,428.65 L644.81,429.26 L645.14,428.95 L645.47,429.14 L645.80,428.42 L646.13,427.51 L646.46,428.76 L646.79,428.75 L647.12,425.76 L647.45,427.64 L647.78,428.52 L648.11,428.34 L648.44,425.72 L648.77,429.22 L649.10,426.58 L649.43,427.81 L649.76,427.94 L650.09,428.42 L650.42,428.02 L650.75,429.63 L651.08,427.75 L651.41,428.41 L651.74,428.55 L652.07,427.68 L652.40,427.92 L652.73,428.34 L653.06,428.59 L653.39,428.68 L653.72,428.14 L654.05,428.31 L654.38,428.63 L654.71,429.64 L655.04,427.79 L655.37,428.92 L655.70,429.45 L656.03,427.69 L656.36,429.38 L656.69,429.37 L657.02,428.57 L657.35,429.11 L657.68,429.43 L658.01,428.46 L658.34,426.36 L658.67,427.92 L659.00,428.15 L659.33,428.61 L659.66,428.20 L659.99,429.54 L660.32,428.45 L660.65,427.87 L660.98,429.12 L661.31,429.14 L661.64,428.83 L661.97,428.52 L662.30,428.13 L662.63,428.22 L662.96,429.52 L663.29,428.74 L663.62,428.68 L663.95,428.87 L664.28,428.42 L664.61,428.08 L664.94,428.35 L665.27,428.60 L665.60,427.65 L665.93,427.77 L666.26,427.60 L666.59,428.36 L666.92,428.99 L667.25,427.83 L667.58,427.95 L667.90,427.67 L667.90,436.70 L667.90,436.77 L667.58,436.86 L667.25,436.73 L666.92,436.52 L666.59,436.66 L666.26,436.74 L665.93,436.85 L665.60,436.47 L665.27,436.80 L664.94,436.72 L664.61,436.72 L664.28,436.55 L663.95,436.67 L663.62,437.02 L663.29,436.85 L662.96,436.62 L662.63,436.81 L662.30,436.72 L661.97,436.94 L661.64,436.56 L661.31,436.79 L660.98,436.79 L660.65,436.64 L660.32,436.72 L659.99,436.93 L659.66,436.75 L659.33,436.84 L659.00,436.48 L658.67,436.62 L658.34,436.46 L658.01,436.45 L657.68,436.62 L657.35,436.83 L657.02,436.60 L656.69,436.65 L656.36,437.02 L656.03,436.76 L655.70,436.65 L655.37,436.57 L655.04,436.93 L654.71,436.57 L654.38,436.63 L654.05,436.54 L653.72,436.57 L653.39,436.47 L653.06,436.44 L652.73,436.48 L652.40,436.85 L652.07,436.59 L651.74,436.61 L651.41,436.69 L651.08,436.61 L650.75,436.45 L650.42,436.73 L650.09,436.67 L649.76,436.94 L649.43,436.75 L649.10,436.83 L648.77,436.49 L648.44,436.99 L648.11,436.64 L647.78,436.69 L647.45,437.15 L647.12,436.88 L646.79,436.74 L646.46,436.60 L646.13,436.47 L645.80,436.61 L645.47,436.59 L645.14,436.77 L644.81,436.63 L644.48,436.71 L644.15,436.73 L643.82,436.65 L643.49,436.76 L643.16,436.65 L642.83,436.69 L642.50,436.95 L642.17,436.76 L641.84,436.61 L641.51,436.68 L641.18,436.81 L640.85,436.79 L640.52,436.68 L640.19,436.82 L639.86,436.79 L639.53,436.75 L639.20,436.78 L638.87,436.66 L638.54,436.82 L638.21,436.58 L637.88,436.70 L637.55,436.77 L637.22,437.08 L636.89,436.58 L636.56,436.54 L636.23,436.94 L635.90,436.90 L635.57,436.58 L635.24,436.86 L634.91,436.82 L634.58,436.59 L634.25,436.84 L633.92,436.74 L633.59,436.78 L633.26,436.57 L632.93,436.66 L632.60,436.67 L632.27,436.67 L631.94,436.81 L631.61,436.49 L631.28,436.87 L630.95,436.58 L630.62,436.91 L630.29,436.59 L629.96,436.84 L629.63,436.89 L629.30,436.75 L628.97,436.56 L628.64,436.84 L628.31,436.73 L627.98,436.60 L627.65,436.72 L627.32,436.62 L626.99,436.62 L626.66,436.63 L626.33,436.96 L626.00,436.84 L625.67,436.59 L625.34,436.78 L625.01,436.61 L624.68,436.65 L624.35,436.79 L624.02,436.61 L623.69,436.76 L623.36,436.90 L623.03,436.60 L622.70,436.60 L622.37,437.00 L622.04,436.71 L621.71,436.49 L621.38,436.70 L621.05,436.77 L620.72,436.56 L620.39,436.62 L620.06,436.85 L619.73,436.59 L619.40,437.04 L619.07,436.85 L618.74,436.74 L618.41,436.64 L618.08,436.50 L617.75,436.72 L617.42,436.61 L617.09,436.65 L616.76,436.84 L616.43,436.33 L616.10,436.60 L615.77,436.52 L615.44,436.78 L615.11,436.93 L614.78,436.96 L614.45,436.66 L614.12,436.86 L613.79,436.66 L613.46,436.90 L613.13,436.72 L612.80,436.76 L612.47,436.72 L612.14,436.67 L611.81,436.83 L611.48,436.73 L611.15,436.91 L610.82,436.80 L610.49,436.49 L610.16,436.74 L609.83,436.61 L609.50,436.50 L609.17,436.85 L608.84,436.69 L608.51,436.63 L608.18,436.68 L607.85,436.57 L607.52,436.57 L607.19,436.69 L606.86,436.89 L606.53,436.59 L606.20,436.61 L605.87,436.47 L605.54,436.65 L605.21,437.02 L604.88,436.64 L604.55,436.80 L604.22,436.77 L603.89,436.76 L603.56,436.36 L603.23,436.90 L602.90,436.51 L602.57,436.62 L602.24,436.54 L601.91,436.69 L601.58,436.75 L601.25,436.95 L600.92,436.79 L600.59,436.78 L600.26,436.58 L599.93,436.75 L599.60,436.63 L599.27,436.66 L598.94,436.70 L598.61,436.47 L598.28,436.80 L597.95,436.63 L597.62,436.51 L597.29,436.67 L596.96,436.93 L596.63,436.66 L596.30,436.50 L595.97,436.32 L595.64,436.82 L595.31,436.64 L594.98,436.84 L594.65,436.57 L594.32,437.05 L593.99,436.68 L593.66,436.59 L593.33,436.77 L593.00,436.73 L592.67,436.51 L592.34,436.80 L592.01,436.62 L591.68,436.93 L591.35,436.86 L591.02,436.86 L590.69,436.69 L590.36,436.73 L590.03,436.38 L589.70,436.56 L589.37,436.70 L589.04,436.71 L588.71,436.74 L588.38,436.65 L588.05,436.69 L587.72,436.94 L587.39,436.87 L587.06,436.58 L586.73,436.56 L586.40,436.81 L586.07,436.64 L585.74,436.65 L585.41,436.49 L585.08,436.80 L584.75,436.37 L584.42,436.75 L584.09,436.58 L583.76,436.59 L583.43,436.58 L583.10,436.84 L582.77,436.91 L582.44,436.49 L582.11,436.96 L581.78,436.73 L581.45,436.50 L581.12,436.78 L580.79,436.67 L580.46,436.46 L580.13,436.85 L579.80,436.79 L579.47,436.87 L579.14,436.63 L578.81,436.85 L578.48,436.81 L578.15,436.46 L577.82,436.78 L577.49,436.84 L577.16,436.81 L576.83,436.52 L576.50,436.76 L576.17,436.87 L575.84,436.58 L575.51,436.77 L575.18,436.92 L574.85,436.90 L574.52,436.57 L574.19,436.74 L573.86,436.62 L573.53,436.78 L573.20,436.57 L572.87,436.86 L572.54,436.85 L572.21,436.84 L571.88,436.72 L571.55,436.70 L571.22,436.53 L570.89,436.53 L570.56,436.74 L570.23,437.05 L569.90,436.69 L569.57,436.78 L569.24,436.72 L568.91,436.68 L568.58,436.76 L568.25,437.01 L567.92,436.58 L567.59,436.15 L567.26,436.50 L566.93,436.90 L566.60,436.80 L566.27,436.87 L565.94,436.64 L565.61,436.88 L565.28,436.74 L564.95,436.61 L564.62,436.81 L564.29,436.60 L563.96,436.82 L563.63,436.75 L563.30,436.75 L562.97,436.84 L562.64,436.77 L562.31,436.65 L561.98,436.79 L561.65,436.86 L561.32,436.62 L560.99,436.71 L560.66,436.71 L560.33,436.71 L560.00,436.62 L559.67,436.82 L559.34,436.82 L559.01,436.78 L558.68,436.47 L558.35,436.68 L558.02,436.79 L557.69,436.88 L557.36,436.62 L557.03,436.94 L556.70,436.95 L556.37,436.56 L556.04,436.73 L555.71,436.44 L555.38,436.60 L555.05,436.79 L554.72,436.79 L554.39,436.90 L554.06,436.47 L553.73,436.64 L553.40,436.68 L553.07,436.63 L552.74,436.76 L552.41,436.72 L552.08,436.72 L551.75,436.73 L551.42,436.54 L551.09,436.80 L550.76,436.69 L550.43,436.58 L550.10,436.68 L549.77,436.55 L549.44,436.81 L549.11,436.62 L548.78,436.71 L548.45,437.01 L548.12,436.97 L547.79,436.96 L547.46,436.67 L547.13,436.64 L546.80,436.51 L546.47,436.65 L546.14,436.32 L545.81,436.61 L545.48,436.47 L545.15,436.57 L544.82,436.66 L544.49,436.63 L544.16,436.56 L543.83,436.77 L543.50,436.78 L543.17,436.72 L542.84,436.65 L542.51,436.71 L542.18,436.92 L541.85,436.73 L541.52,436.75 L541.19,436.72 L540.86,436.77 L540.53,436.62 L540.20,436.69 L539.87,436.61 L539.54,436.98 L539.21,436.82 L538.88,437.02 L538.55,437.04 L538.22,436.60 L537.89,436.94 L537.56,436.42 L537.23,436.83 L536.90,436.93 L536.57,436.78 L536.24,436.61 L535.91,436.75 L535.58,436.80 L535.25,436.77 L534.92,436.91 L534.59,436.84 L534.26,436.79 L533.93,436.73 L533.60,436.66 L533.27,436.71 L532.94,436.96 L532.61,436.91 L532.28,436.80 L531.95,436.45 L531.62,436.51 L531.29,436.77 L530.96,436.35 L530.63,436.90 L530.30,436.79 L529.97,436.50 L529.64,436.65 L529.31,436.94 L528.98,436.67 L528.65,436.59 L528.32,436.53 L527.99,436.61 L527.66,436.59 L527.33,436.59 L527.00,436.82 L526.67,436.56 L526.34,436.96 L526.01,436.75 L525.68,436.91 L525.35,436.61 L525.02,436.96 L524.69,436.54 L524.36,436.64 L524.03,436.59 L523.70,436.72 L523.37,436.81 L523.04,436.69 L522.71,436.64 L522.38,436.58 L522.05,436.72 L521.72,436.79 L521.39,436.79 L521.06,436.45 L520.73,436.56 L520.40,436.71 L520.07,436.76 L519.74,436.73 L519.41,436.55 L519.08,436.77 L518.75,436.79 L518.42,436.88 L518.09,436.74 L517.76,436.72 L517.43,436.83 L517.10,436.86Z" fill="#7cc4ec"/>
<path d="M509.3,436.7 L509.54,434.8 L509.78,432.84 L510.02,430.81 L510.26,428.66 L510.5,426.42 L510.74,424.15 L510.98,421.92 L511.23,419.78 L511.47,417.6 L511.71,415.39 L511.95,413.34 L512.19,411.63 L512.43,410.35 L512.67,409.15 L512.91,408.19 L513.15,407.72 L513.39,407.89 L513.63,408.57 L513.87,409.53 L514.11,410.55 L514.35,411.84 L514.59,413.44 L514.83,415.05 L515.08,416.36 L515.32,417.37 L515.56,418.32 L515.8,419.48 L516.04,420.91 L516.28,422.71 L516.52,425.24 L516.76,429.97 L517,436.7" stroke="#7cc4ec" stroke-width="1.3" fill="none" stroke-linejoin="round"/>
<path d="M392.80,422.00 L392.80,409.13 L393.13,408.93 L393.46,408.77 L393.79,407.41 L394.12,409.06 L394.45,407.53 L394.78,409.35 L395.11,409.17 L395.44,409.30 L395.77,409.30 L396.10,408.99 L396.43,408.49 L396.76,408.62 L397.09,409.71 L397.42,408.46 L397.75,408.67 L398.08,408.38 L398.41,408.50 L398.74,408.63 L399.07,408.97 L399.40,408.64 L399.73,408.60 L400.06,405.45 L400.39,408.87 L400.72,408.01 L401.05,408.85 L401.38,409.60 L401.71,408.36 L402.04,408.79 L402.37,410.51 L402.70,408.22 L403.03,407.85 L403.36,408.57 L403.69,409.91 L404.02,410.04 L404.35,408.09 L404.68,409.17 L405.01,408.83 L405.34,408.47 L405.67,407.66 L406.00,409.44 L406.33,408.31 L406.66,409.01 L406.99,408.88 L407.32,407.77 L407.65,406.50 L407.98,408.14 L408.31,408.67 L408.64,409.45 L408.97,408.03 L409.30,408.60 L409.63,408.97 L409.96,407.87 L410.29,408.09 L410.62,407.81 L410.95,409.01 L411.28,408.50 L411.61,409.40 L411.94,408.91 L412.27,409.18 L412.60,408.79 L412.93,409.29 L413.26,408.78 L413.59,408.25 L413.92,409.55 L414.25,409.43 L414.58,410.20 L414.91,408.76 L415.24,408.50 L415.57,405.76 L415.90,406.53 L416.23,408.06 L416.56,409.14 L416.89,408.32 L417.22,407.29 L417.55,409.22 L417.88,408.50 L418.21,406.30 L418.54,408.59 L418.87,408.77 L419.20,409.14 L419.53,407.81 L419.86,408.72 L420.19,408.55 L420.52,409.54 L420.85,408.24 L421.18,409.84 L421.51,409.22 L421.84,409.83 L422.17,408.44 L422.50,409.34 L422.83,409.08 L423.16,407.96 L423.49,408.71 L423.82,408.59 L424.15,408.28 L424.48,408.40 L424.81,408.00 L425.14,408.59 L425.47,409.07 L425.80,408.40 L426.13,407.93 L426.46,409.50 L426.79,408.65 L427.12,407.38 L427.45,408.73 L427.78,405.44 L428.11,409.23 L428.44,408.56 L428.77,408.89 L429.10,408.01 L429.43,407.89 L429.76,408.64 L430.09,410.02 L430.42,408.99 L430.75,410.04 L431.08,409.15 L431.41,409.15 L431.74,408.53 L432.07,408.87 L432.40,409.96 L432.73,409.59 L433.06,408.51 L433.39,408.60 L433.72,409.69 L434.05,408.58 L434.38,409.44 L434.71,408.34 L435.04,409.26 L435.37,409.80 L435.70,409.39 L436.03,409.03 L436.36,408.97 L436.69,408.84 L437.02,408.88 L437.35,409.60 L437.68,409.58 L438.01,409.14 L438.34,408.14 L438.67,408.58 L439.00,409.07 L439.33,408.93 L439.66,408.08 L439.99,409.30 L440.32,410.46 L440.65,408.16 L440.98,408.94 L441.31,409.10 L441.64,408.65 L441.97,408.66 L442.30,409.00 L442.63,409.24 L442.96,408.66 L443.29,409.49 L443.62,407.76 L443.95,409.30 L444.28,409.13 L444.61,408.81 L444.94,409.14 L445.27,408.94 L445.60,409.71 L445.93,408.63 L446.26,408.89 L446.59,408.08 L446.92,408.24 L447.25,407.01 L447.58,407.98 L447.91,407.65 L448.24,408.12 L448.57,408.62 L448.90,408.99 L449.23,409.48 L449.56,407.75 L449.89,408.80 L450.22,409.44 L450.55,409.75 L450.88,409.76 L451.21,408.06 L451.54,408.61 L451.87,409.26 L452.20,409.49 L452.53,409.09 L452.86,409.08 L453.19,409.07 L453.52,408.46 L453.85,409.02 L454.18,409.41 L454.51,408.72 L454.84,409.63 L455.17,407.22 L455.50,408.73 L455.83,409.95 L456.16,409.45 L456.49,409.80 L456.82,409.02 L457.15,408.22 L457.48,408.63 L457.81,409.85 L458.14,407.83 L458.47,408.36 L458.80,407.91 L459.13,408.62 L459.46,408.68 L459.79,409.29 L460.12,408.44 L460.45,409.97 L460.78,409.33 L461.11,408.66 L461.44,408.35 L461.77,408.04 L462.10,409.02 L462.43,410.13 L462.76,408.64 L463.09,408.33 L463.42,408.91 L463.75,408.64 L464.08,408.41 L464.41,407.81 L464.74,408.92 L465.07,409.84 L465.40,409.58 L465.73,409.54 L466.06,409.08 L466.39,409.24 L466.72,409.56 L467.05,408.92 L467.38,409.13 L467.71,408.72 L468.04,409.64 L468.37,408.40 L468.70,409.37 L469.03,409.48 L469.36,409.47 L469.69,409.39 L470.02,408.69 L470.35,408.63 L470.68,408.72 L471.01,408.74 L471.34,408.29 L471.67,408.70 L472.00,408.59 L472.33,408.40 L472.66,409.19 L472.99,408.52 L473.32,409.12 L473.65,409.86 L473.98,409.99 L474.31,408.99 L474.64,409.59 L474.97,409.13 L475.30,410.42 L475.63,409.97 L475.96,409.65 L476.29,408.89 L476.62,408.83 L476.95,409.31 L477.28,408.97 L477.61,408.84 L477.94,409.40 L478.27,408.24 L478.60,407.78 L478.93,408.38 L479.26,408.29 L479.59,408.94 L479.92,408.46 L480.25,408.87 L480.58,407.77 L480.91,409.88 L481.24,409.23 L481.57,408.47 L481.90,409.18 L482.23,409.73 L482.56,409.50 L482.89,408.94 L483.22,409.36 L483.55,409.53 L483.88,408.27 L484.21,408.13 L484.54,408.64 L484.87,409.59 L485.20,409.89 L485.53,409.08 L485.86,407.34 L486.19,409.60 L486.52,408.96 L486.85,408.55 L487.18,408.61 L487.51,409.05 L487.84,409.85 L488.17,409.51 L488.50,408.22 L488.83,408.26 L489.16,409.50 L489.49,409.12 L489.82,408.44 L490.10,409.42 L490.10,422.00 L490.10,421.70 L489.82,421.90 L489.49,422.00 L489.16,422.07 L488.83,421.93 L488.50,421.99 L488.17,421.63 L487.84,422.01 L487.51,421.98 L487.18,422.55 L486.85,422.08 L486.52,422.20 L486.19,421.93 L485.86,421.81 L485.53,421.99 L485.20,421.77 L484.87,421.71 L484.54,421.95 L484.21,421.70 L483.88,422.18 L483.55,421.99 L483.22,422.09 L482.89,422.05 L482.56,422.00 L482.23,422.20 L481.90,422.02 L481.57,421.89 L481.24,422.07 L480.91,421.82 L480.58,422.18 L480.25,421.98 L479.92,421.73 L479.59,421.96 L479.26,421.94 L478.93,422.02 L478.60,421.97 L478.27,421.66 L477.94,422.08 L477.61,422.02 L477.28,422.08 L476.95,421.83 L476.62,421.85 L476.29,422.01 L475.96,422.13 L475.63,422.11 L475.30,422.25 L474.97,422.16 L474.64,422.18 L474.31,422.04 L473.98,422.03 L473.65,422.07 L473.32,422.06 L472.99,421.82 L472.66,421.98 L472.33,422.01 L472.00,421.98 L471.67,422.03 L471.34,421.91 L471.01,421.99 L470.68,422.04 L470.35,422.14 L470.02,421.95 L469.69,421.99 L469.36,421.77 L469.03,422.22 L468.70,422.25 L468.37,422.03 L468.04,421.83 L467.71,422.07 L467.38,421.99 L467.05,422.11 L466.72,422.16 L466.39,422.09 L466.06,421.81 L465.73,422.06 L465.40,421.81 L465.07,421.83 L464.74,421.85 L464.41,422.12 L464.08,421.96 L463.75,422.05 L463.42,422.17 L463.09,422.26 L462.76,422.06 L462.43,421.79 L462.10,422.04 L461.77,421.85 L461.44,422.03 L461.11,422.05 L460.78,422.09 L460.45,421.99 L460.12,422.28 L459.79,422.14 L459.46,422.29 L459.13,422.00 L458.80,422.10 L458.47,422.17 L458.14,422.02 L457.81,422.01 L457.48,421.97 L457.15,421.93 L456.82,422.21 L456.49,422.23 L456.16,422.10 L455.83,421.89 L455.50,421.89 L455.17,421.75 L454.84,422.00 L454.51,421.70 L454.18,421.99 L453.85,421.90 L453.52,421.91 L453.19,422.01 L452.86,421.97 L452.53,422.06 L452.20,422.31 L451.87,421.96 L451.54,422.04 L451.21,421.58 L450.88,422.05 L450.55,421.93 L450.22,421.91 L449.89,421.99 L449.56,422.17 L449.23,422.23 L448.90,421.98 L448.57,422.02 L448.24,422.02 L447.91,421.86 L447.58,421.96 L447.25,422.01 L446.92,422.22 L446.59,421.84 L446.26,422.07 L445.93,422.03 L445.60,422.12 L445.27,421.81 L444.94,421.73 L444.61,422.12 L444.28,422.03 L443.95,421.99 L443.62,421.97 L443.29,422.03 L442.96,421.95 L442.63,421.58 L442.30,421.76 L441.97,421.80 L441.64,422.01 L441.31,422.11 L440.98,422.33 L440.65,421.92 L440.32,421.99 L439.99,422.11 L439.66,422.14 L439.33,421.93 L439.00,421.95 L438.67,422.00 L438.34,421.98 L438.01,421.63 L437.68,421.87 L437.35,422.14 L437.02,422.17 L436.69,422.21 L436.36,422.28 L436.03,421.68 L435.70,421.99 L435.37,421.99 L435.04,421.85 L434.71,422.15 L434.38,422.05 L434.05,421.82 L433.72,421.94 L433.39,422.01 L433.06,421.96 L432.73,422.04 L432.40,421.95 L432.07,422.19 L431.74,422.03 L431.41,422.01 L431.08,421.93 L430.75,422.00 L430.42,421.87 L430.09,421.85 L429.76,421.82 L429.43,421.60 L429.10,422.12 L428.77,421.97 L428.44,421.79 L428.11,421.94 L427.78,422.00 L427.45,422.17 L427.12,421.94 L426.79,422.00 L426.46,422.01 L426.13,422.28 L425.80,422.08 L425.47,422.13 L425.14,422.07 L424.81,422.04 L424.48,421.89 L424.15,421.96 L423.82,421.95 L423.49,422.17 L423.16,422.04 L422.83,421.93 L422.50,422.10 L422.17,421.90 L421.84,421.94 L421.51,422.20 L421.18,421.99 L420.85,422.01 L420.52,421.98 L420.19,421.72 L419.86,421.59 L419.53,422.06 L419.20,421.83 L418.87,421.98 L418.54,421.76 L418.21,421.90 L417.88,422.08 L417.55,421.85 L417.22,421.95 L416.89,421.94 L416.56,421.79 L416.23,421.99 L415.90,422.10 L415.57,422.09 L415.24,422.03 L414.91,422.22 L414.58,422.02 L414.25,422.09 L413.92,421.99 L413.59,421.81 L413.26,421.67 L412.93,422.05 L412.60,421.83 L412.27,421.82 L411.94,421.98 L411.61,421.92 L411.28,421.89 L410.95,421.74 L410.62,421.74 L410.29,422.14 L409.96,422.10 L409.63,422.16 L409.30,421.82 L408.97,422.08 L408.64,422.16 L408.31,422.07 L407.98,421.94 L407.65,421.83 L407.32,421.82 L406.99,422.18 L406.66,422.00 L406.33,421.88 L406.00,422.05 L405.67,422.03 L405.34,421.74 L405.01,422.25 L404.68,421.88 L404.35,422.04 L404.02,422.06 L403.69,421.88 L403.36,422.01 L403.03,422.20 L402.70,421.90 L402.37,422.16 L402.04,422.03 L401.71,422.06 L401.38,422.09 L401.05,421.84 L400.72,421.79 L400.39,421.90 L400.06,422.11 L399.73,422.20 L399.40,421.73 L399.07,421.90 L398.74,421.97 L398.41,421.96 L398.08,421.97 L397.75,421.78 L397.42,421.81 L397.09,421.89 L396.76,422.07 L396.43,421.68 L396.10,421.94 L395.77,421.97 L395.44,422.35 L395.11,422.24 L394.78,421.66 L394.45,421.93 L394.12,421.81 L393.79,421.80 L393.46,422.12 L393.13,421.86 L392.80,422.08Z" fill="#ff976e"/>
<path d="M538.00,422.00 L538.00,410.21 L538.33,409.61 L538.66,408.70 L538.99,409.29 L539.32,409.20 L539.65,409.27 L539.98,409.76 L540.31,408.64 L540.64,409.98 L540.97,408.73 L541.30,409.29 L541.63,409.94 L541.96,409.80 L542.29,408.99 L542.62,410.47 L542.95,409.63 L543.28,408.84 L543.61,409.43 L543.94,408.91 L544.27,409.67 L544.60,408.61 L544.93,409.70 L545.26,408.35 L545.59,410.07 L545.92,409.58 L546.25,410.23 L546.58,408.99 L546.91,408.16 L547.24,408.59 L547.57,409.27 L547.90,410.59 L548.23,409.76 L548.56,410.20 L548.89,408.89 L549.22,409.10 L549.55,409.22 L549.88,410.12 L550.21,409.08 L550.54,409.24 L550.87,410.39 L551.20,408.90 L551.53,409.40 L551.86,408.61 L552.19,409.28 L552.52,409.92 L552.85,410.14 L553.18,408.59 L553.51,407.91 L553.84,409.75 L554.17,410.43 L554.50,409.00 L554.83,409.58 L555.16,409.44 L555.49,408.13 L555.82,407.83 L556.15,409.39 L556.48,409.72 L556.81,408.52 L557.14,407.90 L557.47,408.95 L557.80,408.85 L558.13,408.66 L558.46,410.13 L558.79,409.44 L559.12,409.29 L559.45,409.14 L559.78,409.66 L560.11,409.13 L560.44,409.52 L560.77,408.96 L561.10,409.63 L561.43,409.24 L561.76,409.76 L562.09,408.48 L562.42,408.94 L562.75,408.67 L563.08,410.35 L563.41,409.04 L563.74,409.37 L564.07,406.31 L564.40,407.88 L564.73,408.37 L565.06,409.32 L565.39,408.81 L565.72,410.31 L566.05,408.86 L566.38,409.99 L566.71,409.30 L567.04,409.69 L567.37,408.83 L567.70,409.35 L568.03,409.29 L568.36,408.91 L568.69,409.72 L569.02,406.46 L569.35,409.28 L569.68,409.26 L570.01,409.44 L570.34,408.70 L570.67,409.79 L571.00,408.85 L571.33,409.03 L571.66,408.81 L571.99,409.16 L572.32,409.62 L572.65,411.13 L572.98,407.80 L573.31,409.94 L573.64,409.93 L573.97,410.28 L574.30,409.56 L574.63,409.69 L574.96,410.48 L575.29,409.48 L575.62,409.53 L575.95,409.42 L576.28,409.69 L576.61,410.49 L576.94,408.89 L577.27,410.13 L577.60,405.46 L577.93,407.95 L578.26,409.18 L578.59,410.20 L578.92,409.92 L579.25,409.90 L579.58,409.77 L579.91,409.63 L580.24,408.21 L580.57,409.61 L580.90,408.61 L581.23,410.06 L581.56,409.02 L581.89,409.43 L582.22,409.12 L582.55,409.47 L582.88,409.53 L583.21,409.73 L583.54,408.67 L583.87,410.35 L584.20,408.77 L584.53,409.31 L584.86,407.79 L585.19,409.58 L585.52,409.99 L585.85,410.13 L586.18,409.72 L586.51,407.54 L586.84,409.01 L587.17,409.16 L587.50,409.29 L587.83,409.50 L588.16,408.76 L588.49,409.19 L588.82,409.73 L589.15,409.51 L589.48,409.33 L589.81,408.92 L590.14,407.90 L590.47,409.52 L590.80,410.31 L591.13,409.42 L591.46,410.00 L591.79,408.62 L592.12,410.48 L592.45,408.59 L592.78,409.36 L593.11,409.19 L593.44,409.05 L593.77,409.21 L594.10,409.07 L594.43,409.46 L594.76,409.56 L595.09,410.08 L595.42,410.14 L595.75,410.45 L596.08,409.68 L596.41,408.92 L596.74,410.80 L597.07,409.74 L597.40,407.89 L597.73,409.87 L598.06,409.32 L598.39,408.98 L598.72,409.05 L599.05,408.75 L599.38,408.83 L599.71,409.55 L600.04,409.31 L600.37,406.82 L600.70,409.68 L601.03,409.61 L601.36,410.38 L601.69,409.71 L602.02,408.85 L602.35,408.66 L602.68,410.45 L603.01,410.45 L603.34,408.95 L603.67,409.84 L604.00,409.16 L604.33,409.28 L604.66,408.52 L604.99,408.46 L605.32,409.26 L605.65,409.58 L605.98,409.73 L606.31,408.92 L606.64,409.29 L606.97,409.51 L607.30,409.34 L607.63,407.76 L607.96,408.80 L608.29,405.84 L608.62,409.78 L608.95,408.88 L609.28,410.05 L609.61,407.65 L609.94,410.19 L610.27,409.00 L610.60,409.43 L610.93,408.86 L611.26,408.71 L611.59,409.23 L611.92,409.45 L612.25,408.74 L612.58,409.90 L612.91,409.16 L613.24,409.48 L613.57,408.99 L613.90,409.02 L614.23,409.40 L614.56,408.60 L614.89,409.83 L615.22,408.65 L615.55,409.66 L615.88,408.73 L616.21,409.28 L616.54,408.99 L616.87,410.15 L617.20,410.45 L617.53,409.16 L617.86,409.69 L618.19,409.56 L618.52,409.87 L618.85,410.06 L619.18,410.53 L619.51,409.49 L619.84,408.35 L620.17,409.85 L620.50,409.21 L620.83,409.35 L621.16,410.19 L621.49,410.38 L621.82,409.51 L622.15,410.21 L622.48,409.72 L622.81,409.95 L623.14,409.39 L623.47,409.69 L623.80,409.10 L624.13,409.50 L624.46,410.02 L624.79,408.88 L625.12,409.69 L625.45,409.74 L625.78,409.96 L626.11,410.51 L626.44,408.20 L626.77,410.05 L627.10,409.69 L627.43,410.18 L627.76,409.89 L628.09,409.08 L628.42,409.14 L628.75,408.88 L629.08,410.22 L629.41,409.10 L629.74,409.67 L630.07,409.33 L630.40,408.24 L630.73,409.27 L631.06,409.36 L631.39,410.34 L631.72,409.33 L632.05,408.79 L632.38,409.13 L632.71,409.96 L633.04,409.83 L633.37,409.80 L633.70,409.88 L634.03,408.99 L634.36,410.03 L634.69,409.69 L635.02,408.22 L635.35,409.12 L635.68,410.27 L636.01,407.16 L636.34,409.26 L636.67,409.52 L637.00,409.42 L637.33,409.48 L637.66,409.84 L637.99,409.05 L638.32,408.62 L638.65,409.50 L638.98,409.47 L639.31,410.11 L639.64,410.78 L639.97,409.83 L640.30,410.06 L640.63,410.57 L640.96,410.03 L641.29,409.96 L641.62,408.99 L641.95,409.31 L642.28,409.09 L642.61,409.33 L642.94,410.18 L643.27,409.96 L643.60,409.57 L643.93,408.25 L644.26,409.90 L644.59,409.88 L644.92,408.85 L645.25,409.05 L645.58,408.88 L645.91,409.93 L646.24,408.30 L646.57,408.76 L646.90,410.33 L647.23,408.91 L647.56,409.05 L647.89,409.26 L648.22,409.68 L648.55,410.33 L648.88,409.49 L649.21,410.10 L649.54,409.80 L649.87,409.20 L650.20,410.53 L650.53,410.18 L650.86,409.33 L651.19,409.44 L651.52,408.93 L651.85,408.50 L652.18,409.47 L652.51,410.21 L652.84,407.80 L653.17,409.18 L653.50,410.82 L653.83,410.55 L654.16,409.03 L654.49,409.18 L654.82,410.44 L655.15,408.97 L655.48,405.73 L655.81,409.10 L656.14,409.89 L656.47,409.75 L656.80,410.72 L657.13,409.00 L657.46,408.63 L657.79,409.41 L658.12,409.79 L658.45,409.43 L658.78,411.15 L659.11,409.31 L659.44,409.48 L659.77,410.18 L660.10,410.68 L660.43,409.74 L660.76,410.04 L661.09,406.08 L661.42,409.02 L661.75,409.81 L662.08,410.10 L662.41,409.97 L662.74,409.96 L663.07,410.14 L663.40,409.62 L663.73,409.44 L664.06,409.49 L664.39,408.85 L664.72,409.23 L665.05,409.17 L665.38,410.03 L665.71,411.17 L666.04,410.14 L666.37,410.91 L666.70,409.16 L667.03,409.45 L667.36,409.60 L667.69,410.43 L667.90,410.95 L667.90,422.00 L667.90,422.06 L667.69,422.18 L667.36,421.86 L667.03,421.76 L666.70,421.86 L666.37,422.11 L666.04,422.02 L665.71,421.84 L665.38,422.19 L665.05,421.85 L664.72,422.09 L664.39,422.39 L664.06,421.99 L663.73,421.77 L663.40,422.23 L663.07,422.05 L662.74,422.06 L662.41,421.74 L662.08,421.90 L661.75,422.04 L661.42,422.13 L661.09,422.10 L660.76,421.85 L660.43,421.91 L660.10,422.21 L659.77,421.99 L659.44,422.07 L659.11,422.01 L658.78,421.98 L658.45,421.81 L658.12,422.04 L657.79,421.97 L657.46,421.73 L657.13,422.36 L656.80,421.99 L656.47,422.29 L656.14,421.96 L655.81,421.89 L655.48,422.01 L655.15,422.15 L654.82,422.08 L654.49,422.03 L654.16,422.02 L653.83,422.28 L653.50,422.10 L653.17,422.14 L652.84,421.88 L652.51,422.03 L652.18,422.14 L651.85,421.86 L651.52,421.94 L651.19,422.01 L650.86,422.00 L650.53,422.01 L650.20,421.89 L649.87,421.73 L649.54,422.00 L649.21,421.91 L648.88,421.92 L648.55,421.92 L648.22,421.99 L647.89,421.95 L647.56,422.17 L647.23,421.96 L646.90,421.95 L646.57,421.83 L646.24,422.10 L645.91,421.92 L645.58,421.92 L645.25,422.02 L644.92,421.82 L644.59,422.19 L644.26,422.11 L643.93,422.06 L643.60,422.00 L643.27,422.02 L642.94,421.96 L642.61,421.98 L642.28,421.99 L641.95,421.89 L641.62,421.86 L641.29,422.02 L640.96,422.12 L640.63,421.91 L640.30,421.75 L639.97,421.92 L639.64,422.17 L639.31,421.97 L638.98,422.12 L638.65,421.79 L638.32,422.17 L637.99,422.17 L637.66,421.78 L637.33,422.19 L637.00,421.94 L636.67,421.96 L636.34,422.11 L636.01,422.04 L635.68,422.10 L635.35,421.96 L635.02,422.01 L634.69,421.88 L634.36,422.07 L634.03,421.99 L633.70,421.97 L633.37,421.95 L633.04,422.05 L632.71,422.12 L632.38,422.14 L632.05,421.84 L631.72,422.11 L631.39,422.09 L631.06,422.06 L630.73,422.10 L630.40,422.04 L630.07,421.95 L629.74,421.77 L629.41,421.81 L629.08,422.27 L628.75,422.02 L628.42,422.15 L628.09,421.89 L627.76,422.06 L627.43,421.92 L627.10,421.87 L626.77,422.07 L626.44,422.03 L626.11,422.16 L625.78,422.03 L625.45,421.90 L625.12,421.98 L624.79,422.10 L624.46,422.10 L624.13,421.75 L623.80,421.73 L623.47,421.91 L623.14,422.22 L622.81,422.10 L622.48,421.94 L622.15,421.84 L621.82,421.99 L621.49,422.09 L621.16,421.98 L620.83,422.16 L620.50,422.12 L620.17,421.90 L619.84,422.14 L619.51,421.80 L619.18,421.94 L618.85,422.00 L618.52,421.84 L618.19,422.05 L617.86,421.74 L617.53,421.87 L617.20,422.03 L616.87,422.06 L616.54,421.91 L616.21,421.99 L615.88,421.90 L615.55,421.86 L615.22,422.07 L614.89,422.07 L614.56,422.03 L614.23,421.81 L613.90,421.91 L613.57,421.97 L613.24,422.17 L612.91,421.77 L612.58,421.90 L612.25,422.00 L611.92,421.77 L611.59,422.24 L611.26,421.76 L610.93,422.32 L610.60,422.11 L610.27,421.92 L609.94,422.11 L609.61,422.07 L609.28,422.19 L608.95,421.70 L608.62,422.02 L608.29,421.99 L607.96,422.05 L607.63,422.08 L607.30,421.84 L606.97,421.99 L606.64,422.21 L606.31,421.97 L605.98,422.19 L605.65,421.97 L605.32,421.99 L604.99,422.22 L604.66,422.02 L604.33,422.05 L604.00,421.93 L603.67,422.19 L603.34,421.93 L603.01,422.05 L602.68,422.04 L602.35,421.99 L602.02,421.84 L601.69,422.07 L601.36,421.90 L601.03,422.07 L600.70,422.08 L600.37,422.09 L600.04,422.24 L599.71,421.93 L599.38,422.12 L599.05,422.06 L598.72,422.06 L598.39,421.84 L598.06,421.94 L597.73,422.28 L597.40,422.00 L597.07,422.13 L596.74,422.06 L596.41,422.00 L596.08,422.10 L595.75,422.13 L595.42,421.97 L595.09,422.00 L594.76,421.84 L594.43,421.95 L594.10,421.75 L593.77,421.85 L593.44,422.04 L593.11,421.63 L592.78,422.24 L592.45,422.12 L592.12,421.94 L591.79,421.87 L591.46,422.30 L591.13,422.13 L590.80,422.15 L590.47,421.87 L590.14,422.06 L589.81,422.28 L589.48,422.00 L589.15,421.93 L588.82,422.12 L588.49,422.02 L588.16,421.79 L587.83,422.09 L587.50,422.20 L587.17,421.86 L586.84,422.32 L586.51,422.08 L586.18,421.96 L585.85,422.17 L585.52,422.07 L585.19,421.86 L584.86,421.77 L584.53,421.96 L584.20,421.88 L583.87,421.75 L583.54,421.77 L583.21,422.11 L582.88,421.94 L582.55,421.93 L582.22,421.71 L581.89,422.00 L581.56,422.17 L581.23,422.13 L580.90,422.21 L580.57,422.03 L580.24,421.89 L579.91,422.04 L579.58,421.94 L579.25,422.15 L578.92,422.15 L578.59,421.88 L578.26,421.98 L577.93,421.81 L577.60,422.07 L577.27,421.97 L576.94,421.95 L576.61,421.87 L576.28,422.03 L575.95,422.03 L575.62,421.87 L575.29,421.90 L574.96,421.86 L574.63,422.27 L574.30,422.30 L573.97,421.97 L573.64,422.11 L573.31,421.83 L572.98,422.06 L572.65,422.01 L572.32,421.95 L571.99,421.95 L571.66,421.91 L571.33,422.15 L571.00,421.98 L570.67,421.92 L570.34,422.16 L570.01,421.92 L569.68,422.06 L569.35,421.98 L569.02,421.80 L568.69,422.05 L568.36,422.04 L568.03,422.02 L567.70,422.35 L567.37,421.94 L567.04,421.78 L566.71,421.86 L566.38,422.07 L566.05,422.05 L565.72,421.70 L565.39,422.01 L565.06,421.83 L564.73,421.97 L564.40,421.97 L564.07,422.00 L563.74,422.24 L563.41,422.04 L563.08,422.07 L562.75,422.10 L562.42,421.93 L562.09,421.98 L561.76,422.08 L561.43,421.97 L561.10,422.04 L560.77,422.22 L560.44,422.14 L560.11,422.03 L559.78,421.85 L559.45,421.94 L559.12,422.11 L558.79,421.90 L558.46,422.23 L558.13,422.01 L557.80,421.99 L557.47,422.01 L557.14,422.23 L556.81,421.75 L556.48,422.12 L556.15,422.08 L555.82,422.09 L555.49,422.07 L555.16,421.95 L554.83,421.95 L554.50,422.25 L554.17,422.09 L553.84,421.74 L553.51,421.85 L553.18,421.81 L552.85,422.05 L552.52,421.95 L552.19,422.11 L551.86,422.02 L551.53,421.86 L551.20,421.86 L550.87,421.76 L550.54,422.28 L550.21,422.07 L549.88,421.80 L549.55,422.45 L549.22,422.08 L548.89,421.80 L548.56,422.12 L548.23,421.79 L547.90,422.14 L547.57,422.17 L547.24,422.01 L546.91,422.16 L546.58,421.79 L546.25,421.81 L545.92,421.90 L545.59,422.15 L545.26,422.23 L544.93,422.26 L544.60,422.14 L544.27,422.06 L543.94,421.72 L543.61,421.84 L543.28,421.71 L542.95,421.91 L542.62,422.17 L542.29,422.13 L541.96,422.04 L541.63,422.35 L541.30,421.92 L540.97,421.99 L540.64,422.23 L540.31,422.13 L539.98,422.20 L539.65,421.80 L539.32,422.29 L538.99,422.18 L538.66,422.06 L538.33,421.93 L538.00,421.80Z" fill="#ff976e"/>
<path d="M623.70,422.20 L623.70,420.45 L624.05,420.75 L624.40,420.60 L624.75,420.41 L625.10,419.09 L625.45,419.90 L625.80,418.09 L626.15,417.82 L626.50,418.41 L626.85,417.86 L627.20,415.97 L627.55,416.18 L627.90,418.70 L628.25,416.16 L628.60,417.68 L628.95,415.43 L629.30,418.74 L629.65,418.24 L630.00,416.82 L630.35,418.39 L630.70,418.40 L631.05,419.15 L631.40,420.22 L631.75,420.72 L632.10,420.85 L632.45,420.76 L632.45,422.20Z" fill="#fff"/>
<path d="M490.6,412 L491.4,408.5 L492,406.3 L494,402.3 L496.4,401.5 L497.6,403.1 L498.8,407.1 L500.9,404.7 L502.5,402.3 L503.7,395.9 L505.3,390.3 L506.9,387.5 L508.1,388.7 L509.5,391.9 L510.5,385.4 L512.1,380.2 L513.7,381.4 L514.6,383.5 L515.7,387.9 L516.9,384.6 L518.9,382.6 L520.1,383 L521.3,386.2 L522.5,385 L525,388.7 L527.4,392.3 L529.8,395.9 L532.2,399.9 L534.2,403.9 L536.2,407.1 L537.8,408.7 L538.6,409.5" stroke="#ff976e" stroke-width="1.3" fill="none" stroke-linejoin="round" stroke-linecap="round"/>
<path d="M392.80,406.60 L392.80,390.67 L393.13,389.68 L393.46,393.44 L393.79,393.81 L394.12,393.60 L394.45,392.02 L394.78,392.34 L395.11,392.15 L395.44,393.64 L395.77,393.20 L396.10,392.47 L396.43,393.05 L396.76,392.08 L397.09,392.76 L397.42,391.44 L397.75,392.36 L398.08,392.04 L398.41,390.99 L398.74,390.59 L399.07,392.56 L399.40,391.49 L399.73,392.81 L400.06,391.71 L400.39,393.16 L400.72,393.23 L401.05,392.78 L401.38,391.36 L401.71,390.60 L402.04,394.37 L402.37,392.40 L402.70,394.29 L403.03,392.23 L403.36,391.39 L403.69,392.45 L404.02,391.34 L404.35,392.50 L404.68,393.94 L405.01,393.27 L405.34,395.25 L405.67,392.79 L406.00,392.78 L406.33,391.65 L406.66,391.63 L406.99,392.72 L407.32,391.67 L407.65,392.19 L407.98,392.20 L408.31,391.43 L408.64,394.58 L408.97,390.73 L409.30,392.62 L409.63,393.08 L409.96,393.50 L410.29,392.11 L410.62,391.55 L410.95,394.71 L411.28,394.49 L411.61,392.65 L411.94,392.54 L412.27,392.61 L412.60,391.49 L412.93,392.48 L413.26,393.52 L413.59,393.20 L413.92,391.66 L414.25,393.23 L414.58,391.76 L414.91,391.03 L415.24,392.86 L415.57,393.12 L415.90,393.88 L416.23,391.75 L416.56,387.73 L416.89,393.04 L417.22,392.77 L417.55,392.15 L417.88,392.31 L418.21,393.00 L418.54,392.52 L418.87,391.43 L419.20,391.62 L419.53,392.45 L419.86,393.43 L420.19,392.97 L420.52,392.51 L420.85,392.03 L421.18,394.00 L421.51,392.11 L421.84,391.82 L422.17,392.12 L422.50,392.87 L422.83,392.55 L423.16,392.04 L423.49,392.11 L423.82,393.04 L424.15,392.99 L424.48,392.85 L424.81,391.69 L425.14,392.56 L425.47,393.68 L425.80,391.89 L426.13,394.13 L426.46,392.78 L426.79,393.45 L427.12,391.64 L427.45,393.85 L427.78,392.65 L428.11,392.98 L428.44,393.26 L428.77,394.08 L429.10,392.47 L429.43,393.21 L429.76,392.82 L430.09,391.26 L430.42,391.58 L430.75,391.36 L431.08,392.53 L431.41,392.87 L431.74,393.13 L432.07,393.57 L432.40,392.91 L432.73,391.52 L433.06,394.28 L433.39,392.82 L433.72,392.11 L434.05,391.19 L434.38,393.19 L434.71,388.15 L435.04,393.75 L435.37,389.59 L435.70,391.03 L436.03,392.24 L436.36,394.32 L436.69,390.90 L437.02,392.14 L437.35,390.67 L437.68,392.73 L438.01,394.29 L438.34,392.56 L438.67,392.47 L439.00,392.30 L439.33,392.34 L439.66,392.27 L439.99,393.22 L440.32,393.56 L440.65,390.42 L440.98,390.16 L441.31,393.53 L441.64,393.53 L441.97,391.25 L442.30,392.31 L442.63,392.90 L442.96,393.24 L443.29,392.70 L443.62,392.87 L443.95,392.38 L444.28,393.30 L444.61,392.57 L444.94,392.36 L445.27,392.28 L445.60,391.95 L445.93,393.22 L446.26,392.88 L446.59,392.84 L446.92,392.14 L447.25,393.27 L447.58,392.86 L447.91,391.56 L448.24,390.32 L448.57,392.15 L448.90,392.52 L449.23,394.51 L449.56,393.90 L449.89,393.36 L450.22,394.85 L450.55,392.14 L450.88,392.81 L451.21,393.39 L451.54,392.63 L451.87,387.02 L452.20,393.04 L452.53,392.51 L452.86,393.72 L453.19,390.87 L453.52,393.08 L453.85,394.22 L454.18,392.12 L454.51,391.92 L454.84,392.97 L455.17,392.65 L455.50,393.12 L455.83,392.22 L456.16,392.92 L456.49,393.32 L456.82,390.59 L457.15,392.65 L457.48,393.14 L457.81,391.58 L458.14,391.20 L458.47,393.37 L458.80,392.06 L459.13,392.95 L459.46,393.41 L459.79,391.34 L460.12,391.25 L460.45,392.89 L460.78,392.10 L461.11,388.64 L461.44,392.98 L461.77,393.42 L462.10,392.32 L462.43,393.23 L462.76,393.01 L463.09,392.90 L463.42,391.03 L463.75,391.44 L464.08,391.47 L464.41,387.45 L464.74,392.06 L465.07,393.83 L465.40,393.26 L465.73,394.00 L466.06,392.44 L466.39,393.22 L466.72,392.35 L467.05,392.23 L467.38,393.18 L467.71,392.68 L468.04,391.06 L468.37,393.23 L468.70,392.22 L469.03,394.47 L469.36,392.75 L469.69,392.98 L470.02,391.39 L470.35,393.73 L470.68,393.34 L471.01,391.87 L471.34,391.39 L471.67,391.58 L472.00,394.49 L472.33,391.62 L472.66,393.77 L472.99,391.83 L473.32,394.95 L473.65,393.76 L473.98,393.63 L474.31,392.63 L474.64,392.28 L474.97,393.35 L475.30,393.09 L475.63,391.81 L475.96,393.79 L476.29,392.95 L476.62,392.42 L476.95,392.70 L477.28,393.27 L477.61,393.37 L477.94,392.88 L478.27,392.96 L478.60,391.26 L478.60,394.50 L478.60,406.60 L478.60,406.68 L478.60,406.63 L478.27,406.66 L477.94,406.79 L477.61,406.44 L477.28,406.69 L476.95,406.33 L476.62,406.64 L476.29,406.57 L475.96,406.67 L475.63,406.56 L475.30,406.61 L474.97,406.82 L474.64,406.59 L474.31,406.48 L473.98,406.56 L473.65,406.70 L473.32,406.72 L472.99,406.83 L472.66,406.25 L472.33,406.79 L472.00,406.50 L471.67,406.31 L471.34,406.38 L471.01,406.63 L470.68,406.68 L470.35,406.46 L470.02,406.82 L469.69,406.66 L469.36,406.81 L469.03,406.73 L468.70,406.98 L468.37,406.58 L468.04,406.75 L467.71,406.71 L467.38,406.52 L467.05,406.56 L466.72,406.54 L466.39,406.54 L466.06,406.42 L465.73,406.44 L465.40,406.80 L465.07,406.50 L464.74,406.89 L464.41,406.40 L464.08,406.75 L463.75,406.56 L463.42,406.40 L463.09,406.41 L462.76,406.58 L462.43,406.47 L462.10,406.68 L461.77,406.47 L461.44,406.80 L461.11,406.45 L460.78,406.53 L460.45,406.58 L460.12,406.64 L459.79,406.35 L459.46,406.54 L459.13,406.66 L458.80,406.64 L458.47,406.49 L458.14,406.63 L457.81,406.75 L457.48,406.58 L457.15,406.50 L456.82,406.88 L456.49,406.44 L456.16,406.70 L455.83,406.38 L455.50,406.69 L455.17,406.82 L454.84,406.62 L454.51,406.78 L454.18,406.57 L453.85,406.40 L453.52,406.59 L453.19,406.53 L452.86,406.36 L452.53,406.74 L452.20,406.42 L451.87,406.58 L451.54,406.66 L451.21,406.63 L450.88,406.67 L450.55,406.84 L450.22,406.85 L449.89,406.78 L449.56,406.49 L449.23,406.75 L448.90,406.63 L448.57,406.63 L448.24,406.84 L447.91,406.48 L447.58,406.48 L447.25,406.66 L446.92,406.62 L446.59,406.74 L446.26,406.66 L445.93,406.62 L445.60,406.47 L445.27,406.62 L444.94,406.44 L444.61,406.49 L444.28,406.51 L443.95,406.77 L443.62,406.65 L443.29,406.53 L442.96,406.68 L442.63,406.77 L442.30,406.88 L441.97,406.68 L441.64,406.81 L441.31,406.57 L440.98,406.52 L440.65,406.71 L440.32,406.46 L439.99,406.54 L439.66,406.47 L439.33,406.66 L439.00,406.58 L438.67,406.37 L438.34,406.48 L438.01,406.51 L437.68,406.47 L437.35,406.42 L437.02,406.65 L436.69,406.78 L436.36,406.34 L436.03,406.93 L435.70,406.60 L435.37,406.45 L435.04,406.53 L434.71,406.74 L434.38,406.85 L434.05,406.77 L433.72,406.77 L433.39,406.47 L433.06,406.33 L432.73,406.42 L432.40,406.27 L432.07,406.36 L431.74,406.65 L431.41,406.62 L431.08,406.77 L430.75,406.77 L430.42,406.55 L430.09,406.57 L429.76,406.69 L429.43,406.53 L429.10,406.79 L428.77,406.70 L428.44,406.44 L428.11,406.77 L427.78,406.75 L427.45,406.65 L427.12,406.58 L426.79,406.61 L426.46,406.64 L426.13,406.65 L425.80,406.55 L425.47,406.69 L425.14,406.76 L424.81,406.65 L424.48,406.74 L424.15,406.62 L423.82,406.51 L423.49,406.55 L423.16,406.59 L422.83,406.72 L422.50,406.42 L422.17,406.58 L421.84,406.66 L421.51,406.75 L421.18,406.50 L420.85,406.67 L420.52,406.44 L420.19,406.66 L419.86,406.61 L419.53,406.42 L419.20,406.73 L418.87,406.71 L418.54,406.59 L418.21,406.66 L417.88,406.78 L417.55,406.42 L417.22,406.32 L416.89,406.59 L416.56,406.53 L416.23,406.73 L415.90,406.68 L415.57,406.76 L415.24,406.45 L414.91,406.34 L414.58,406.72 L414.25,406.39 L413.92,406.55 L413.59,406.62 L413.26,406.40 L412.93,406.47 L412.60,406.58 L412.27,406.40 L411.94,406.68 L411.61,406.60 L411.28,406.70 L410.95,406.56 L410.62,406.46 L410.29,406.66 L409.96,406.71 L409.63,406.54 L409.30,406.80 L408.97,406.70 L408.64,406.52 L408.31,406.43 L407.98,406.64 L407.65,406.54 L407.32,406.36 L406.99,406.51 L406.66,406.82 L406.33,406.73 L406.00,406.66 L405.67,406.75 L405.34,406.68 L405.01,406.72 L404.68,406.53 L404.35,406.66 L404.02,406.61 L403.69,406.52 L403.36,406.73 L403.03,406.32 L402.70,406.55 L402.37,406.55 L402.04,406.62 L401.71,406.61 L401.38,406.55 L401.05,406.67 L400.72,406.46 L400.39,406.61 L400.06,406.78 L399.73,406.61 L399.40,406.52 L399.07,406.37 L398.74,406.57 L398.41,406.85 L398.08,406.32 L397.75,406.50 L397.42,406.52 L397.09,406.81 L396.76,406.43 L396.43,406.48 L396.10,406.71 L395.77,406.81 L395.44,406.60 L395.11,406.28 L394.78,406.59 L394.45,406.61 L394.12,406.49 L393.79,406.43 L393.46,406.25 L393.13,406.56 L392.80,406.52Z" fill="#b86eff"/>
<path d="M562.20,406.60 L562.20,396.28 L562.53,395.94 L562.86,396.08 L563.19,394.64 L563.52,396.01 L563.85,395.29 L564.18,395.27 L564.51,396.19 L564.84,395.10 L565.17,394.51 L565.50,395.08 L565.83,394.57 L566.16,394.12 L566.49,395.31 L566.82,395.69 L567.15,393.90 L567.48,395.42 L567.81,395.40 L568.14,395.53 L568.47,394.52 L568.80,395.19 L569.13,395.28 L569.46,395.72 L569.79,394.51 L570.12,393.07 L570.45,396.11 L570.78,391.88 L571.11,393.88 L571.44,394.35 L571.77,395.30 L572.10,394.94 L572.43,396.31 L572.76,395.46 L573.09,395.98 L573.42,393.52 L573.75,395.74 L574.08,396.42 L574.41,394.93 L574.74,392.59 L575.07,395.76 L575.40,395.38 L575.73,394.55 L576.06,395.62 L576.39,395.24 L576.72,395.85 L577.05,395.97 L577.38,396.50 L577.71,394.84 L578.04,396.04 L578.37,395.92 L578.70,395.48 L579.03,395.86 L579.36,395.52 L579.69,395.90 L580.02,395.71 L580.35,395.04 L580.68,395.51 L581.01,395.90 L581.34,394.84 L581.67,395.16 L582.00,396.36 L582.33,395.67 L582.66,395.01 L582.99,395.05 L583.32,396.43 L583.65,395.77 L583.98,394.12 L584.31,395.81 L584.64,394.83 L584.97,395.37 L585.30,394.33 L585.63,395.25 L585.96,394.92 L586.29,394.61 L586.62,396.09 L586.95,397.18 L587.28,395.84 L587.61,395.59 L587.94,394.59 L588.27,395.27 L588.60,394.98 L588.93,394.14 L589.26,387.01 L589.59,395.41 L589.92,394.94 L590.25,394.41 L590.58,395.76 L590.91,396.40 L591.24,395.52 L591.57,395.10 L591.90,395.89 L592.23,394.77 L592.56,393.93 L592.89,396.66 L593.22,396.64 L593.55,395.25 L593.88,395.51 L594.21,396.63 L594.54,394.69 L594.87,395.55 L595.20,396.07 L595.53,396.68 L595.86,394.90 L596.19,394.89 L596.52,395.60 L596.85,395.06 L597.18,396.55 L597.51,394.94 L597.84,395.60 L598.17,395.59 L598.50,395.28 L598.83,394.29 L599.16,396.40 L599.49,395.61 L599.82,395.95 L600.15,395.89 L600.48,395.08 L600.81,395.17 L601.14,395.17 L601.47,396.28 L601.80,395.11 L602.13,393.90 L602.46,395.25 L602.79,394.83 L603.12,396.13 L603.45,395.02 L603.78,395.76 L604.11,395.44 L604.44,395.60 L604.77,394.85 L605.10,395.15 L605.43,395.43 L605.76,395.79 L606.09,395.75 L606.42,394.65 L606.75,395.25 L607.08,396.15 L607.41,395.96 L607.74,395.09 L608.07,395.13 L608.40,396.56 L608.73,395.98 L609.06,394.29 L609.39,396.94 L609.72,395.97 L610.05,395.67 L610.38,395.14 L610.71,394.72 L611.04,395.03 L611.37,394.93 L611.70,394.67 L612.03,394.06 L612.36,396.46 L612.69,396.42 L613.02,395.90 L613.35,395.58 L613.68,395.05 L614.01,395.17 L614.34,395.46 L614.67,394.87 L615.00,395.70 L615.33,395.46 L615.66,395.26 L615.99,395.62 L616.32,395.54 L616.65,396.17 L616.98,395.32 L617.31,394.81 L617.64,395.72 L617.97,396.41 L618.30,396.79 L618.63,396.15 L618.96,394.63 L619.29,395.00 L619.62,394.45 L619.95,393.24 L620.28,395.40 L620.61,394.82 L620.94,396.63 L621.27,396.16 L621.60,395.27 L621.93,396.16 L622.26,394.12 L622.59,395.88 L622.92,395.68 L623.25,397.13 L623.58,396.50 L623.91,396.02 L624.24,395.37 L624.57,395.29 L624.90,395.83 L625.23,395.46 L625.56,393.90 L625.89,394.75 L626.22,395.27 L626.55,394.37 L626.88,395.84 L627.21,395.21 L627.54,395.71 L627.87,396.19 L628.20,394.70 L628.53,394.28 L628.86,394.85 L629.19,396.09 L629.52,396.79 L629.85,396.65 L630.18,395.25 L630.51,395.52 L630.84,395.83 L631.17,395.01 L631.50,395.55 L631.83,395.41 L632.16,396.33 L632.49,395.23 L632.82,396.69 L633.15,394.57 L633.48,395.65 L633.81,394.40 L634.14,395.69 L634.47,395.60 L634.80,396.52 L635.13,395.81 L635.46,397.10 L635.79,395.49 L636.12,393.33 L636.45,395.95 L636.78,394.61 L637.11,395.63 L637.44,395.06 L637.77,396.38 L638.10,394.95 L638.43,396.12 L638.76,394.36 L639.09,396.28 L639.42,394.77 L639.75,395.78 L640.08,395.98 L640.41,395.24 L640.74,395.49 L641.07,396.48 L641.40,395.68 L641.73,395.64 L642.06,396.50 L642.39,395.94 L642.72,395.52 L643.05,395.84 L643.38,394.07 L643.71,393.73 L644.04,394.49 L644.37,395.91 L644.70,394.93 L645.03,394.43 L645.36,395.77 L645.69,396.06 L646.02,396.02 L646.35,395.17 L646.68,395.94 L647.01,395.45 L647.34,395.67 L647.67,396.41 L648.00,397.37 L648.33,394.33 L648.66,395.12 L648.99,394.47 L649.32,394.80 L649.65,396.50 L649.98,397.47 L650.31,396.31 L650.64,395.00 L650.97,394.45 L651.30,394.22 L651.63,396.43 L651.96,396.26 L652.29,395.38 L652.62,394.42 L652.95,396.06 L653.28,396.39 L653.61,395.35 L653.94,396.60 L654.27,394.60 L654.60,395.88 L654.93,396.65 L655.26,395.36 L655.59,395.89 L655.92,395.78 L656.25,395.42 L656.58,395.09 L656.91,394.91 L657.24,395.52 L657.57,397.32 L657.90,395.30 L658.23,395.34 L658.56,396.43 L658.89,393.80 L659.22,394.87 L659.55,395.22 L659.88,395.70 L660.21,395.19 L660.54,395.39 L660.87,395.11 L661.20,395.25 L661.53,395.62 L661.86,394.73 L662.19,394.84 L662.52,394.17 L662.85,396.20 L663.18,396.18 L663.51,395.65 L663.84,396.07 L664.17,394.55 L664.50,396.28 L664.83,395.69 L665.16,395.98 L665.49,396.25 L665.82,396.12 L666.15,396.62 L666.48,395.94 L666.81,396.58 L667.14,394.91 L667.47,396.35 L667.80,394.39 L667.90,395.21 L667.90,406.60 L667.90,406.59 L667.80,406.53 L667.47,406.62 L667.14,406.81 L666.81,406.27 L666.48,406.47 L666.15,406.40 L665.82,406.57 L665.49,406.61 L665.16,406.90 L664.83,406.61 L664.50,406.35 L664.17,406.58 L663.84,406.39 L663.51,406.74 L663.18,406.53 L662.85,406.47 L662.52,406.95 L662.19,406.10 L661.86,406.76 L661.53,406.65 L661.20,407.02 L660.87,406.64 L660.54,406.67 L660.21,406.72 L659.88,406.57 L659.55,406.85 L659.22,406.62 L658.89,406.57 L658.56,406.40 L658.23,406.44 L657.90,406.66 L657.57,406.57 L657.24,406.85 L656.91,406.63 L656.58,406.72 L656.25,406.54 L655.92,406.76 L655.59,406.42 L655.26,406.70 L654.93,406.43 L654.60,406.68 L654.27,406.85 L653.94,406.59 L653.61,406.56 L653.28,406.46 L652.95,406.59 L652.62,406.64 L652.29,406.79 L651.96,406.62 L651.63,406.80 L651.30,406.48 L650.97,406.59 L650.64,406.92 L650.31,406.61 L649.98,406.64 L649.65,406.44 L649.32,406.37 L648.99,406.29 L648.66,406.76 L648.33,406.58 L648.00,406.29 L647.67,406.59 L647.34,406.84 L647.01,406.42 L646.68,406.63 L646.35,406.73 L646.02,406.69 L645.69,406.68 L645.36,406.63 L645.03,406.69 L644.70,406.69 L644.37,406.61 L644.04,406.63 L643.71,406.36 L643.38,406.62 L643.05,406.51 L642.72,406.89 L642.39,406.50 L642.06,406.54 L641.73,406.69 L641.40,406.59 L641.07,406.51 L640.74,406.55 L640.41,406.72 L640.08,406.71 L639.75,406.55 L639.42,406.62 L639.09,406.58 L638.76,406.80 L638.43,406.60 L638.10,406.77 L637.77,406.79 L637.44,406.50 L637.11,406.63 L636.78,406.70 L636.45,406.71 L636.12,406.68 L635.79,406.43 L635.46,406.48 L635.13,406.62 L634.80,406.70 L634.47,406.65 L634.14,406.38 L633.81,406.67 L633.48,406.43 L633.15,406.59 L632.82,406.51 L632.49,406.61 L632.16,406.73 L631.83,406.55 L631.50,406.49 L631.17,406.60 L630.84,406.59 L630.51,406.58 L630.18,406.92 L629.85,406.81 L629.52,406.59 L629.19,406.75 L628.86,406.44 L628.53,406.75 L628.20,406.56 L627.87,406.68 L627.54,406.72 L627.21,407.00 L626.88,406.54 L626.55,406.63 L626.22,406.44 L625.89,406.85 L625.56,406.63 L625.23,406.65 L624.90,406.59 L624.57,406.67 L624.24,406.72 L623.91,406.78 L623.58,406.53 L623.25,406.74 L622.92,406.57 L622.59,406.63 L622.26,406.67 L621.93,406.67 L621.60,406.41 L621.27,406.70 L620.94,406.57 L620.61,406.56 L620.28,406.82 L619.95,406.79 L619.62,406.71 L619.29,406.89 L618.96,406.86 L618.63,406.77 L618.30,406.71 L617.97,406.56 L617.64,406.53 L617.31,406.63 L616.98,406.63 L616.65,406.29 L616.32,406.44 L615.99,406.73 L615.66,406.90 L615.33,406.57 L615.00,406.72 L614.67,406.56 L614.34,406.53 L614.01,406.71 L613.68,406.44 L613.35,406.53 L613.02,406.54 L612.69,406.93 L612.36,406.60 L612.03,406.60 L611.70,406.42 L611.37,406.62 L611.04,406.56 L610.71,406.66 L610.38,406.54 L610.05,406.55 L609.72,406.48 L609.39,406.75 L609.06,406.70 L608.73,406.38 L608.40,406.73 L608.07,406.53 L607.74,406.45 L607.41,406.62 L607.08,406.54 L606.75,406.41 L606.42,406.66 L606.09,406.58 L605.76,406.54 L605.43,406.32 L605.10,406.69 L604.77,406.90 L604.44,406.67 L604.11,406.35 L603.78,406.65 L603.45,406.85 L603.12,406.68 L602.79,406.60 L602.46,406.46 L602.13,406.41 L601.80,406.63 L601.47,406.64 L601.14,406.60 L600.81,406.49 L600.48,406.56 L600.15,406.60 L599.82,406.53 L599.49,406.51 L599.16,406.48 L598.83,406.63 L598.50,406.65 L598.17,406.47 L597.84,406.58 L597.51,406.61 L597.18,406.40 L596.85,406.56 L596.52,406.51 L596.19,406.72 L595.86,406.46 L595.53,406.57 L595.20,406.47 L594.87,406.69 L594.54,406.65 L594.21,406.78 L593.88,406.74 L593.55,406.58 L593.22,406.42 L592.89,406.83 L592.56,406.54 L592.23,406.80 L591.90,406.51 L591.57,406.64 L591.24,406.58 L590.91,406.80 L590.58,406.58 L590.25,406.70 L589.92,406.62 L589.59,406.65 L589.26,406.48 L588.93,406.55 L588.60,406.62 L588.27,406.81 L587.94,406.69 L587.61,406.39 L587.28,406.47 L586.95,406.58 L586.62,406.57 L586.29,406.43 L585.96,406.65 L585.63,406.83 L585.30,406.62 L584.97,406.71 L584.64,406.63 L584.31,406.44 L583.98,406.37 L583.65,406.56 L583.32,406.55 L582.99,406.92 L582.66,406.70 L582.33,406.70 L582.00,406.33 L581.67,406.73 L581.34,406.41 L581.01,406.62 L580.68,406.61 L580.35,406.53 L580.02,406.70 L579.69,406.41 L579.36,406.36 L579.03,406.64 L578.70,406.71 L578.37,406.99 L578.04,406.45 L577.71,406.92 L577.38,406.99 L577.05,406.67 L576.72,406.77 L576.39,406.38 L576.06,406.71 L575.73,406.44 L575.40,406.63 L575.07,406.47 L574.74,406.68 L574.41,406.50 L574.08,406.70 L573.75,406.45 L573.42,406.69 L573.09,406.49 L572.76,406.71 L572.43,406.69 L572.10,406.82 L571.77,406.67 L571.44,406.74 L571.11,406.66 L570.78,406.60 L570.45,406.56 L570.12,406.76 L569.79,406.55 L569.46,406.51 L569.13,406.60 L568.80,406.60 L568.47,406.62 L568.14,406.44 L567.81,406.76 L567.48,406.70 L567.15,406.34 L566.82,406.61 L566.49,406.54 L566.16,406.61 L565.83,407.01 L565.50,406.75 L565.17,406.60 L564.84,406.73 L564.51,406.78 L564.18,406.43 L563.85,406.82 L563.52,406.56 L563.19,406.43 L562.86,406.70 L562.53,406.48 L562.20,406.19Z" fill="#b86eff"/>
<path d="M621.80,406.80 L621.80,405.30 L622.15,405.15 L622.50,405.00 L622.85,405.47 L623.20,404.50 L623.55,403.47 L623.90,404.26 L624.25,404.90 L624.60,404.16 L624.95,401.92 L625.30,401.68 L625.65,402.76 L626.00,403.82 L626.35,403.84 L626.70,400.13 L627.05,403.72 L627.40,401.89 L627.75,402.20 L628.10,400.72 L628.45,403.67 L628.80,402.02 L629.15,400.77 L629.50,402.69 L629.85,401.64 L630.20,402.71 L630.55,404.05 L630.90,402.67 L631.25,404.29 L631.60,403.75 L631.95,404.66 L632.30,403.69 L632.65,405.00 L633.00,405.19 L633.35,405.19 L633.70,405.45 L633.70,406.80Z" fill="#fff"/>
<path d="M478.40,393.98 L478.70,394.31 L479.00,394.03 L479.30,393.76 L479.60,393.87 L479.90,393.90 L480.20,393.38 L480.50,392.76 L480.80,393.10 L481.10,392.57 L481.40,392.83 L481.70,392.11 L482.00,392.20 L482.30,391.25 L482.60,391.95 L482.90,390.75 L483.20,390.50 L483.50,390.49 L483.80,390.83 L484.10,389.63 L484.40,389.34 L484.70,388.06 L485.00,388.72 L485.30,387.86 L485.60,387.77 L485.90,387.69 L486.20,386.06 L486.50,386.09 L486.80,386.22 L487.10,385.89 L487.40,385.15 L487.70,384.30 L488.00,383.99 L488.30,383.64 L488.60,383.62 L488.90,383.36 L489.20,382.89 L489.50,382.53 L489.80,382.26 L490.10,381.51 L490.40,381.45 L490.70,380.39 L491.00,380.45 L491.30,380.67 L491.60,380.24 L491.90,380.18 L492.20,378.86 L492.50,379.38 L492.80,378.46 L493.10,378.80 L493.40,377.59 L493.70,377.79 L494.00,377.68 L494.30,376.99 L494.60,376.99 L494.90,377.81 L495.20,377.28 L495.50,376.84 L495.80,376.37 L496.10,376.15 L496.40,375.97 L496.70,376.84 L497.00,375.94 L497.30,375.86 L497.60,375.29 L497.90,375.30 L498.20,375.31 L498.50,374.85 L498.80,374.89 L499.10,374.66 L499.40,374.52 L499.70,374.23 L500.00,374.53 L500.30,374.22 L500.60,374.43 L500.90,374.11 L501.20,373.58 L501.50,373.92 L501.80,373.82 L502.10,374.01 L502.40,373.62 L502.40,376.28 L502.10,376.89 L501.80,377.10 L501.50,377.01 L501.20,377.43 L500.90,377.32 L500.60,377.07 L500.30,377.17 L500.00,377.41 L499.70,377.54 L499.40,377.95 L499.10,377.42 L498.80,378.35 L498.50,378.15 L498.20,378.76 L497.90,378.22 L497.60,378.24 L497.30,378.89 L497.00,379.64 L496.70,379.89 L496.40,379.80 L496.10,380.04 L495.80,380.27 L495.50,380.05 L495.20,380.66 L494.90,380.66 L494.60,381.29 L494.30,380.73 L494.00,381.28 L493.70,381.18 L493.40,382.47 L493.10,382.10 L492.80,382.71 L492.50,382.93 L492.20,383.19 L491.90,383.61 L491.60,383.74 L491.30,384.28 L491.00,384.30 L490.70,385.23 L490.40,385.78 L490.10,385.74 L489.80,386.42 L489.50,386.73 L489.20,387.69 L488.90,386.84 L488.60,387.91 L488.30,387.39 L488.00,388.18 L487.70,388.84 L487.40,388.38 L487.10,389.15 L486.80,389.00 L486.50,391.07 L486.20,390.75 L485.90,390.88 L485.60,391.42 L485.30,392.40 L485.00,392.40 L484.70,393.01 L484.40,393.43 L484.10,393.77 L483.80,394.06 L483.50,394.71 L483.20,394.75 L482.90,395.37 L482.60,394.80 L482.30,395.30 L482.00,396.24 L481.70,396.00 L481.40,396.15 L481.10,395.79 L480.80,396.53 L480.50,397.06 L480.20,396.82 L479.90,396.93 L479.60,397.73 L479.30,397.24 L479.00,397.79 L478.70,398.00 L478.40,397.77Z" fill="#b86eff"/>
<path d="M500.5,374 L502.5,370.5 L503.8,368.6 L506.8,367.2 L508.5,366.3 L509.6,366.8 L509.6,379 L508.6,377.2 L506.8,376.9 L504.5,378.8 L503.3,377.4 L500.5,377.8 Z" fill="#b86eff"/>
<path d="M500.50,377.30 v0.93 M500.95,377.30 v1.70 M501.40,377.30 v0.42 M501.85,377.30 v2.75 M503.20,377.30 v1.22 M504.55,377.30 v2.92 M505.90,377.30 v0.57 M506.80,377.30 v0.58 M507.25,377.30 v0.48 M508.15,377.30 v3.47 M509.05,377.30 v0.89" stroke="#b86eff" stroke-width="0.6"/>
<path d="M509.3,378 L510.3,368.8 L512.3,363.5 L513.8,365.8 L514.6,367 L515.4,375.5 L516.7,368.8 L517.5,371 L518.4,376.4 L519.9,368.5 L521.4,370.5 L523,374.5 L524.6,378.4 L526,372.3 L527.5,371" stroke="#b86eff" stroke-width="1.4" fill="none" stroke-linejoin="round" stroke-linecap="round"/>
<path d="M527.5,371 L527.81,370.86 L528.12,370.73 L528.43,370.62 L528.74,370.54 L529.04,370.5 L529.35,370.47 L529.66,370.45 L529.97,370.43 L530.28,370.41 L530.59,370.4 L530.9,370.4 L531.21,370.4 L531.52,370.4 L531.82,370.4 L532.13,370.4 L532.44,370.4 L532.75,370.4 L533.06,370.4 L533.37,370.4 L533.68,370.41 L533.99,370.42 L534.29,370.45 L534.6,370.48 L534.91,370.53 L535.22,370.57 L535.53,370.63 L535.84,370.68 L536.15,370.74 L536.46,370.79 L536.77,370.85 L537.07,370.91 L537.38,370.98 L537.69,371.06 L538,371.14 L538.31,371.23 L538.62,371.33 L538.93,371.43 L539.24,371.53 L539.55,371.64 L539.85,371.76 L540.16,371.89 L540.47,372.03 L540.78,372.19 L541.09,372.35 L541.4,372.53 L541.71,372.71 L542.02,372.89 L542.32,373.08 L542.63,373.27 L542.94,373.46 L543.25,373.66 L543.56,373.85 L543.87,374.06 L544.18,374.26 L544.49,374.48 L544.8,374.7 L545.1,374.92 L545.41,375.16 L545.72,375.4 L546.03,375.64 L546.34,375.9 L546.65,376.17 L546.96,376.46 L547.27,376.76 L547.58,377.06 L547.88,377.37 L548.19,377.68 L548.5,378 L548.81,378.31 L549.12,378.62 L549.43,378.92 L549.74,379.23 L550.05,379.53 L550.35,379.84 L550.66,380.15 L550.97,380.46 L551.28,380.78 L551.59,381.11 L551.9,381.44 L552.21,381.78 L552.52,382.13 L552.83,382.5 L553.13,382.87 L553.44,383.26 L553.75,383.66 L554.06,384.06 L554.37,384.46 L554.68,384.87 L554.99,385.28 L555.3,385.7 L555.61,386.11 L555.91,386.53 L556.22,386.96 L556.53,387.39 L556.84,387.83 L557.15,388.28 L557.46,388.74 L557.77,389.2 L558.08,389.68 L558.38,390.17 L558.69,390.67 L559,391.18 L559.31,391.69 L559.62,392.21 L559.93,392.77 L560.24,393.35 L560.55,393.91 L560.86,394.4 L561.16,394.8 L561.47,395.17 L561.78,395.49 L562.09,395.77 L562.4,396" stroke="#b86eff" stroke-width="1.4" fill="none" stroke-linejoin="round"/>
<path d="M392.80,391.00 L392.80,388.79 L393.13,388.37 L393.46,387.51 L393.79,387.88 L394.12,387.84 L394.45,389.16 L394.78,387.50 L395.11,388.66 L395.44,388.03 L395.77,388.47 L396.10,387.95 L396.43,388.15 L396.76,388.19 L397.09,388.00 L397.42,388.26 L397.75,388.10 L398.08,388.55 L398.41,388.83 L398.74,387.88 L399.07,387.82 L399.40,387.75 L399.73,385.43 L400.06,388.06 L400.39,387.64 L400.72,387.30 L401.05,387.10 L401.38,387.77 L401.71,388.14 L402.04,387.61 L402.37,387.10 L402.70,387.59 L403.03,387.79 L403.36,387.28 L403.69,387.19 L404.02,387.31 L404.35,387.78 L404.68,388.71 L405.01,387.92 L405.34,385.81 L405.67,387.48 L406.00,387.26 L406.33,387.68 L406.66,386.17 L406.99,388.00 L407.32,388.00 L407.65,387.64 L407.98,388.24 L408.31,387.75 L408.64,388.14 L408.97,385.39 L409.30,387.91 L409.63,387.89 L409.96,387.41 L410.29,388.04 L410.62,387.87 L410.95,387.52 L411.28,389.03 L411.61,387.83 L411.94,387.10 L412.27,386.95 L412.60,387.31 L412.93,386.64 L413.26,387.93 L413.59,387.19 L413.92,387.91 L414.25,387.03 L414.58,386.43 L414.91,388.24 L415.24,387.99 L415.57,386.83 L415.90,387.72 L416.23,387.50 L416.56,388.27 L416.89,387.89 L417.22,377.30 L417.55,387.77 L417.88,387.14 L418.21,387.23 L418.54,387.99 L418.87,387.18 L419.20,384.57 L419.53,388.74 L419.86,387.66 L420.19,387.21 L420.52,388.09 L420.85,386.38 L421.18,387.05 L421.51,388.02 L421.84,386.74 L422.17,387.98 L422.50,387.30 L422.83,388.19 L423.16,387.36 L423.49,388.23 L423.82,387.05 L424.15,387.76 L424.48,387.77 L424.81,386.95 L425.14,386.64 L425.47,387.23 L425.80,387.18 L426.13,386.82 L426.46,387.07 L426.79,388.68 L427.12,387.65 L427.45,388.37 L427.78,387.74 L428.11,388.11 L428.44,387.84 L428.77,387.58 L429.10,387.78 L429.43,388.63 L429.76,386.71 L430.09,386.66 L430.42,387.84 L430.75,386.91 L431.08,385.76 L431.41,387.60 L431.74,388.12 L432.07,387.81 L432.40,384.81 L432.73,387.63 L433.06,386.40 L433.39,388.48 L433.72,387.59 L434.05,386.77 L434.38,386.97 L434.71,387.34 L435.04,387.15 L435.37,387.52 L435.70,387.09 L436.03,387.68 L436.36,387.18 L436.69,387.37 L437.02,386.71 L437.35,387.02 L437.68,387.32 L437.80,386.91 L437.80,391.00 L437.80,391.11 L437.68,391.17 L437.35,390.91 L437.02,390.98 L436.69,390.93 L436.36,391.26 L436.03,391.03 L435.70,390.98 L435.37,390.90 L435.04,391.14 L434.71,391.00 L434.38,391.15 L434.05,391.10 L433.72,391.09 L433.39,390.88 L433.06,390.99 L432.73,391.06 L432.40,391.05 L432.07,390.96 L431.74,391.03 L431.41,390.99 L431.08,390.97 L430.75,390.78 L430.42,391.01 L430.09,390.78 L429.76,391.02 L429.43,391.09 L429.10,391.07 L428.77,390.62 L428.44,390.91 L428.11,390.92 L427.78,390.78 L427.45,391.35 L427.12,390.87 L426.79,390.91 L426.46,390.90 L426.13,390.83 L425.80,390.84 L425.47,390.84 L425.14,390.95 L424.81,390.76 L424.48,391.18 L424.15,391.18 L423.82,390.88 L423.49,391.16 L423.16,391.02 L422.83,391.09 L422.50,390.86 L422.17,390.93 L421.84,391.33 L421.51,390.82 L421.18,391.01 L420.85,390.86 L420.52,391.30 L420.19,391.20 L419.86,391.07 L419.53,391.22 L419.20,390.90 L418.87,391.12 L418.54,391.03 L418.21,391.11 L417.88,391.10 L417.55,391.26 L417.22,391.10 L416.89,390.91 L416.56,391.10 L416.23,391.04 L415.90,390.89 L415.57,391.06 L415.24,391.28 L414.91,390.83 L414.58,390.54 L414.25,391.05 L413.92,391.09 L413.59,391.06 L413.26,391.01 L412.93,391.24 L412.60,391.07 L412.27,390.90 L411.94,391.08 L411.61,390.85 L411.28,390.83 L410.95,391.15 L410.62,390.92 L410.29,390.83 L409.96,390.99 L409.63,390.80 L409.30,391.15 L408.97,390.87 L408.64,390.95 L408.31,390.94 L407.98,390.82 L407.65,391.21 L407.32,390.93 L406.99,391.03 L406.66,391.18 L406.33,390.95 L406.00,391.02 L405.67,390.99 L405.34,390.85 L405.01,391.14 L404.68,391.00 L404.35,390.97 L404.02,391.00 L403.69,391.19 L403.36,391.15 L403.03,391.05 L402.70,390.82 L402.37,390.84 L402.04,390.88 L401.71,390.99 L401.38,390.88 L401.05,390.82 L400.72,391.02 L400.39,390.91 L400.06,391.05 L399.73,391.06 L399.40,390.84 L399.07,391.05 L398.74,391.02 L398.41,391.14 L398.08,391.05 L397.75,390.64 L397.42,391.01 L397.09,390.93 L396.76,390.93 L396.43,391.15 L396.10,391.19 L395.77,391.18 L395.44,390.93 L395.11,390.88 L394.78,391.18 L394.45,391.12 L394.12,390.89 L393.79,390.87 L393.46,391.07 L393.13,391.08 L392.80,391.37Z" fill="#ff7cc8"/>
<path d="M603.20,391.40 L603.20,381.46 L603.53,381.86 L603.86,382.06 L604.19,381.11 L604.52,382.16 L604.85,381.85 L605.18,381.86 L605.51,381.86 L605.84,382.39 L606.17,381.13 L606.50,382.76 L606.83,382.41 L607.16,381.33 L607.49,382.08 L607.82,381.95 L608.15,380.64 L608.48,382.04 L608.81,381.33 L609.14,381.53 L609.47,381.32 L609.80,381.42 L610.13,381.72 L610.46,381.74 L610.79,380.74 L611.12,381.51 L611.45,380.87 L611.78,380.91 L612.11,381.46 L612.44,382.18 L612.77,382.05 L613.10,381.31 L613.43,380.97 L613.76,381.17 L614.09,381.75 L614.42,382.23 L614.75,381.68 L615.08,382.08 L615.41,381.85 L615.74,382.56 L616.07,380.46 L616.40,380.38 L616.73,381.54 L617.06,382.04 L617.39,381.41 L617.72,381.91 L618.05,380.95 L618.38,380.90 L618.71,381.22 L619.04,380.72 L619.37,382.07 L619.70,381.22 L620.03,381.76 L620.36,381.26 L620.69,381.66 L621.02,380.98 L621.35,381.62 L621.68,381.20 L622.01,381.62 L622.34,381.25 L622.67,381.15 L623.00,381.71 L623.33,381.44 L623.66,381.65 L623.99,381.38 L624.32,382.00 L624.65,381.14 L624.98,382.09 L625.31,382.43 L625.64,381.47 L625.97,382.68 L626.30,382.85 L626.63,381.89 L626.96,380.81 L627.29,380.66 L627.62,381.52 L627.95,382.69 L628.28,381.97 L628.61,382.08 L628.94,381.47 L629.27,379.13 L629.60,381.84 L629.93,380.95 L630.26,381.50 L630.59,381.92 L630.92,381.64 L631.25,381.93 L631.58,381.34 L631.91,381.97 L632.24,381.85 L632.57,380.62 L632.90,380.98 L633.23,381.17 L633.56,382.00 L633.89,381.79 L634.22,381.77 L634.55,381.71 L634.88,381.98 L635.21,382.17 L635.54,381.27 L635.87,380.64 L636.20,382.00 L636.53,381.47 L636.86,381.63 L637.19,381.49 L637.52,380.93 L637.85,378.31 L638.18,382.17 L638.51,382.25 L638.84,382.15 L639.17,381.71 L639.50,381.26 L639.83,380.88 L640.16,381.63 L640.49,381.34 L640.82,381.26 L641.15,381.71 L641.48,382.60 L641.81,380.45 L642.14,381.94 L642.47,380.87 L642.80,380.85 L643.13,381.76 L643.46,381.64 L643.79,381.30 L644.12,381.28 L644.45,380.73 L644.78,382.60 L645.11,379.73 L645.44,382.52 L645.77,381.40 L646.10,381.74 L646.43,381.79 L646.76,381.08 L647.09,381.41 L647.42,381.88 L647.75,381.31 L648.08,380.51 L648.41,380.80 L648.74,381.71 L649.07,381.36 L649.40,381.38 L649.73,382.37 L650.06,381.61 L650.39,379.41 L650.72,381.51 L651.05,382.85 L651.38,380.88 L651.71,382.62 L652.04,382.41 L652.37,381.45 L652.70,381.35 L653.03,382.40 L653.36,381.69 L653.69,381.23 L654.02,382.64 L654.35,380.21 L654.68,381.74 L655.01,381.56 L655.34,381.36 L655.67,381.61 L656.00,381.31 L656.33,381.84 L656.66,382.17 L656.99,382.18 L657.32,382.25 L657.65,382.43 L657.98,381.99 L658.31,381.17 L658.64,382.11 L658.97,376.21 L659.30,381.10 L659.63,381.70 L659.96,380.52 L660.29,382.41 L660.62,380.91 L660.95,380.62 L661.28,381.06 L661.61,381.06 L661.94,381.50 L662.27,381.42 L662.60,379.24 L662.93,381.42 L663.26,381.62 L663.59,380.92 L663.92,381.81 L664.25,381.05 L664.58,380.34 L664.91,382.29 L665.24,380.87 L665.57,380.85 L665.90,380.98 L666.23,381.90 L666.56,380.59 L666.89,381.26 L667.22,381.85 L667.55,382.64 L667.88,381.33 L667.90,381.53 L667.90,391.40 L667.90,391.44 L667.88,391.36 L667.55,391.04 L667.22,391.24 L666.89,391.48 L666.56,391.40 L666.23,391.23 L665.90,391.51 L665.57,391.54 L665.24,391.28 L664.91,391.48 L664.58,391.34 L664.25,391.38 L663.92,391.09 L663.59,391.47 L663.26,391.45 L662.93,391.53 L662.60,391.45 L662.27,391.46 L661.94,391.57 L661.61,391.62 L661.28,391.51 L660.95,391.48 L660.62,391.10 L660.29,391.21 L659.96,391.61 L659.63,391.13 L659.30,391.50 L658.97,391.47 L658.64,391.68 L658.31,391.45 L657.98,391.56 L657.65,391.01 L657.32,391.45 L656.99,391.66 L656.66,391.44 L656.33,391.15 L656.00,391.39 L655.67,391.01 L655.34,391.39 L655.01,391.58 L654.68,391.41 L654.35,391.07 L654.02,391.14 L653.69,391.21 L653.36,391.37 L653.03,391.36 L652.70,391.16 L652.37,391.41 L652.04,391.31 L651.71,391.43 L651.38,391.14 L651.05,391.34 L650.72,391.55 L650.39,391.61 L650.06,391.43 L649.73,391.45 L649.40,390.96 L649.07,391.13 L648.74,391.32 L648.41,391.54 L648.08,391.06 L647.75,391.32 L647.42,391.27 L647.09,391.27 L646.76,391.42 L646.43,391.68 L646.10,391.48 L645.77,391.21 L645.44,391.31 L645.11,391.44 L644.78,391.61 L644.45,391.28 L644.12,391.42 L643.79,391.37 L643.46,391.61 L643.13,391.60 L642.80,391.34 L642.47,391.30 L642.14,391.28 L641.81,391.42 L641.48,391.51 L641.15,391.34 L640.82,391.49 L640.49,391.16 L640.16,391.44 L639.83,391.25 L639.50,391.28 L639.17,391.47 L638.84,391.45 L638.51,391.50 L638.18,391.55 L637.85,391.78 L637.52,391.37 L637.19,391.45 L636.86,391.51 L636.53,391.41 L636.20,391.35 L635.87,391.00 L635.54,391.44 L635.21,391.36 L634.88,391.44 L634.55,391.38 L634.22,391.29 L633.89,391.30 L633.56,391.61 L633.23,391.30 L632.90,391.42 L632.57,391.66 L632.24,391.77 L631.91,391.55 L631.58,391.45 L631.25,391.53 L630.92,391.34 L630.59,391.28 L630.26,391.28 L629.93,391.50 L629.60,391.59 L629.27,391.29 L628.94,391.49 L628.61,391.63 L628.28,391.46 L627.95,391.40 L627.62,391.61 L627.29,391.47 L626.96,391.49 L626.63,391.48 L626.30,391.35 L625.97,391.47 L625.64,391.42 L625.31,391.74 L624.98,391.39 L624.65,391.21 L624.32,391.31 L623.99,391.32 L623.66,391.54 L623.33,391.29 L623.00,391.64 L622.67,391.33 L622.34,391.55 L622.01,391.56 L621.68,391.41 L621.35,391.44 L621.02,391.08 L620.69,391.32 L620.36,391.24 L620.03,391.42 L619.70,391.42 L619.37,391.32 L619.04,391.47 L618.71,391.60 L618.38,391.27 L618.05,391.25 L617.72,391.48 L617.39,391.51 L617.06,391.29 L616.73,391.11 L616.40,391.43 L616.07,391.13 L615.74,391.36 L615.41,391.26 L615.08,391.58 L614.75,391.55 L614.42,391.53 L614.09,391.69 L613.76,391.26 L613.43,391.27 L613.10,391.37 L612.77,391.35 L612.44,391.09 L612.11,391.42 L611.78,391.42 L611.45,391.37 L611.12,391.25 L610.79,391.37 L610.46,391.31 L610.13,391.15 L609.80,391.41 L609.47,391.25 L609.14,391.50 L608.81,391.36 L608.48,391.56 L608.15,391.23 L607.82,391.52 L607.49,391.33 L607.16,391.33 L606.83,391.34 L606.50,391.48 L606.17,391.43 L605.84,391.65 L605.51,391.50 L605.18,391.74 L604.85,391.36 L604.52,391.66 L604.19,391.27 L603.86,391.49 L603.53,391.08 L603.20,391.38Z" fill="#ff7cc8"/>
<path d="M623.20,391.70 L623.20,390.77 L623.55,390.01 L623.90,390.05 L624.25,388.76 L624.60,389.81 L624.95,388.18 L625.30,387.31 L625.65,387.32 L626.00,386.14 L626.35,386.87 L626.70,388.53 L627.05,388.72 L627.40,388.28 L627.75,388.68 L628.10,389.91 L628.45,389.44 L628.80,389.79 L629.15,390.31 L629.15,391.70Z" fill="#fff"/>
<path d="M437.5,388.73 L437.82,388.57 L438.14,388.26 L438.46,388.29 L438.78,387.83 L439.1,387.39 L439.42,388.11 L439.74,387.66 L440.05,386.85 L440.37,386.93 L440.69,386.85 L441.01,386.9 L441.33,386.94 L441.65,386.47 L441.97,386.07 L442.29,386.07 L442.61,385.68 L442.93,385.56 L443.25,385.12 L443.57,384.75 L443.89,385.13 L444.21,384.49 L444.52,384.35 L444.84,383.92 L445.16,383.69 L445.48,383.5 L445.8,383.51 L446.12,383.42 L446.44,383.02 L446.76,382.51 L447.08,383.12 L447.4,382.4 L447.72,382.2 L448.04,381.6 L448.36,381.45 L448.68,381.44 L448.99,380.63 L449.31,380.64 L449.63,380.7 L449.95,380.98 L450.27,380.26 L450.59,379.66 L450.91,379.39 L451.23,379.71 L451.55,379.04 L451.87,378.93 L452.19,379.27 L452.51,378.57 L452.83,378.24 L453.15,377.9 L453.46,378.19 L453.78,377.95 L454.1,377.21 L454.42,376.78 L454.74,376.86 L455.06,377 L455.38,376.53 L455.7,375.89 L456.02,376.06 L456.34,375.97 L456.66,375.58 L456.98,375.44 L457.3,375.22 L457.62,374.91 L457.93,374.7 L458.25,374.36 L458.57,374.24 L458.89,373.94 L459.21,374.32 L459.53,374.16 L459.85,373.89 L460.17,373.82 L460.49,373.55 L460.81,373.18 L461.13,373.25 L461.45,372.95 L461.77,372.82 L462.09,372.18 L462.4,372.41 L462.72,372.48 L463.04,372.13 L463.36,371.85 L463.68,371.5 L464,371.59 L464.32,371.96 L464.64,371.31 L464.96,371.58 L465.28,371.05 L465.6,371.28 L465.92,370.74 L466.24,370.81 L466.56,370.73 L466.87,370.56 L467.19,370.01 L467.51,370 L467.83,369.7 L468.15,369.72 L468.47,369.51 L468.79,369.36 L469.11,369.41 L469.43,368.83 L469.75,368.72 L470.07,368.61 L470.39,368.52 L470.71,368.21 L471.03,368.36 L471.34,367.79 L471.66,368.33 L471.98,367.73 L472.3,367.85 L472.62,367.12 L472.94,367.15 L473.26,367.11 L473.58,367.37 L473.9,366.81 L474.22,367.01 L474.54,366.33 L474.86,366.74 L475.18,366.06 L475.5,365.64 L475.81,365.46 L476.13,365.86 L476.45,365.62 L476.77,365.59 L477.09,365.37 L477.41,365.36 L477.73,365.5 L478.05,364.9 L478.37,364.87 L478.69,364.56 L479.01,364.09 L479.33,364.31 L479.65,364.63 L479.97,363.92 L480.28,364.58 L480.6,364.02 L480.92,363.87 L481.24,363.88 L481.56,363.53 L481.88,363.42 L482.2,363.63 L482.52,363.01 L482.84,363.04 L483.16,362.67 L483.48,362.89 L483.8,363.52 L484.12,362.95 L484.44,362.31 L484.75,362 L485.07,362.48 L485.39,362.42 L485.71,361.99 L486.03,362.38 L486.35,362.06 L486.67,362.04 L486.99,361.95 L487.31,361.95 L487.63,361.47 L487.95,361.31 L488.27,361.74 L488.59,361.27 L488.91,360.91 L489.22,361.22 L489.54,360.93 L489.86,361.04 L490.18,361.66 L490.5,361.23 L490.82,360.59 L491.14,360.31 L491.46,360.53 L491.78,360.21 L492.1,360.43 L492.42,360.36 L492.74,360.37 L493.06,360.12 L493.38,359.69 L493.69,359.92 L494.01,359.89 L494.33,359.85 L494.65,360.01 L494.97,359.37 L495.29,359.51 L495.61,359.32 L495.93,359.18 L496.25,359.47 L496.57,359.07 L496.89,359.63 L497.21,358.45 L497.53,359.37 L497.85,358.86 L498.16,358.53 L498.48,358.81 L498.8,358.72 L499.12,358.86 L499.44,358.85 L499.76,358.27 L500.08,358.39 L500.4,358.4" stroke="#ff7cc8" stroke-width="1.8" fill="none" stroke-linejoin="round"/>
<path d="M491,360.6 L496,359.2 L500,357.8 L502.7,355 L505,353.2 L507.3,354.3 L509.1,353.8 L509.6,356 L509.3,359.7 L507.5,361.5 L506.5,363.2 L503.8,362.4 L500,361.3 L496,361.6 L491,362.3 Z" fill="#ff7cc8"/>
<path d="M500.55,361.80 v0.39 M501.00,361.80 v2.11 M501.45,361.80 v5.74 M502.35,361.80 v1.02 M502.80,361.80 v0.49 M503.70,361.80 v2.17 M505.50,361.80 v0.36 M506.40,361.80 v0.78 M507.30,361.80 v1.75 M507.75,361.80 v0.31" stroke="#ff7cc8" stroke-width="0.6"/>
<path d="M509.3,358.5 L510.3,354.4 L512.6,350.6 L514.1,352.7 L515.2,360.3 L516.3,355 L517.6,352.4 L519,354.4 L520.2,358 L521.4,362.3 L522.5,357.6 L524.6,356.5 L526.6,359.7 L528.4,359.1 L530.7,362 L533,362.9 L535.4,361.7" stroke="#ff7cc8" stroke-width="1.4" fill="none" stroke-linejoin="round" stroke-linecap="round"/>
<path d="M584.00,375.74 v2.35 M585.35,376.38 v0.83 M588.05,377.62 v2.10 M588.50,377.82 v2.21 M588.95,378.02 v0.35 M591.20,378.99 v2.18 M591.65,379.18 v5.99 M592.10,379.36 v0.54 M593.45,379.86 v2.63 M593.90,380.02 v5.52 M594.35,380.18 v0.51 M594.80,380.33 v7.85 M595.25,380.47 v1.52 M595.70,380.62 v2.59 M598.85,381.48 v7.71 M599.30,381.58 v0.66 M599.75,381.69 v5.61 M600.65,381.90 v1.07 M601.10,382.00 v0.77 M602.00,382.22 v7.80 M602.90,382.43 v0.40 M603.35,382.54 v0.37" stroke="#ff7cc8" stroke-width="0.6"/>
<path d="M535.4,361.7 L535.72,361.65 L536.04,361.6 L536.36,361.54 L536.68,361.48 L537,361.42 L537.32,361.35 L537.64,361.28 L537.96,361.21 L538.28,361.13 L538.6,361.04 L538.92,360.94 L539.24,360.84 L539.56,360.74 L539.88,360.63 L540.2,360.53 L540.52,360.42 L540.84,360.33 L541.16,360.24 L541.48,360.15 L541.8,360.07 L542.12,359.99 L542.44,359.91 L542.76,359.83 L543.08,359.75 L543.4,359.67 L543.72,359.61 L544.05,359.54 L544.37,359.49 L544.69,359.44 L545.01,359.4 L545.33,359.36 L545.65,359.33 L545.97,359.3 L546.29,359.27 L546.61,359.24 L546.93,359.21 L547.25,359.18 L547.57,359.16 L547.89,359.14 L548.21,359.12 L548.53,359.11 L548.85,359.1 L549.17,359.1 L549.49,359.1 L549.81,359.12 L550.13,359.14 L550.45,359.18 L550.77,359.22 L551.09,359.26 L551.41,359.31 L551.73,359.36 L552.05,359.41 L552.37,359.47 L552.69,359.54 L553.01,359.63 L553.33,359.72 L553.65,359.83 L553.97,359.94 L554.29,360.06 L554.61,360.19 L554.93,360.32 L555.25,360.45 L555.57,360.59 L555.89,360.73 L556.21,360.88 L556.53,361.05 L556.85,361.23 L557.17,361.41 L557.49,361.6 L557.81,361.8 L558.13,361.99 L558.45,362.19 L558.77,362.38 L559.09,362.58 L559.41,362.78 L559.73,362.98 L560.05,363.19 L560.37,363.39 L560.69,363.6 L561.02,363.81 L561.34,364.02 L561.66,364.23 L561.98,364.45 L562.3,364.67 L562.62,364.89 L562.94,365.11 L563.26,365.32 L563.58,365.53 L563.9,365.74 L564.22,365.93 L564.54,366.12 L564.86,366.3 L565.18,366.48 L565.5,366.65 L565.82,366.82 L566.14,366.99 L566.46,367.15 L566.78,367.31 L567.1,367.47 L567.42,367.63 L567.74,367.78 L568.06,367.94 L568.38,368.09 L568.7,368.25 L569.02,368.41 L569.34,368.57 L569.66,368.72 L569.98,368.88 L570.3,369.03 L570.62,369.18 L570.94,369.34 L571.26,369.49 L571.58,369.64 L571.9,369.79 L572.22,369.94 L572.54,370.09 L572.86,370.25 L573.18,370.4 L573.5,370.56 L573.82,370.71 L574.14,370.87 L574.46,371.03 L574.78,371.19 L575.1,371.36 L575.42,371.52 L575.74,371.69 L576.06,371.85 L576.38,372.02 L576.7,372.19 L577.02,372.35 L577.34,372.52 L577.66,372.68 L577.98,372.84 L578.31,373 L578.63,373.16 L578.95,373.32 L579.27,373.48 L579.59,373.63 L579.91,373.79 L580.23,373.94 L580.55,374.1 L580.87,374.25 L581.19,374.4 L581.51,374.56 L581.83,374.71 L582.15,374.86 L582.47,375.01 L582.79,375.16 L583.11,375.31 L583.43,375.47 L583.75,375.62 L584.07,375.77 L584.39,375.92 L584.71,376.07 L585.03,376.23 L585.35,376.38 L585.67,376.53 L585.99,376.68 L586.31,376.83 L586.63,376.98 L586.95,377.13 L587.27,377.27 L587.59,377.42 L587.91,377.56 L588.23,377.7 L588.55,377.84 L588.87,377.99 L589.19,378.13 L589.51,378.27 L589.83,378.41 L590.15,378.55 L590.47,378.69 L590.79,378.82 L591.11,378.96 L591.43,379.09 L591.75,379.22 L592.07,379.35 L592.39,379.47 L592.71,379.59 L593.03,379.71 L593.35,379.83 L593.67,379.94 L593.99,380.05 L594.31,380.16 L594.63,380.27 L594.95,380.38 L595.28,380.48 L595.6,380.58 L595.92,380.68 L596.24,380.78 L596.56,380.87 L596.88,380.97 L597.2,381.05 L597.52,381.14 L597.84,381.22 L598.16,381.31 L598.48,381.39 L598.8,381.46 L599.12,381.54 L599.44,381.62 L599.76,381.69 L600.08,381.77 L600.4,381.84 L600.72,381.91 L601.04,381.99 L601.36,382.07 L601.68,382.14 L602,382.22 L602.32,382.3 L602.64,382.37 L602.96,382.45 L603.28,382.52 L603.6,382.6" stroke="#ff7cc8" stroke-width="1.5" fill="none" stroke-linejoin="round"/>
<path d="M392.80,376.00 L392.80,369.88 L393.13,369.11 L393.46,371.38 L393.79,370.09 L394.12,370.15 L394.45,369.60 L394.78,369.73 L395.11,369.86 L395.44,365.11 L395.77,369.22 L396.10,369.92 L396.43,369.81 L396.76,369.41 L397.09,369.02 L397.42,368.89 L397.75,368.78 L398.08,369.51 L398.41,369.10 L398.74,369.80 L399.07,368.71 L399.40,369.64 L399.73,369.19 L400.06,368.80 L400.39,369.73 L400.72,369.16 L401.05,369.51 L401.38,369.65 L401.71,369.26 L402.04,368.64 L402.37,369.01 L402.70,369.46 L403.03,368.45 L403.36,369.12 L403.69,368.64 L404.02,368.43 L404.35,368.35 L404.68,368.00 L405.01,368.46 L405.34,368.81 L405.67,367.36 L406.00,368.27 L406.33,368.60 L406.66,368.21 L406.99,368.85 L407.32,367.89 L407.65,368.76 L407.98,367.71 L408.31,368.50 L408.64,367.79 L408.97,369.24 L409.00,368.04 L409.00,376.00 L409.00,376.05 L408.97,375.93 L408.64,375.94 L408.31,376.02 L407.98,376.38 L407.65,375.89 L407.32,376.02 L406.99,375.98 L406.66,376.05 L406.33,376.00 L406.00,376.15 L405.67,375.89 L405.34,376.02 L405.01,376.07 L404.68,376.18 L404.35,376.11 L404.02,375.98 L403.69,376.04 L403.36,375.68 L403.03,376.11 L402.70,375.87 L402.37,376.02 L402.04,375.85 L401.71,375.97 L401.38,375.90 L401.05,375.73 L400.72,375.95 L400.39,376.04 L400.06,375.97 L399.73,376.12 L399.40,375.68 L399.07,375.77 L398.74,375.92 L398.41,376.22 L398.08,376.12 L397.75,375.68 L397.42,376.07 L397.09,375.98 L396.76,376.04 L396.43,375.75 L396.10,375.85 L395.77,375.89 L395.44,375.75 L395.11,375.85 L394.78,375.82 L394.45,375.99 L394.12,376.11 L393.79,375.98 L393.46,375.92 L393.13,375.97 L392.80,376.37Z" fill="#ff0000"/>
<path d="M658.20,376.00 L658.20,368.92 L658.53,370.06 L658.86,370.28 L659.19,370.03 L659.52,370.46 L659.85,369.59 L660.18,368.73 L660.51,369.55 L660.84,369.87 L661.17,369.83 L661.50,369.21 L661.83,368.34 L662.16,370.83 L662.49,369.57 L662.82,369.84 L663.15,369.18 L663.48,369.07 L663.81,369.94 L664.14,370.13 L664.47,368.99 L664.80,369.21 L665.13,369.13 L665.46,368.89 L665.79,369.04 L666.12,369.47 L666.45,368.49 L666.78,370.82 L667.11,368.67 L667.44,369.29 L667.77,370.60 L668.10,369.27 L668.43,366.71 L668.76,369.89 L669.09,370.54 L669.42,368.97 L669.75,370.42 L670.08,368.84 L670.41,370.64 L670.74,370.19 L671.07,369.83 L671.40,369.31 L671.73,370.45 L672.06,370.05 L672.39,370.26 L672.72,368.71 L673.05,369.50 L673.38,369.69 L673.71,369.85 L674.04,368.50 L674.37,368.51 L674.70,369.79 L675.03,369.24 L675.36,369.62 L675.69,368.80 L676.02,369.54 L676.35,368.93 L676.68,368.75 L677.01,368.75 L677.34,369.66 L677.67,368.45 L678.00,367.53 L678.33,368.91 L678.66,369.61 L678.99,369.82 L679.32,369.83 L679.65,370.00 L679.98,369.10 L680.31,369.14 L680.64,370.36 L680.97,369.33 L681.30,369.60 L681.63,368.81 L681.96,369.69 L682.29,368.65 L682.62,369.12 L682.95,369.24 L683.28,369.25 L683.61,367.95 L683.94,369.84 L684.20,369.92 L684.20,376.00 L684.20,376.07 L683.94,376.14 L683.61,376.12 L683.28,376.12 L682.95,375.90 L682.62,375.99 L682.29,375.95 L681.96,376.29 L681.63,375.99 L681.30,375.82 L680.97,375.72 L680.64,375.89 L680.31,376.16 L679.98,375.87 L679.65,376.10 L679.32,376.03 L678.99,375.97 L678.66,376.12 L678.33,376.00 L678.00,376.02 L677.67,376.13 L677.34,376.02 L677.01,376.30 L676.68,375.81 L676.35,375.71 L676.02,376.05 L675.69,376.04 L675.36,375.98 L675.03,376.05 L674.70,375.87 L674.37,376.05 L674.04,376.00 L673.71,376.15 L673.38,375.87 L673.05,375.98 L672.72,375.92 L672.39,376.18 L672.06,376.13 L671.73,375.89 L671.40,375.88 L671.07,376.37 L670.74,376.00 L670.41,375.93 L670.08,375.97 L669.75,375.84 L669.42,375.95 L669.09,376.12 L668.76,375.99 L668.43,376.00 L668.10,376.13 L667.77,375.96 L667.44,375.91 L667.11,376.03 L666.78,376.06 L666.45,375.87 L666.12,376.32 L665.79,376.01 L665.46,375.71 L665.13,375.88 L664.80,375.95 L664.47,375.94 L664.14,376.02 L663.81,375.97 L663.48,375.84 L663.15,376.19 L662.82,376.04 L662.49,375.90 L662.16,376.10 L661.83,375.82 L661.50,375.94 L661.17,375.98 L660.84,375.97 L660.51,376.13 L660.18,375.88 L659.85,376.17 L659.52,376.26 L659.19,376.01 L658.86,376.05 L658.53,375.99 L658.20,376.02Z" fill="#ff0000"/>
<path d="M408.6,370.18 L408.92,370 L409.25,369.66 L409.57,369.34 L409.89,369.28 L410.22,368.76 L410.54,368.5 L410.87,368.12 L411.19,367.65 L411.51,367.58 L411.84,367.42 L412.16,367.03 L412.48,366.63 L412.81,366.23 L413.13,366.54 L413.45,365.8 L413.78,365.53 L414.1,365.15 L414.42,365.19 L414.75,364.86 L415.07,364.4 L415.4,364.22 L415.72,364 L416.04,363.59 L416.37,363.19 L416.69,363.08 L417.01,362.93 L417.34,362.46 L417.66,362.32 L417.98,362.34 L418.31,362.23 L418.63,361.97 L418.95,361.67 L419.28,361.66 L419.6,361.15 L419.93,361.02 L420.25,360.8 L420.57,360.81 L420.9,360.29 L421.22,360.14 L421.54,360.34 L421.87,359.71 L422.19,359.23 L422.51,359.53 L422.84,359.36 L423.16,358.78 L423.49,358.57 L423.81,358.42 L424.13,358.35 L424.46,358.37 L424.78,358.13 L425.1,357.47 L425.43,357.83 L425.75,357.2 L426.07,357.21 L426.4,356.95 L426.72,356.7 L427.04,356.36 L427.37,356.82 L427.69,356.21 L428.02,356.31 L428.34,355.72 L428.66,355.8 L428.99,355.42 L429.31,355.43 L429.63,355.38 L429.96,354.85 L430.28,354.83 L430.6,354.77 L430.93,354.75 L431.25,354.57 L431.58,354.12 L431.9,353.88 L432.22,353.89 L432.55,353.96 L432.87,353.86 L433.19,353.27 L433.52,353.03 L433.84,353.17 L434.16,353.22 L434.49,353.28 L434.81,352.78 L435.13,352.79 L435.46,352.92 L435.78,352.47 L436.11,352.68 L436.43,352.72 L436.75,352.52 L437.08,352.56 L437.4,352.05 L437.72,351.72 L438.05,352.22 L438.37,351.95 L438.69,351.97 L439.02,351.63 L439.34,351.27 L439.66,351.3 L439.99,351.23 L440.31,351.07 L440.64,351.15 L440.96,351.1 L441.28,350.84 L441.61,350.53 L441.93,350.35 L442.25,350.72 L442.58,350.65 L442.9,350.46 L443.22,350.86 L443.55,350.35 L443.87,350.55 L444.2,350.48 L444.52,350.18 L444.84,350.51 L445.17,350.27 L445.49,350.19 L445.81,349.81 L446.14,349.86 L446.46,349.73 L446.78,349.84 L447.11,349.81 L447.43,349.89 L447.75,349.35 L448.08,349.64 L448.4,349.56 L448.73,349.62 L449.05,348.91 L449.37,349.44 L449.7,349 L450.02,349.17 L450.34,349.01 L450.67,348.89 L450.99,349.21 L451.31,349.1 L451.64,349.13 L451.96,348.9 L452.28,348.54 L452.61,348.91 L452.93,348.79 L453.26,348.96 L453.58,348.66 L453.9,348.44 L454.23,348.6 L454.55,348.28 L454.87,348.38 L455.2,348.37 L455.52,348.42 L455.84,348.28 L456.17,348.13 L456.49,348.3 L456.82,348.35 L457.14,348.26 L457.46,348.21 L457.79,348.02 L458.11,348.15 L458.43,347.81 L458.76,347.53 L459.08,347.74 L459.4,347.99 L459.73,347.38 L460.05,347.18 L460.37,347.9 L460.7,347.28 L461.02,347.63 L461.35,347.31 L461.67,347.59 L461.99,347.14 L462.32,347.14 L462.64,347.34 L462.96,347.21 L463.29,347.33 L463.61,347.49 L463.93,347.04 L464.26,347.07 L464.58,347 L464.9,346.9 L465.23,347.12 L465.55,346.85 L465.88,346.97 L466.2,347.13 L466.52,346.56 L466.85,346.71 L467.17,346.71 L467.49,346.64 L467.82,346.88 L468.14,346.73 L468.46,346.63 L468.79,346.45 L469.11,346.89 L469.44,345.92 L469.76,346.05 L470.08,346.32 L470.41,346.56 L470.73,346.18 L471.05,346.29 L471.38,345.94 L471.7,346.16 L472.02,346.02 L472.35,346.15 L472.67,345.94 L472.99,345.84 L473.32,345.86 L473.64,345.53 L473.97,345.86 L474.29,345.95 L474.61,345.65 L474.94,345.97 L475.26,345.8 L475.58,345.46 L475.91,345.78 L476.23,345.44 L476.55,345.75 L476.88,345.22 L477.2,345.31 L477.52,344.93 L477.85,345.23 L478.17,345.06 L478.5,345.01 L478.82,345.34 L479.14,345.28 L479.47,345.28 L479.79,344.93 L480.11,345.07 L480.44,344.48 L480.76,344.55 L481.08,344.73 L481.41,344.63 L481.73,344.53 L482.06,344.84 L482.38,344.91 L482.7,344.46 L483.03,344.71 L483.35,344.35 L483.67,344.23 L484,344.48 L484.32,344.29 L484.64,343.89 L484.97,344.15 L485.29,344.27 L485.61,343.72 L485.94,343.84 L486.26,343.99 L486.59,343.69 L486.91,343.7 L487.23,344.07 L487.56,344.14 L487.88,343.71 L488.2,343.64 L488.53,343.65 L488.85,343.33 L489.17,343.67 L489.5,343.73 L489.82,343.77 L490.15,343.98 L490.47,343.37 L490.79,343.73 L491.12,343.49 L491.44,343.34 L491.76,343.53 L492.09,343.3 L492.41,343.14 L492.73,343.4 L493.06,343.11 L493.38,343.27 L493.7,343.35 L494.03,343.27 L494.35,343 L494.68,343.37 L495,343.45 L495.32,343.07 L495.65,343.09 L495.97,342.85 L496.29,343.27 L496.62,343.08 L496.94,343.41 L497.26,343.49 L497.59,343.69 L497.91,343.43 L498.23,343.43 L498.56,343.7 L498.88,343.58 L499.21,343.76 L499.53,343.9 L499.85,343.63 L500.18,344.22 L500.5,343.97" stroke="#ff0000" stroke-width="1.7" fill="none" stroke-linejoin="round"/>
<path d="M500.5,343.5 L501.5,340.5 L503.8,338.2 L506.8,337.3 L508.2,339.3 L510,336.7 L512,338.8 L513,337.5 L513,341.5 L511,343 L509.7,344 L506.8,345.2 L503.8,347.5 L501,348.5 L500.5,346 Z" fill="#ff0000"/>
<path d="M501.5,346 L501.5,352.2" stroke="#ff0000" stroke-width="1.2" fill="none" stroke-linejoin="round" stroke-linecap="round"/>
<path d="M508.3,344 L508.3,352.8" stroke="#ff0000" stroke-width="1.0" fill="none" stroke-linejoin="round" stroke-linecap="round"/>
<path d="M500.95,345.50 v0.38 M502.30,345.50 v2.31 M502.75,345.50 v1.90 M503.20,345.50 v1.88 M504.10,345.50 v2.17 M504.55,345.50 v0.31 M505.00,345.50 v0.87 M505.45,345.50 v1.32 M507.25,345.50 v0.61 M508.15,345.50 v1.14 M508.60,345.50 v2.63 M509.05,345.50 v1.17 M509.95,345.50 v3.45 M510.85,345.50 v1.44 M511.30,345.50 v0.85 M512.20,345.50 v1.64 M512.65,345.50 v1.66" stroke="#ff0000" stroke-width="0.7"/>
<path d="M512.8,337.6 L514,334 L514.6,332.6 L515.5,335.8 L516.1,339.5 L516.7,343.6 L517.3,340 L518.2,337.4 L519,338.2 L520,343 L520.8,348 L521.4,350.4 L522.3,343.5 L524,341.1 L525.3,342.6 L526.2,345.5 L526.9,347.5 L528.4,344 L530.7,343.1 L533,342.3 L535.4,344 L538,345.3" stroke="#ff0000" stroke-width="1.5" fill="none" stroke-linejoin="round" stroke-linecap="round"/>
<path d="M538,345.3 L538.33,345.5 L538.65,345.68 L538.98,345.84 L539.3,345.95 L539.63,346.02 L539.96,346.08 L540.28,346.13 L540.61,346.16 L540.93,346.19 L541.26,346.2 L541.59,346.18 L541.91,346.12 L542.24,346.03 L542.56,345.92 L542.89,345.81 L543.22,345.69 L543.54,345.59 L543.87,345.49 L544.19,345.39 L544.52,345.29 L544.84,345.19 L545.17,345.09 L545.5,344.99 L545.82,344.89 L546.15,344.78 L546.47,344.68 L546.8,344.57 L547.13,344.46 L547.45,344.35 L547.78,344.25 L548.1,344.14 L548.43,344.05 L548.76,343.96 L549.08,343.88 L549.41,343.81 L549.73,343.74 L550.06,343.67 L550.39,343.61 L550.71,343.54 L551.04,343.49 L551.36,343.43 L551.69,343.39 L552.02,343.34 L552.34,343.31 L552.67,343.27 L552.99,343.25 L553.32,343.22 L553.65,343.2 L553.97,343.18 L554.3,343.16 L554.62,343.14 L554.95,343.12 L555.28,343.1 L555.6,343.07 L555.93,343.05 L556.25,343.03 L556.58,343 L556.9,342.98 L557.23,342.96 L557.56,342.94 L557.88,342.92 L558.21,342.91 L558.53,342.9 L558.86,342.9 L559.19,342.9 L559.51,342.92 L559.84,342.93 L560.16,342.95 L560.49,342.97 L560.82,343 L561.14,343.03 L561.47,343.05 L561.79,343.08 L562.12,343.11 L562.45,343.14 L562.77,343.17 L563.1,343.2 L563.42,343.24 L563.75,343.28 L564.08,343.32 L564.4,343.36 L564.73,343.41 L565.05,343.45 L565.38,343.5 L565.71,343.55 L566.03,343.61 L566.36,343.66 L566.68,343.72 L567.01,343.79 L567.34,343.86 L567.66,343.93 L567.99,344 L568.31,344.08 L568.64,344.16 L568.96,344.24 L569.29,344.32 L569.62,344.4 L569.94,344.49 L570.27,344.57 L570.59,344.65 L570.92,344.74 L571.25,344.82 L571.57,344.91 L571.9,345 L572.22,345.09 L572.55,345.18 L572.88,345.28 L573.2,345.37 L573.53,345.46 L573.85,345.56 L574.18,345.65 L574.51,345.75 L574.83,345.85 L575.16,345.95 L575.48,346.05 L575.81,346.15 L576.14,346.25 L576.46,346.35 L576.79,346.45 L577.11,346.56 L577.44,346.66 L577.77,346.76 L578.09,346.87 L578.42,346.97 L578.74,347.08 L579.07,347.19 L579.4,347.29 L579.72,347.4 L580.05,347.51 L580.37,347.62 L580.7,347.73 L581.02,347.84 L581.35,347.95 L581.68,348.06 L582,348.17 L582.33,348.28 L582.65,348.39 L582.98,348.49 L583.31,348.6 L583.63,348.7 L583.96,348.81 L584.28,348.91 L584.61,349.02 L584.94,349.12 L585.26,349.22 L585.59,349.33 L585.91,349.43 L586.24,349.53 L586.57,349.64 L586.89,349.74 L587.22,349.84 L587.54,349.95 L587.87,350.06 L588.2,350.16 L588.52,350.27 L588.85,350.38 L589.17,350.49 L589.5,350.6 L589.83,350.71 L590.15,350.82 L590.48,350.93 L590.8,351.04 L591.13,351.15 L591.46,351.26 L591.78,351.37 L592.11,351.49 L592.43,351.6 L592.76,351.71 L593.08,351.83 L593.41,351.95 L593.74,352.06 L594.06,352.18 L594.39,352.3 L594.71,352.42 L595.04,352.54 L595.37,352.66 L595.69,352.78 L596.02,352.9 L596.34,353.03 L596.67,353.15 L597,353.27 L597.32,353.39 L597.65,353.52 L597.97,353.64 L598.3,353.76 L598.63,353.88 L598.95,354 L599.28,354.12 L599.6,354.24 L599.93,354.36 L600.26,354.48 L600.58,354.59 L600.91,354.71 L601.23,354.83 L601.56,354.95 L601.89,355.07 L602.21,355.19 L602.54,355.31 L602.86,355.43 L603.19,355.55 L603.52,355.66 L603.84,355.78 L604.17,355.9 L604.49,356.01 L604.82,356.13 L605.14,356.24 L605.47,356.35 L605.8,356.46 L606.12,356.57 L606.45,356.68 L606.77,356.79 L607.1,356.9 L607.43,357.01 L607.75,357.11 L608.08,357.22 L608.4,357.32 L608.73,357.43 L609.06,357.53 L609.38,357.63 L609.71,357.73 L610.03,357.84 L610.36,357.94 L610.69,358.04 L611.01,358.14 L611.34,358.24 L611.66,358.34 L611.99,358.44 L612.32,358.54 L612.64,358.64 L612.97,358.74 L613.29,358.84 L613.62,358.94 L613.95,359.04 L614.27,359.15 L614.6,359.25 L614.92,359.35 L615.25,359.45 L615.58,359.55 L615.9,359.66 L616.23,359.76 L616.55,359.86 L616.88,359.96 L617.2,360.07 L617.53,360.17 L617.86,360.27 L618.18,360.37 L618.51,360.47 L618.83,360.57 L619.16,360.66 L619.49,360.76 L619.81,360.86 L620.14,360.95 L620.46,361.04 L620.79,361.13 L621.12,361.22 L621.44,361.31 L621.77,361.4 L622.09,361.48 L622.42,361.57 L622.75,361.65 L623.07,361.73 L623.4,361.81 L623.72,361.89 L624.05,361.97 L624.38,362.05 L624.7,362.12 L625.03,362.2 L625.35,362.28 L625.68,362.35 L626.01,362.43 L626.33,362.51 L626.66,362.58 L626.98,362.66 L627.31,362.74 L627.64,362.81 L627.96,362.89 L628.29,362.97 L628.61,363.05 L628.94,363.13 L629.26,363.21 L629.59,363.28 L629.92,363.36 L630.24,363.44 L630.57,363.52 L630.89,363.6 L631.22,363.68 L631.55,363.76 L631.87,363.83 L632.2,363.91 L632.52,363.99 L632.85,364.07 L633.18,364.14 L633.5,364.22 L633.83,364.3 L634.15,364.37 L634.48,364.45 L634.81,364.52 L635.13,364.6 L635.46,364.67 L635.78,364.75 L636.11,364.82 L636.44,364.9 L636.76,364.97 L637.09,365.04 L637.41,365.12 L637.74,365.19 L638.07,365.26 L638.39,365.34 L638.72,365.41 L639.04,365.48 L639.37,365.55 L639.7,365.62 L640.02,365.69 L640.35,365.77 L640.67,365.84 L641,365.91 L641.32,365.98 L641.65,366.04 L641.98,366.11 L642.3,366.18 L642.63,366.24 L642.95,366.31 L643.28,366.38 L643.61,366.44 L643.93,366.51 L644.26,366.58 L644.58,366.65 L644.91,366.72 L645.24,366.8 L645.56,366.87 L645.89,366.95 L646.21,367.03 L646.54,367.11 L646.87,367.2 L647.19,367.28 L647.52,367.37 L647.84,367.47 L648.17,367.56 L648.5,367.65 L648.82,367.75 L649.15,367.85 L649.47,367.94 L649.8,368.04 L650.13,368.14 L650.45,368.24 L650.78,368.33 L651.1,368.43 L651.43,368.53 L651.76,368.63 L652.08,368.73 L652.41,368.83 L652.73,368.93 L653.06,369.03 L653.38,369.13 L653.71,369.23 L654.04,369.34 L654.36,369.44 L654.69,369.53 L655.01,369.63 L655.34,369.73 L655.67,369.82 L655.99,369.91 L656.32,370 L656.64,370.09 L656.97,370.18 L657.3,370.26 L657.62,370.35 L657.95,370.43 L658.27,370.52 L658.6,370.6" stroke="#ff0000" stroke-width="1.6" fill="none" stroke-linejoin="round"/>
<path d="M596.40,353.05 v1.09 M597.60,353.50 v2.43 M598.40,353.80 v1.24 M598.80,353.94 v0.63 M600.00,354.38 v0.94 M600.40,354.53 v1.08 M600.80,354.67 v1.74 M602.40,355.26 v0.58 M604.00,355.84 v1.06 M604.80,356.12 v0.74 M605.20,356.26 v0.67 M606.80,356.80 v4.21 M607.60,357.06 v2.77 M608.40,357.32 v2.57 M608.80,357.45 v3.32 M609.20,357.57 v0.58 M609.60,357.70 v0.56 M610.00,357.83 v0.98 M611.20,358.20 v0.90 M611.60,358.32 v0.55 M612.80,358.69 v1.62 M613.20,358.81 v1.90 M613.60,358.94 v2.61 M614.40,359.19 v0.91 M614.80,359.31 v0.89 M615.20,359.44 v1.01 M615.60,359.56 v0.98 M616.40,359.81 v0.97 M616.80,359.94 v0.89 M617.20,360.06 v0.67 M617.60,360.19 v0.83 M618.00,360.31 v2.17 M618.80,360.56 v0.79 M619.60,360.79 v1.92 M620.40,361.02 v1.78 M622.00,361.46 v1.36 M622.40,361.56 v1.95 M622.80,361.66 v0.93 M623.60,361.86 v1.46 M624.80,362.15 v0.83 M626.00,362.43 v3.23 M626.40,362.52 v0.60 M626.80,362.62 v1.26 M627.60,362.80 v1.59 M628.40,363.00 v4.64 M628.80,363.09 v1.74 M629.20,363.19 v3.41 M630.00,363.38 v0.75 M630.40,363.48 v0.74 M630.80,363.58 v2.88 M631.20,363.67 v4.32 M631.60,363.77 v1.67 M632.40,363.96 v2.91 M632.80,364.05 v0.56 M633.60,364.24 v3.08 M634.00,364.34 v1.36 M634.40,364.43 v2.76 M634.80,364.52 v0.73 M635.20,364.62 v4.94 M635.60,364.71 v0.81 M636.00,364.80 v0.90 M636.80,364.98 v4.62 M637.20,365.07 v0.61 M637.60,365.16 v10.42 M638.40,365.34 v4.04 M638.80,365.43 v4.93 M639.20,365.51 v3.95 M639.60,365.60 v2.12 M640.40,365.78 v6.82 M641.20,365.95 v1.44 M641.60,366.03 v7.62 M642.40,366.20 v2.89 M642.80,366.28 v4.64 M643.20,366.36 v1.82 M643.60,366.44 v1.15 M644.00,366.53 v0.62 M644.40,366.61 v1.40 M644.80,366.70 v4.86 M645.60,366.88 v1.81 M646.40,367.07 v5.58 M647.20,367.29 v0.71 M647.60,367.40 v4.53 M648.00,367.51 v2.10 M648.40,367.63 v0.77 M648.80,367.74 v0.65 M649.60,367.98 v0.67 M650.00,368.10 v0.97 M651.20,368.46 v3.61 M651.60,368.58 v1.26 M652.00,368.70 v14.38 M653.20,369.08 v4.79 M653.60,369.20 v1.20 M654.00,369.32 v2.74 M654.40,369.45 v0.83 M654.80,369.57 v1.74 M655.20,369.69 v1.85 M655.60,369.80 v8.04 M656.00,369.91 v4.68 M656.40,370.02 v6.56 M656.80,370.13 v1.34 M657.20,370.24 v2.09 M657.60,370.34 v1.02 M658.00,370.45 v5.68 M658.40,370.55 v1.45 M658.80,370.65 v1.78" stroke="#ff0000" stroke-width="0.6"/>
</g>
<rect x="392.8" y="314.6" width="291.4" height="122.1" fill="none" stroke="#1e1e1e" stroke-width="1.3"/>
<path d="M461.43,436.7 v-3.8 M461.43,314.6 v3.8 M530.05,436.7 v-3.8 M530.05,314.6 v3.8 M598.67,436.7 v-3.8 M598.67,314.6 v3.8 M667.3,436.7 v-3.8 M667.3,314.6 v3.8 M392.8,329.86 h3.8 M684.2,329.86 h-3.8 M392.8,345.12 h3.8 M684.2,345.12 h-3.8 M392.8,360.39 h3.8 M684.2,360.39 h-3.8 M392.8,375.65 h3.8 M684.2,375.65 h-3.8 M392.8,390.91 h3.8 M684.2,390.91 h-3.8 M392.8,406.18 h3.8 M684.2,406.18 h-3.8 M392.8,421.44 h3.8 M684.2,421.44 h-3.8" stroke="#1e1e1e" stroke-width="1.2" fill="none"/>
<text x="392.8" y="450" font-size="11" text-anchor="middle" fill="#111" font-weight="normal" >1200</text>
<text x="461.43" y="450" font-size="11" text-anchor="middle" fill="#111" font-weight="normal" >1400</text>
<text x="530.05" y="450" font-size="11" text-anchor="middle" fill="#111" font-weight="normal" >1600</text>
<text x="598.67" y="450" font-size="11" text-anchor="middle" fill="#111" font-weight="normal" >1800</text>
<text x="667.3" y="450" font-size="11" text-anchor="middle" fill="#111" font-weight="normal" >2000</text>
<text x="538.6" y="470.9" font-size="13" text-anchor="middle" fill="#111" font-weight="normal" >Wavelength (nm)</text>
<text transform="translate(374.9,375.6) rotate(-90)" text-anchor="middle" font-size="13" fill="#111">Intensity (20 dB/div)</text>
<path d="M402.4,327.2 h16.6" stroke="#ff0000" stroke-width="1.3"/>
<text x="423" y="331.3" font-size="11" text-anchor="start" fill="#111" font-weight="normal" >105 pJ</text>
<path d="M463.3,327.2 h16.6" stroke="#ff7cc8" stroke-width="1.3"/>
<text x="483.9" y="331.3" font-size="11" text-anchor="start" fill="#111" font-weight="normal" >98 pJ</text>
<path d="M518.9,327.2 h16.6" stroke="#b86eff" stroke-width="1.3"/>
<text x="539.5" y="331.3" font-size="11" text-anchor="start" fill="#111" font-weight="normal" >90 pJ</text>
<path d="M573.9,327.2 h16.6" stroke="#ff976e" stroke-width="1.3"/>
<text x="594.5" y="331.3" font-size="11" text-anchor="start" fill="#111" font-weight="normal" >70 pJ</text>
<path d="M628.8,327.2 h16.6" stroke="#7cc4ec" stroke-width="1.3"/>
<text x="649.4" y="331.3" font-size="11" text-anchor="start" fill="#111" font-weight="normal" >1.5 pJ</text>
</svg>
</body></html>
